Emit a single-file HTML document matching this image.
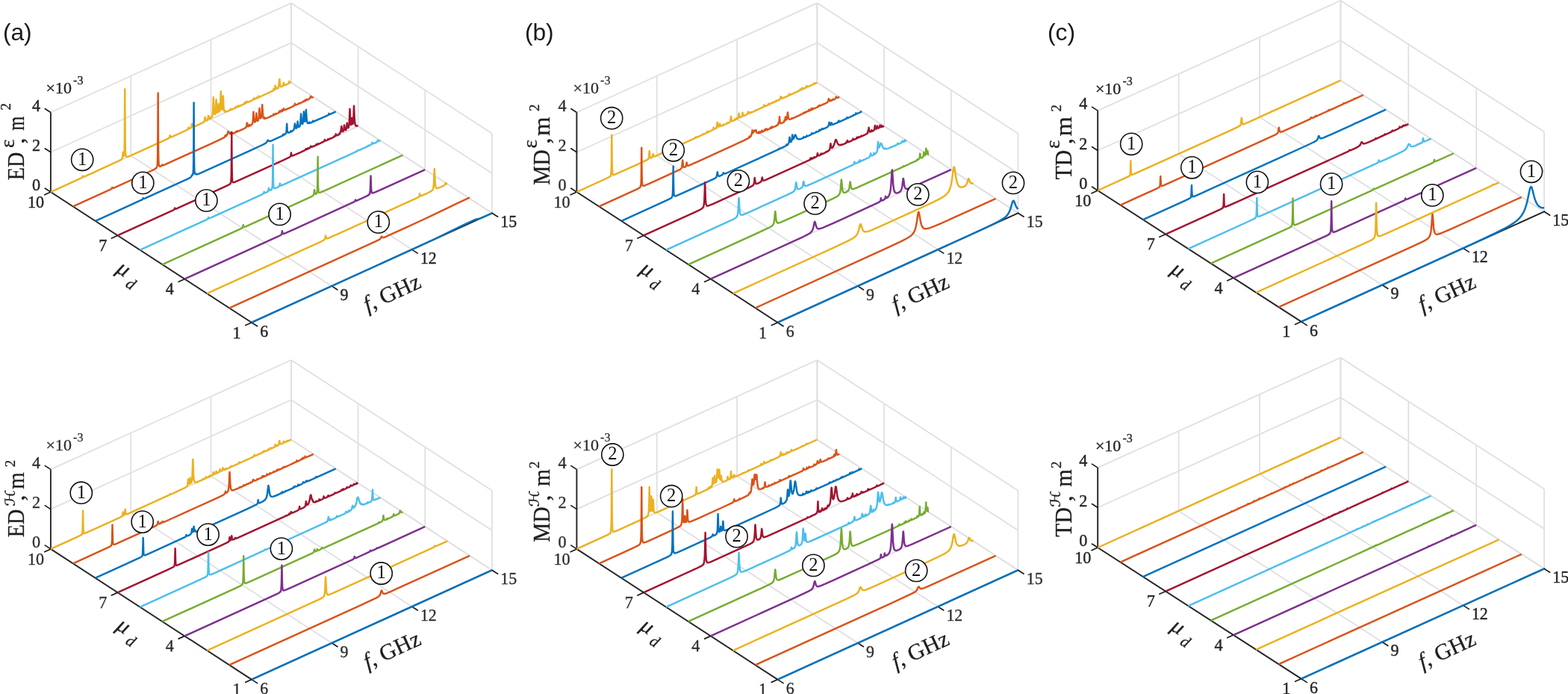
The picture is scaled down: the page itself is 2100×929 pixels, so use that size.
<!DOCTYPE html>
<html lang="en"><head><meta charset="utf-8"><title>Multipole decomposition spectra</title>
<style>
html,body{margin:0;padding:0;background:#fff;width:2100px;height:929px;overflow:hidden}
svg{display:block}
text{font-family:"Liberation Serif","DejaVu Serif",serif;fill:#262626}
.sans{font-family:"Liberation Sans","DejaVu Sans",sans-serif;fill:#1a1a1a}
.tk{font-size:23.6px;stroke-width:0.45px}
.lab{fill:#1f1f1f;stroke:#1f1f1f;stroke-width:0.3px}
.scr{font-family:"DejaVu Sans","DejaVu Math TeX Gyre","Liberation Serif",sans-serif}
.circ{font-size:24.6px;fill:#111;text-anchor:middle}
</style></head>
<body>
<svg width="2100" height="929" viewBox="0 0 2100 929">
<rect width="2100" height="929" fill="#ffffff"/>
<g id="panel-a1">
<g class="grid"><line x1="337.00" y1="431.70" x2="67.90" y2="257.00" stroke="#e0e0e2" stroke-width="1.8" /><line x1="444.33" y1="382.90" x2="175.23" y2="208.20" stroke="#e0e0e2" stroke-width="1.8" /><line x1="551.67" y1="334.10" x2="282.57" y2="159.40" stroke="#e0e0e2" stroke-width="1.8" /><line x1="659.00" y1="285.30" x2="389.90" y2="110.60" stroke="#e0e0e2" stroke-width="1.8" /><line x1="337.00" y1="431.70" x2="659.00" y2="285.30" stroke="#e0e0e2" stroke-width="1.8" /><line x1="247.30" y1="373.47" x2="569.30" y2="227.07" stroke="#e0e0e2" stroke-width="1.8" /><line x1="157.60" y1="315.23" x2="479.60" y2="168.83" stroke="#e0e0e2" stroke-width="1.8" /><line x1="67.90" y1="257.00" x2="389.90" y2="110.60" stroke="#e0e0e2" stroke-width="1.8" /><line x1="67.90" y1="257.00" x2="67.90" y2="150.50" stroke="#e0e0e2" stroke-width="1.8" /><line x1="175.23" y1="208.20" x2="175.23" y2="101.70" stroke="#e0e0e2" stroke-width="1.8" /><line x1="282.57" y1="159.40" x2="282.57" y2="52.90" stroke="#e0e0e2" stroke-width="1.8" /><line x1="389.90" y1="110.60" x2="389.90" y2="4.10" stroke="#e0e0e2" stroke-width="1.8" /><line x1="67.90" y1="257.00" x2="389.90" y2="110.60" stroke="#e0e0e2" stroke-width="1.8" /><line x1="67.90" y1="203.75" x2="389.90" y2="57.35" stroke="#e0e0e2" stroke-width="1.8" /><line x1="67.90" y1="150.50" x2="389.90" y2="4.10" stroke="#e0e0e2" stroke-width="1.8" /><line x1="659.00" y1="285.30" x2="659.00" y2="178.80" stroke="#e0e0e2" stroke-width="1.8" /><line x1="569.30" y1="227.07" x2="569.30" y2="120.57" stroke="#e0e0e2" stroke-width="1.8" /><line x1="479.60" y1="168.83" x2="479.60" y2="62.33" stroke="#e0e0e2" stroke-width="1.8" /><line x1="389.90" y1="110.60" x2="389.90" y2="4.10" stroke="#e0e0e2" stroke-width="1.8" /><line x1="389.90" y1="110.60" x2="659.00" y2="285.30" stroke="#e0e0e2" stroke-width="1.8" /><line x1="389.90" y1="57.35" x2="659.00" y2="232.05" stroke="#e0e0e2" stroke-width="1.8" /><line x1="389.90" y1="4.10" x2="659.00" y2="178.80" stroke="#e0e0e2" stroke-width="1.8" /></g>
<g class="axes"><line x1="67.90" y1="257.00" x2="67.90" y2="150.50" stroke="#262626" stroke-width="1.9" /><line x1="67.90" y1="257.00" x2="337.00" y2="431.70" stroke="#262626" stroke-width="1.9" stroke-linecap="square"/><line x1="337.00" y1="431.70" x2="659.00" y2="285.30" stroke="#262626" stroke-width="1.9" stroke-linecap="square"/><line x1="337.00" y1="431.70" x2="328.17" y2="435.71" stroke="#1c1c1c" stroke-width="1.7" /><line x1="247.30" y1="373.47" x2="238.47" y2="377.48" stroke="#1c1c1c" stroke-width="1.7" /><line x1="157.60" y1="315.23" x2="148.77" y2="319.25" stroke="#1c1c1c" stroke-width="1.7" /><line x1="67.90" y1="257.00" x2="59.07" y2="261.01" stroke="#1c1c1c" stroke-width="1.7" /><line x1="337.00" y1="431.70" x2="345.14" y2="436.98" stroke="#1c1c1c" stroke-width="1.7" /><line x1="444.33" y1="382.90" x2="452.47" y2="388.18" stroke="#1c1c1c" stroke-width="1.7" /><line x1="551.67" y1="334.10" x2="559.80" y2="339.38" stroke="#1c1c1c" stroke-width="1.7" /><line x1="659.00" y1="285.30" x2="667.14" y2="290.58" stroke="#1c1c1c" stroke-width="1.7" /><line x1="67.90" y1="257.00" x2="59.76" y2="251.72" stroke="#1c1c1c" stroke-width="1.7" /><line x1="67.90" y1="203.75" x2="59.76" y2="198.47" stroke="#1c1c1c" stroke-width="1.7" /><line x1="67.90" y1="150.50" x2="59.76" y2="145.22" stroke="#1c1c1c" stroke-width="1.7" /></g>
<g class="curves"><path d="M67.90,257.00 L108.65,238.42 L109.90,237.71 L110.40,237.20 L111.08,235.49 L111.65,236.48 L111.90,236.63 L112.65,236.54 L114.40,235.83 L157.40,216.22 L161.40,214.17 L162.40,213.47 L163.15,212.67 L163.65,211.67 L163.90,210.77 L164.15,209.30 L164.75,203.73 L164.90,204.25 L165.40,208.20 L165.65,208.82 L165.90,208.69 L166.15,207.81 L166.40,205.69 L166.65,200.58 L166.90,185.33 L167.25,119.24 L167.65,190.04 L167.90,201.86 L168.15,206.04 L168.40,207.89 L168.65,208.83 L169.15,209.63 L169.65,209.88 L170.15,209.91 L171.15,209.71 L172.40,209.28 L177.65,207.04 L224.90,185.54 L226.15,184.83 L226.65,184.38 L226.90,184.01 L227.15,183.38 L227.66,181.22 L228.15,182.88 L228.40,183.31 L228.90,183.49 L229.65,183.32 L235.90,180.59 L249.65,174.24 L250.90,173.55 L251.65,172.89 L251.90,172.51 L252.62,170.62 L253.15,171.56 L253.40,171.83 L253.65,171.93 L254.15,171.86 L254.65,171.64 L255.15,171.30 L255.65,170.79 L256.15,169.87 L256.40,169.06 L256.90,166.37 L257.11,165.69 L257.40,166.52 L257.90,168.63 L258.15,168.42 L258.40,167.50 L258.65,167.86 L258.90,169.10 L259.15,169.57 L260.15,169.34 L262.15,168.54 L270.15,164.83 L271.40,164.15 L272.40,163.46 L272.90,162.97 L273.40,162.18 L273.90,160.56 L274.40,157.44 L274.59,156.81 L275.40,160.28 L275.65,160.81 L276.15,161.21 L276.65,161.20 L277.40,160.81 L277.90,160.23 L278.15,159.72 L278.40,158.89 L279.08,154.86 L279.65,157.80 L279.90,158.61 L280.15,159.01 L280.40,159.18 L280.90,159.21 L281.15,158.34 L281.40,156.91 L281.65,157.05 L281.90,158.24 L282.15,158.60 L283.15,157.66 L283.90,156.35 L284.40,154.61 L284.65,153.10 L284.90,150.74 L285.15,146.80 L285.65,132.63 L285.82,130.14 L286.65,147.51 L286.90,150.56 L287.15,152.14 L287.40,152.83 L287.65,153.10 L287.90,153.02 L288.15,152.61 L288.40,151.75 L288.65,150.18 L288.90,147.33 L289.40,135.49 L289.57,133.27 L290.15,145.40 L290.40,148.60 L290.65,150.23 L290.90,150.98 L291.15,150.91 L291.65,149.39 L291.90,147.99 L292.56,139.02 L293.15,146.70 L293.40,148.58 L293.65,149.40 L293.90,149.56 L294.15,149.24 L294.40,148.42 L294.65,146.95 L294.90,144.42 L295.15,140.08 L295.65,124.48 L295.81,122.15 L295.90,122.94 L296.40,137.86 L296.65,142.48 L296.90,145.00 L297.15,146.24 L297.40,146.61 L297.65,146.24 L297.90,144.94 L298.15,142.17 L298.65,130.22 L298.80,128.36 L299.40,141.63 L299.65,145.06 L299.90,146.96 L300.15,148.06 L300.65,149.12 L300.90,149.37 L301.15,149.04 L301.40,148.33 L301.65,148.53 L301.90,149.36 L302.15,149.67 L302.40,149.64 L304.40,149.09 L304.90,148.91 L305.40,148.50 L306.15,148.42 L307.90,147.70 L308.40,145.93 L308.65,146.02 L308.90,146.88 L309.15,146.68 L309.40,145.78 L309.65,145.83 L309.90,146.52 L310.15,146.73 L314.90,144.62 L315.40,143.39 L315.65,143.40 L315.90,143.92 L316.15,143.56 L316.40,142.60 L316.65,142.66 L316.90,143.39 L317.15,143.61 L318.90,142.82 L319.40,141.20 L319.65,141.26 L319.90,142.02 L320.15,142.26 L326.90,139.19 L327.40,137.65 L327.65,137.70 L327.90,138.40 L328.15,138.60 L328.65,138.36 L328.90,138.23 L329.40,136.09 L329.65,136.14 L329.90,137.08 L330.15,137.22 L330.75,135.77 L331.40,136.70 L331.90,136.75 L333.40,136.22 L337.40,134.39 L338.65,133.71 L339.15,133.28 L339.40,132.91 L339.99,131.28 L340.65,132.43 L340.90,132.53 L341.40,132.34 L342.15,132.22 L342.90,131.91 L343.40,130.56 L343.65,130.59 L343.90,131.19 L344.15,131.36 L345.90,130.57 L346.40,128.46 L346.65,128.58 L346.90,129.65 L347.15,130.01 L360.40,123.96 L365.15,121.68 L365.90,121.27 L366.40,118.95 L366.65,119.02 L366.90,120.07 L367.15,120.33 L367.65,119.60 L368.15,117.92 L368.72,114.44 L369.40,117.50 L369.90,118.55 L370.15,118.40 L370.40,117.88 L370.65,117.94 L370.90,118.38 L371.15,118.48 L371.40,118.33 L371.90,117.95 L372.40,117.37 L372.90,116.38 L373.15,115.27 L373.65,111.60 L374.21,106.05 L374.40,106.08 L374.90,112.28 L375.15,114.12 L375.40,114.93 L375.65,115.40 L376.15,115.81 L376.90,115.86 L377.65,115.63 L378.40,115.18 L378.90,114.61 L379.40,113.28 L379.96,110.69 L380.65,113.21 L380.90,113.63 L381.15,113.82 L381.65,113.90 L382.65,113.64 L383.90,113.13 L385.15,112.49 L385.90,111.97 L386.65,110.80 L387.44,108.79 L387.65,109.00 L388.15,110.15 L388.40,110.43 L388.90,110.60 L389.90,110.40" fill="none" stroke="#EDB120" stroke-width="2.45" stroke-linejoin="round" stroke-linecap="butt"/><path d="M97.80,276.41 L147.80,253.64 L149.05,252.96 L149.55,252.51 L150.27,250.97 L150.80,251.73 L151.30,251.88 L152.05,251.67 L154.05,250.82 L203.55,228.25 L207.80,226.07 L208.80,225.36 L209.55,224.54 L210.05,223.58 L210.55,221.50 L210.80,219.17 L211.05,214.11 L211.30,199.92 L211.68,124.55 L212.05,198.05 L212.30,213.06 L212.55,218.17 L212.80,220.37 L213.05,221.46 L213.30,222.05 L213.80,222.57 L214.30,222.70 L215.30,222.52 L216.05,222.15 L216.55,221.64 L217.17,220.51 L217.30,220.54 L217.80,221.15 L218.30,221.27 L219.30,221.01 L221.80,219.97 L282.80,192.27 L293.55,187.32 L298.55,184.90 L300.80,183.65 L301.05,183.38 L301.55,181.60 L302.05,182.61 L302.55,180.77 L303.05,181.84 L303.30,181.55 L304.05,180.40 L304.80,178.77 L305.55,175.85 L306.05,176.90 L306.30,176.73 L306.55,176.84 L307.05,178.26 L307.55,178.83 L307.80,179.03 L308.05,178.98 L308.55,177.59 L309.05,179.40 L309.80,179.34 L310.80,179.10 L311.05,178.93 L311.55,178.01 L312.05,178.68 L314.80,177.58 L315.05,177.38 L315.55,176.50 L316.05,176.98 L316.55,176.33 L316.80,176.49 L317.05,176.47 L317.55,175.21 L318.05,176.16 L327.05,172.02 L329.05,170.85 L329.55,170.33 L329.80,169.92 L330.05,169.23 L330.30,167.96 L330.75,164.37 L331.30,168.01 L331.55,168.78 L331.80,169.10 L332.05,169.22 L332.55,169.22 L332.80,169.16 L333.05,168.83 L333.55,166.65 L334.05,168.66 L335.55,167.88 L336.55,167.21 L337.30,166.49 L337.80,165.73 L338.30,164.33 L338.55,163.04 L338.80,160.87 L339.49,149.65 L340.05,158.47 L340.30,161.07 L340.55,162.44 L340.80,163.14 L341.05,163.42 L341.55,163.05 L341.80,163.01 L342.05,162.70 L342.30,161.84 L342.55,160.33 L343.30,151.48 L344.05,160.43 L344.30,161.32 L344.55,161.74 L344.80,161.89 L345.05,161.86 L345.55,161.40 L346.05,160.25 L346.55,157.60 L346.80,155.02 L347.30,146.55 L347.48,145.04 L348.05,152.77 L348.30,155.58 L348.55,157.20 L348.80,158.06 L349.05,158.37 L349.55,157.55 L349.80,157.36 L350.05,156.64 L350.30,154.94 L350.55,152.11 L351.05,142.33 L351.25,140.28 L352.05,153.13 L352.30,155.36 L352.55,156.71 L353.05,158.07 L353.55,158.61 L353.80,158.74 L354.05,158.65 L354.55,157.33 L355.05,158.80 L357.30,158.13 L361.80,156.26 L362.05,156.09 L362.55,155.35 L363.05,155.71 L365.80,154.49 L366.05,154.18 L366.55,152.44 L367.05,153.93 L368.80,153.13 L369.05,152.90 L369.55,151.75 L370.05,152.57 L372.80,151.26 L373.05,151.00 L373.55,149.64 L374.05,150.42 L374.30,150.08 L374.96,148.23 L375.55,149.40 L375.80,149.57 L376.30,149.55 L376.80,149.39 L377.05,149.07 L377.55,147.05 L378.05,148.81 L378.80,148.30 L379.30,147.61 L379.96,145.25 L380.55,146.94 L380.80,147.19 L381.30,147.25 L382.05,147.04 L383.05,146.63 L383.55,146.31 L384.05,146.21 L389.30,143.84 L393.30,141.90 L393.80,141.54 L394.30,140.87 L394.93,138.78 L395.55,140.27 L395.80,140.46 L396.05,140.51 L396.55,140.42 L399.80,139.07 L400.05,138.87 L400.55,137.95 L401.05,138.51 L403.80,137.26 L404.55,136.65 L405.05,136.70 L405.80,136.35 L406.05,136.17 L406.55,135.37 L407.05,135.78 L407.80,135.44 L408.05,135.19 L408.55,133.87 L409.05,134.87 L409.80,134.52 L410.05,134.26 L410.55,132.88 L411.05,133.91 L411.55,133.44 L412.05,133.47 L412.30,133.35 L413.80,132.56 L414.80,131.81 L415.30,131.10 L416.15,128.80 L416.30,128.90 L416.80,130.05 L417.05,130.37 L417.30,130.53 L418.05,130.54 L419.80,129.93" fill="none" stroke="#D95319" stroke-width="2.45" stroke-linejoin="round" stroke-linecap="butt"/><path d="M127.70,295.82 L188.95,267.94 L190.20,267.29 L190.95,266.68 L191.20,266.28 L191.71,264.95 L192.20,265.78 L192.45,265.98 L192.70,266.02 L193.45,265.84 L194.95,265.22 L249.45,240.40 L254.20,238.05 L255.20,237.42 L255.95,236.72 L256.45,235.90 L257.11,234.22 L257.20,234.16 L257.70,234.38 L257.95,234.20 L258.20,233.65 L258.45,232.59 L258.70,230.55 L258.95,226.11 L259.20,213.94 L259.61,137.59 L259.95,206.48 L260.20,223.36 L260.45,228.90 L260.70,231.19 L260.95,232.25 L261.20,232.72 L261.45,232.81 L262.11,232.21 L262.95,233.31 L263.45,233.48 L264.20,233.39 L265.70,232.89 L272.45,229.97 L334.95,201.58 L351.95,193.76 L354.95,192.21 L356.45,191.14 L357.20,190.30 L358.45,188.00 L358.74,187.70 L358.95,187.70 L359.95,188.70 L360.45,188.98 L361.20,189.05 L362.45,188.78 L364.20,188.13 L367.45,186.73 L378.95,181.46 L379.45,179.62 L379.70,180.02 L379.95,180.78 L380.20,180.44 L380.45,179.82 L380.70,179.97 L380.95,180.32 L381.45,179.74 L381.95,179.70 L382.45,179.26 L382.95,178.44 L383.20,177.72 L383.45,176.48 L383.70,174.08 L384.20,165.67 L384.70,173.65 L384.95,175.80 L385.20,176.80 L385.45,177.29 L385.95,177.63 L386.45,177.65 L386.95,177.55 L387.45,177.21 L387.95,177.18 L388.95,176.77 L389.45,175.22 L389.70,175.54 L389.95,176.14 L390.20,176.16 L391.20,175.62 L392.70,174.55 L393.20,173.96 L393.70,172.99 L394.20,170.93 L394.70,166.65 L394.93,165.40 L395.20,166.14 L395.95,170.99 L396.20,171.57 L396.45,171.77 L396.70,171.80 L397.20,171.47 L397.45,171.06 L397.70,170.39 L397.95,169.25 L398.68,162.57 L399.20,167.18 L399.45,168.73 L399.70,169.51 L399.95,169.87 L400.20,170.00 L400.45,169.98 L400.95,169.61 L401.45,168.79 L401.95,167.11 L402.20,165.42 L403.17,152.50 L403.95,162.75 L404.20,164.54 L404.45,165.52 L404.70,165.97 L404.95,166.08 L405.20,165.85 L405.70,164.44 L405.95,162.97 L406.20,160.49 L406.70,151.71 L406.91,149.52 L407.70,160.09 L407.95,161.84 L408.20,162.60 L408.45,162.66 L408.70,162.09 L408.95,160.73 L409.20,158.24 L409.70,149.05 L409.91,146.91 L410.70,159.35 L410.95,161.59 L411.20,162.94 L411.70,164.31 L412.20,164.87 L412.95,165.12 L413.95,165.04 L414.45,163.51 L414.70,163.91 L414.95,164.62 L415.20,164.70 L416.45,164.25 L418.95,163.23 L419.45,161.61 L419.70,161.97 L419.95,162.65 L420.20,162.66 L422.95,161.49 L423.45,160.88 L423.95,161.00 L424.20,160.94 L425.95,160.15 L426.45,159.52 L426.95,159.66 L427.20,159.59 L439.95,153.83 L440.45,151.96 L440.70,152.39 L440.95,153.20 L441.20,153.15 L441.45,152.88 L442.20,152.81 L449.70,149.41" fill="none" stroke="#0072BD" stroke-width="2.45" stroke-linejoin="round" stroke-linecap="butt"/><path d="M157.60,315.23 L231.35,281.66 L232.60,281.01 L233.35,280.39 L233.60,279.98 L234.15,278.43 L234.60,279.34 L234.85,279.62 L235.10,279.70 L235.85,279.55 L237.35,278.94 L300.60,250.18 L305.85,247.66 L307.10,246.93 L307.85,246.36 L308.60,245.42 L309.10,244.06 L309.35,242.62 L309.60,239.68 L309.85,231.97 L310.28,176.98 L310.60,223.14 L310.85,236.51 L311.10,240.77 L311.35,242.51 L311.60,243.34 L311.85,243.77 L312.35,244.10 L312.85,244.14 L313.85,243.93 L315.10,243.48 L320.85,240.98 L377.35,215.31 L386.85,210.91 L388.35,210.01 L388.85,209.47 L389.10,209.02 L389.35,208.24 L389.94,204.44 L390.35,206.89 L390.60,207.91 L390.85,208.34 L391.10,208.52 L391.60,208.55 L392.85,208.17 L403.85,203.26 L404.60,202.65 L405.10,202.69 L408.85,200.97 L409.10,200.52 L409.35,199.55 L409.60,199.27 L409.85,200.00 L410.10,200.13 L410.35,199.35 L410.60,199.10 L410.85,199.65 L411.10,199.94 L411.85,199.58 L412.10,199.21 L412.35,198.44 L412.60,198.19 L412.85,198.71 L413.10,198.92 L413.60,198.49 L414.10,198.44 L414.85,197.91 L415.35,197.32 L416.15,195.60 L416.35,195.59 L416.85,196.42 L417.10,196.67 L417.60,196.72 L418.35,196.53 L418.85,196.34 L419.35,195.74 L419.60,195.58 L420.10,195.82 L422.85,194.60 L423.10,194.22 L423.35,193.44 L423.60,193.19 L423.85,193.75 L424.10,194.03 L424.85,193.69 L425.10,193.33 L425.35,192.61 L425.60,192.37 L425.85,192.87 L426.10,193.12 L430.85,190.95 L431.60,190.24 L432.10,190.35 L432.60,190.10 L433.60,189.52 L434.10,189.02 L434.35,188.56 L434.87,186.93 L435.35,188.01 L435.60,188.29 L435.85,188.37 L436.35,188.31 L438.85,187.29 L439.10,186.93 L439.35,186.19 L439.60,185.96 L439.85,186.47 L440.10,186.66 L440.60,186.24 L441.10,186.27 L441.85,185.92 L442.35,185.26 L442.60,185.09 L443.10,185.35 L446.85,183.57 L447.10,183.22 L447.35,182.54 L447.60,182.30 L447.85,182.71 L448.10,182.89 L448.85,182.29 L449.35,181.32 L449.85,179.33 L450.35,180.84 L450.60,181.20 L450.85,181.32 L451.60,181.20 L452.85,180.63 L453.10,180.35 L453.35,179.84 L453.60,179.62 L453.85,179.84 L454.10,179.91 L454.85,179.34 L455.10,178.73 L455.35,177.51 L455.60,176.98 L455.85,177.47 L456.10,177.07 L457.34,169.07 L457.60,170.41 L458.10,174.40 L458.35,175.38 L458.60,175.88 L458.85,176.10 L459.10,176.13 L459.35,176.00 L459.60,175.71 L460.10,174.46 L460.35,173.21 L460.85,168.80 L461.08,167.50 L461.35,168.84 L461.85,172.62 L462.10,173.52 L462.35,173.99 L462.60,174.17 L462.85,174.16 L463.10,174.00 L463.35,173.66 L463.85,172.25 L464.10,170.86 L464.60,165.99 L464.83,164.60 L465.10,166.06 L465.60,170.02 L465.85,170.89 L466.10,171.25 L466.35,171.27 L466.60,171.00 L466.85,170.45 L467.35,168.14 L467.60,165.89 L467.85,162.24 L468.35,149.25 L468.57,145.85 L469.35,162.07 L469.60,164.91 L469.85,166.42 L470.10,167.03 L470.35,166.90 L470.60,165.90 L471.32,158.09 L471.85,163.85 L472.10,165.48 L472.35,165.97 L472.60,165.63 L472.85,164.49 L473.10,162.33 L473.35,158.57 L473.85,145.02 L474.06,141.77 L474.85,159.85 L475.10,162.98 L475.85,166.98 L476.10,167.77 L476.35,168.13 L476.60,168.37 L477.10,168.62 L477.85,168.70 L478.35,168.21 L478.85,168.51 L479.60,168.34" fill="none" stroke="#A2142F" stroke-width="2.45" stroke-linejoin="round" stroke-linecap="butt"/><path d="M187.50,334.64 L276.00,294.37 L277.50,293.60 L278.25,292.99 L278.50,292.60 L279.08,290.91 L279.50,291.82 L279.75,292.15 L280.00,292.25 L280.75,292.13 L282.00,291.64 L349.75,260.83 L351.75,259.84 L352.75,259.14 L353.25,258.31 L353.74,256.66 L354.25,257.87 L354.50,258.14 L354.75,258.22 L355.25,258.14 L356.50,257.63 L358.25,256.59 L358.75,256.07 L359.00,255.66 L359.50,254.03 L359.99,251.62 L360.50,253.68 L360.75,254.39 L361.00,254.73 L361.50,254.91 L362.00,254.81 L362.75,254.45 L363.25,254.08 L364.00,253.13 L364.50,251.58 L364.75,249.77 L365.00,245.58 L365.25,232.68 L365.55,193.74 L366.00,241.96 L366.25,247.97 L366.50,250.18 L366.75,251.17 L367.00,251.65 L367.25,251.90 L367.50,252.02 L368.00,252.07 L369.25,251.77 L371.25,250.96 L373.00,250.09 L373.75,249.53 L374.25,248.75 L374.50,247.90 L374.96,245.44 L375.50,247.73 L375.75,248.22 L376.00,248.40 L376.75,248.38 L378.50,247.73 L469.75,206.31 L471.00,205.74 L471.50,205.38 L472.00,205.29 L475.50,203.68 L478.50,202.15 L479.00,201.74 L479.81,200.70 L480.75,201.01 L482.00,200.67 L485.00,199.36 L485.50,199.02 L486.00,198.91 L490.00,197.10 L490.50,196.45 L491.00,196.64 L493.00,195.72 L493.50,194.61 L494.00,195.26 L494.50,195.02 L496.50,194.00 L497.50,193.21 L498.00,192.27 L498.53,190.70 L499.25,192.08 L499.50,192.25 L500.00,192.29 L500.50,191.97 L501.00,191.99 L502.50,191.34 L504.00,190.60 L504.75,190.10 L505.25,189.53 L506.02,187.70 L506.25,187.84 L507.00,188.94 L507.75,188.87 L509.50,188.20" fill="none" stroke="#4DBEEE" stroke-width="2.45" stroke-linejoin="round" stroke-linecap="butt"/><path d="M217.40,354.06 L322.65,306.14 L324.15,305.29 L324.65,304.85 L324.90,304.49 L325.15,303.90 L325.76,300.90 L326.15,302.61 L326.40,303.40 L326.65,303.73 L326.90,303.84 L327.40,303.82 L328.90,303.30 L395.90,272.89 L416.15,263.59 L418.65,262.23 L419.40,261.61 L419.90,260.91 L420.40,259.43 L421.14,254.10 L421.65,257.49 L421.90,258.72 L422.15,259.34 L422.40,259.64 L422.65,259.76 L422.90,259.77 L423.40,259.58 L423.90,259.16 L424.15,258.80 L424.40,258.26 L424.65,257.34 L424.90,255.55 L425.15,251.13 L425.40,236.60 L425.64,209.73 L425.90,238.64 L426.15,251.34 L426.40,255.15 L426.65,256.62 L426.90,257.29 L427.15,257.61 L427.40,257.77 L427.90,257.85 L428.90,257.64 L430.15,257.19 L436.65,254.34 L539.40,207.66" fill="none" stroke="#77AC30" stroke-width="2.45" stroke-linejoin="round" stroke-linecap="butt"/><path d="M247.30,373.47 L374.30,315.65 L375.55,314.99 L376.30,314.48 L376.80,313.94 L377.05,313.50 L377.30,312.79 L377.96,309.14 L378.55,311.99 L378.80,312.58 L379.05,312.85 L379.30,312.95 L379.80,312.95 L381.55,312.35 L394.55,306.51 L472.80,270.90 L474.30,270.15 L475.05,269.64 L475.55,268.92 L476.06,267.44 L476.55,268.42 L476.80,268.66 L477.30,268.69 L477.80,268.56 L486.55,264.65 L492.30,261.86 L493.80,260.87 L494.55,260.08 L495.05,259.15 L495.55,257.08 L495.80,254.79 L496.05,250.27 L496.53,235.50 L497.05,250.74 L497.30,254.56 L497.55,256.40 L497.80,257.35 L498.05,257.86 L498.55,258.30 L499.30,258.39 L500.30,258.16 L501.55,257.71 L506.80,255.45 L569.30,227.07" fill="none" stroke="#7E2F8E" stroke-width="2.45" stroke-linejoin="round" stroke-linecap="butt"/><path d="M277.20,392.88 L431.20,322.78 L433.45,321.58 L434.20,321.03 L434.70,320.47 L435.20,319.48 L435.45,318.60 L435.95,315.85 L436.12,315.38 L436.20,315.43 L436.95,318.44 L437.20,318.89 L437.45,319.13 L437.95,319.28 L438.45,319.24 L440.70,318.45 L465.45,307.29 L558.70,264.82 L560.45,263.86 L561.20,263.15 L561.45,262.67 L561.70,261.83 L562.18,259.18 L562.70,261.51 L562.95,262.06 L563.20,262.27 L563.70,262.32 L564.95,261.93 L567.70,260.73 L572.95,258.28 L575.95,256.76 L577.95,255.49 L578.70,254.82 L579.20,254.22 L579.95,252.74 L580.45,250.76 L580.95,246.44 L581.20,242.24 L581.70,228.55 L581.87,226.33 L582.45,239.53 L582.70,244.31 L582.95,247.22 L583.45,250.09 L583.70,250.79 L584.20,251.54 L584.70,251.85 L585.20,251.95 L586.70,251.72 L589.70,250.60 L593.70,248.78 L594.95,248.06 L595.70,247.43 L596.20,246.75 L596.95,245.14 L597.13,244.94 L597.45,245.13 L597.95,245.82 L598.20,246.02 L598.70,246.17 L599.20,246.13" fill="none" stroke="#EDB120" stroke-width="2.45" stroke-linejoin="round" stroke-linecap="butt"/><path d="M307.10,412.29 L503.60,322.89 L507.10,321.17 L508.85,320.04 L509.35,319.54 L509.85,318.84 L510.60,317.23 L511.01,316.62 L511.35,316.77 L511.85,317.46 L512.35,317.91 L512.85,318.06 L513.35,318.05 L515.10,317.55 L518.85,315.96 L543.10,304.92 L565.60,294.50 L582.35,286.57 L614.10,271.32 L629.10,264.30" fill="none" stroke="#D95319" stroke-width="2.45" stroke-linejoin="round" stroke-linecap="butt"/><path d="M337.00,431.70 L559.50,330.47 L583.00,319.49 L619.75,301.66 L635.00,294.51 L637.00,293.78 L641.75,292.66 L644.50,291.75 L648.25,290.17 L659.00,285.30" fill="none" stroke="#0072BD" stroke-width="2.45" stroke-linejoin="round" stroke-linecap="butt"/></g>
<text class="tk" transform="translate(54.1,255.1) scale(0.94,1)" text-anchor="end" fill="#262626" stroke="#262626">0</text>
<text class="tk" transform="translate(54.1,201.8) scale(0.94,1)" text-anchor="end" fill="#262626" stroke="#262626">2</text>
<text class="tk" transform="translate(54.1,148.6) scale(0.94,1)" text-anchor="end" fill="#262626" stroke="#262626">4</text>
<text class="tk" transform="translate(48.0,277.8) scale(0.94,1)" text-anchor="middle" fill="#262626" stroke="#262626">10</text>
<text class="tk" transform="translate(137.7,336.0) scale(0.94,1)" text-anchor="middle" fill="#262626" stroke="#262626">7</text>
<text class="tk" transform="translate(227.4,394.3) scale(0.94,1)" text-anchor="middle" fill="#262626" stroke="#262626">4</text>
<text class="tk" transform="translate(317.1,452.5) scale(0.94,1)" text-anchor="middle" fill="#262626" stroke="#262626">1</text>
<text class="tk" transform="translate(348.2,450.6) scale(0.93,1)" text-anchor="start" fill="#262626" stroke="#262626">6</text>
<text class="tk" transform="translate(455.5,401.8) scale(0.93,1)" text-anchor="start" fill="#262626" stroke="#262626">9</text>
<text class="tk" transform="translate(562.9,353.0) scale(0.93,1)" text-anchor="start" fill="#262626" stroke="#262626">12</text>
<text class="tk" transform="translate(670.2,304.2) scale(0.93,1)" text-anchor="start" fill="#262626" stroke="#262626">15</text>
<text class="tk" x="61.6" y="125.1" fill="#262626" stroke="#262626" style="font-size:22px;stroke-width:0.4px">×10</text>
<text class="tk" x="98.1" y="113.1" style="font-size:16px;stroke-width:0.3px" fill="#262626" stroke="#262626">-3</text>
<text class="lab" transform="translate(528.9,401.0) rotate(-24.5)" text-anchor="middle" style="font-size:30.3px"><tspan font-style="italic">f</tspan>, GHz</text>
<text class="lab" transform="translate(154.4,363.5) rotate(33)" style="font-size:29.5px" font-style="italic">μ</text>
<text class="lab" transform="translate(166.9,383.0) rotate(33)" style="font-size:21.5px" font-style="italic">d</text>
<text class="lab" transform="translate(32.4,241.2) rotate(-90)" style="font-size:31.5px"  stroke="#1f1f1f" stroke-width="0.2" textLength="37.5" lengthAdjust="spacingAndGlyphs">ED</text>
<text class="lab" transform="translate(18.8,198.0) rotate(-90)" style="font-size:27.5px"  stroke="#1f1f1f" stroke-width="0.2">ε</text>
<text class="lab" transform="translate(32.4,192.5) rotate(-90)" style="font-size:31.5px"  stroke="#1f1f1f" stroke-width="0.2">,</text>
<text class="lab" transform="translate(32.4,174.7) rotate(-90)" style="font-size:31.5px"  stroke="#1f1f1f" stroke-width="0.2" textLength="19" lengthAdjust="spacingAndGlyphs">m</text>
<text class="lab" transform="translate(14.3,147.4) rotate(-90)" style="font-size:19px"  stroke="#1f1f1f" stroke-width="0.2">2</text>
<circle cx="110.2" cy="213.8" r="14.6" fill="#fff" stroke="#111" stroke-width="1.6"/>
<text class="circ" x="110.2" y="220.7">1</text>
<circle cx="191.3" cy="244.9" r="14.6" fill="#fff" stroke="#111" stroke-width="1.6"/>
<text class="circ" x="191.3" y="251.8">1</text>
<circle cx="276.4" cy="268.4" r="14.6" fill="#fff" stroke="#111" stroke-width="1.6"/>
<text class="circ" x="276.4" y="275.3">1</text>
<circle cx="374.6" cy="286.9" r="14.6" fill="#fff" stroke="#111" stroke-width="1.6"/>
<text class="circ" x="374.6" y="293.8">1</text>
<circle cx="506.8" cy="297.4" r="14.6" fill="#fff" stroke="#111" stroke-width="1.6"/>
<text class="circ" x="506.8" y="304.3">1</text>
</g>
<g id="panel-b1">
<g class="grid"><line x1="1041.50" y1="431.70" x2="772.40" y2="257.00" stroke="#e0e0e2" stroke-width="1.8" /><line x1="1148.83" y1="382.90" x2="879.73" y2="208.20" stroke="#e0e0e2" stroke-width="1.8" /><line x1="1256.17" y1="334.10" x2="987.07" y2="159.40" stroke="#e0e0e2" stroke-width="1.8" /><line x1="1363.50" y1="285.30" x2="1094.40" y2="110.60" stroke="#e0e0e2" stroke-width="1.8" /><line x1="1041.50" y1="431.70" x2="1363.50" y2="285.30" stroke="#e0e0e2" stroke-width="1.8" /><line x1="951.80" y1="373.47" x2="1273.80" y2="227.07" stroke="#e0e0e2" stroke-width="1.8" /><line x1="862.10" y1="315.23" x2="1184.10" y2="168.83" stroke="#e0e0e2" stroke-width="1.8" /><line x1="772.40" y1="257.00" x2="1094.40" y2="110.60" stroke="#e0e0e2" stroke-width="1.8" /><line x1="772.40" y1="257.00" x2="772.40" y2="150.50" stroke="#e0e0e2" stroke-width="1.8" /><line x1="879.73" y1="208.20" x2="879.73" y2="101.70" stroke="#e0e0e2" stroke-width="1.8" /><line x1="987.07" y1="159.40" x2="987.07" y2="52.90" stroke="#e0e0e2" stroke-width="1.8" /><line x1="1094.40" y1="110.60" x2="1094.40" y2="4.10" stroke="#e0e0e2" stroke-width="1.8" /><line x1="772.40" y1="257.00" x2="1094.40" y2="110.60" stroke="#e0e0e2" stroke-width="1.8" /><line x1="772.40" y1="203.75" x2="1094.40" y2="57.35" stroke="#e0e0e2" stroke-width="1.8" /><line x1="772.40" y1="150.50" x2="1094.40" y2="4.10" stroke="#e0e0e2" stroke-width="1.8" /><line x1="1363.50" y1="285.30" x2="1363.50" y2="178.80" stroke="#e0e0e2" stroke-width="1.8" /><line x1="1273.80" y1="227.07" x2="1273.80" y2="120.57" stroke="#e0e0e2" stroke-width="1.8" /><line x1="1184.10" y1="168.83" x2="1184.10" y2="62.33" stroke="#e0e0e2" stroke-width="1.8" /><line x1="1094.40" y1="110.60" x2="1094.40" y2="4.10" stroke="#e0e0e2" stroke-width="1.8" /><line x1="1094.40" y1="110.60" x2="1363.50" y2="285.30" stroke="#e0e0e2" stroke-width="1.8" /><line x1="1094.40" y1="57.35" x2="1363.50" y2="232.05" stroke="#e0e0e2" stroke-width="1.8" /><line x1="1094.40" y1="4.10" x2="1363.50" y2="178.80" stroke="#e0e0e2" stroke-width="1.8" /></g>
<g class="axes"><line x1="772.40" y1="257.00" x2="772.40" y2="150.50" stroke="#262626" stroke-width="1.9" /><line x1="772.40" y1="257.00" x2="1041.50" y2="431.70" stroke="#262626" stroke-width="1.9" stroke-linecap="square"/><line x1="1041.50" y1="431.70" x2="1363.50" y2="285.30" stroke="#262626" stroke-width="1.9" stroke-linecap="square"/><line x1="1041.50" y1="431.70" x2="1032.67" y2="435.71" stroke="#1c1c1c" stroke-width="1.7" /><line x1="951.80" y1="373.47" x2="942.97" y2="377.48" stroke="#1c1c1c" stroke-width="1.7" /><line x1="862.10" y1="315.23" x2="853.27" y2="319.25" stroke="#1c1c1c" stroke-width="1.7" /><line x1="772.40" y1="257.00" x2="763.57" y2="261.01" stroke="#1c1c1c" stroke-width="1.7" /><line x1="1041.50" y1="431.70" x2="1049.64" y2="436.98" stroke="#1c1c1c" stroke-width="1.7" /><line x1="1148.83" y1="382.90" x2="1156.97" y2="388.18" stroke="#1c1c1c" stroke-width="1.7" /><line x1="1256.17" y1="334.10" x2="1264.30" y2="339.38" stroke="#1c1c1c" stroke-width="1.7" /><line x1="1363.50" y1="285.30" x2="1371.64" y2="290.58" stroke="#1c1c1c" stroke-width="1.7" /><line x1="772.40" y1="257.00" x2="764.26" y2="251.72" stroke="#1c1c1c" stroke-width="1.7" /><line x1="772.40" y1="203.75" x2="764.26" y2="198.47" stroke="#1c1c1c" stroke-width="1.7" /><line x1="772.40" y1="150.50" x2="764.26" y2="145.22" stroke="#1c1c1c" stroke-width="1.7" /></g>
<g class="curves"><path d="M772.40,257.00 L812.90,238.50 L816.15,236.77 L817.15,235.93 L817.65,235.22 L818.15,233.80 L818.40,232.31 L818.65,229.27 L818.90,221.54 L819.32,180.73 L819.65,215.40 L819.90,226.77 L820.15,230.71 L820.40,232.38 L820.65,233.18 L820.90,233.60 L821.40,233.94 L821.90,233.98 L822.65,233.84 L824.40,233.22 L827.90,231.72 L850.40,221.53 L863.65,215.44 L865.90,214.33 L867.15,213.59 L867.90,212.95 L868.40,212.24 L868.90,210.72 L869.15,209.06 L869.75,201.91 L870.40,208.93 L870.65,210.14 L870.90,210.73 L871.15,211.03 L871.65,211.21 L872.40,211.08 L873.15,210.69 L873.65,210.20 L874.15,209.04 L874.74,206.10 L875.40,208.75 L875.65,209.15 L875.90,209.33 L876.40,209.37 L878.15,208.81 L887.90,204.47 L929.40,185.59 L930.65,184.97 L931.40,184.45 L932.15,183.22 L932.65,183.69 L932.90,183.77 L933.90,183.51 L940.90,180.37 L941.15,180.05 L941.40,179.47 L941.65,179.33 L941.90,179.69 L942.15,179.80 L946.90,177.63 L947.40,175.82 L947.65,175.90 L947.90,176.78 L948.15,177.06 L952.15,175.18 L953.90,174.24 L954.65,173.65 L955.15,172.89 L955.87,170.63 L956.40,171.87 L956.65,172.25 L957.15,172.43 L958.15,172.06 L959.15,171.23 L959.65,170.41 L959.90,169.73 L960.65,163.70 L960.86,163.76 L961.65,168.28 L961.90,168.92 L962.15,169.24 L962.40,169.37 L962.65,169.36 L963.15,168.93 L963.40,168.41 L964.10,165.51 L964.65,167.54 L964.90,168.16 L965.15,168.46 L965.40,168.59 L965.90,168.62 L967.65,168.08 L967.90,167.98 L968.40,166.66 L968.65,166.70 L968.90,167.28 L969.15,167.45 L973.90,165.31 L974.40,164.10 L974.65,164.10 L974.90,164.59 L975.15,164.71 L976.90,163.76 L977.65,163.10 L977.90,162.78 L978.15,161.80 L979.08,155.74 L979.65,160.34 L979.90,161.23 L980.15,161.62 L980.65,161.84 L981.40,161.73 L982.40,161.38 L983.90,160.74 L984.40,159.59 L984.65,159.59 L984.90,160.05 L985.15,160.17 L985.90,159.81 L986.40,158.06 L986.65,158.12 L986.90,158.92 L987.15,159.13 L987.90,158.63 L988.40,158.09 L988.90,156.86 L989.57,151.97 L990.15,155.94 L990.40,156.65 L990.65,156.95 L990.90,157.06 L991.40,157.04 L991.90,156.89 L992.90,156.35 L993.40,155.88 L993.65,155.48 L993.90,154.81 L994.15,153.55 L994.56,150.71 L995.15,154.03 L995.40,154.59 L995.65,154.83 L996.15,154.91 L997.40,154.54 L999.65,153.50 L1000.40,153.04 L1000.90,152.59 L1001.40,151.71 L1002.05,149.50 L1002.15,149.58 L1002.65,151.04 L1002.90,151.40 L1003.15,151.54 L1003.65,151.57 L1004.65,151.28 L1004.90,151.18 L1005.40,149.93 L1005.65,149.96 L1005.90,150.51 L1006.15,150.58 L1006.40,150.34 L1006.90,150.28 L1007.40,149.89 L1008.15,149.78 L1010.90,148.54 L1011.40,148.01 L1011.65,147.94 L1012.15,147.98 L1021.90,143.48 L1022.40,143.17 L1022.90,142.61 L1023.40,140.55 L1023.65,140.97 L1023.90,142.01 L1024.15,142.38 L1024.65,142.24 L1028.90,140.37 L1029.40,138.85 L1029.65,138.90 L1029.90,139.59 L1030.15,139.80 L1030.90,139.46 L1031.40,138.62 L1031.65,138.58 L1031.90,138.85 L1032.15,138.89 L1034.90,137.64 L1035.40,136.55 L1035.65,136.55 L1035.90,136.97 L1036.15,137.07 L1038.90,135.81 L1039.40,134.50 L1039.65,134.52 L1039.90,135.08 L1040.15,135.24 L1042.90,133.92 L1043.90,133.34 L1044.90,132.20 L1045.15,131.52 L1045.65,129.40 L1045.73,129.35 L1046.15,130.10 L1046.40,129.77 L1046.65,130.25 L1046.90,131.32 L1047.15,131.34 L1047.40,130.65 L1047.65,130.73 L1047.90,131.32 L1048.15,131.29 L1048.40,130.86 L1048.65,130.83 L1048.90,131.07 L1049.15,131.10 L1055.90,128.09 L1056.40,126.71 L1056.65,126.74 L1056.90,127.35 L1057.15,126.89 L1057.40,125.72 L1057.65,125.82 L1057.90,126.76 L1058.15,127.07 L1062.90,124.91 L1063.40,124.55 L1064.15,124.35 L1069.90,121.72 L1070.40,121.12 L1070.65,121.05 L1070.90,121.16 L1071.15,120.65 L1071.40,119.74 L1071.65,119.78 L1071.90,120.43 L1072.15,120.61 L1072.65,120.28 L1073.15,119.69 L1073.71,118.32 L1073.90,118.53 L1074.15,118.41 L1074.40,117.61 L1074.65,117.87 L1074.90,118.88 L1075.15,119.22 L1075.40,119.14 L1077.90,118.07 L1078.40,117.17 L1078.65,117.14 L1078.90,117.43 L1079.15,117.48 L1079.90,117.07 L1080.40,114.91 L1080.65,114.83 L1080.90,115.47 L1081.20,115.32 L1081.65,115.83 L1081.90,115.96 L1082.65,115.85 L1089.90,112.64 L1090.40,111.25 L1090.65,111.28 L1090.90,111.90 L1091.15,112.07 L1094.40,110.60" fill="none" stroke="#EDB120" stroke-width="2.45" stroke-linejoin="round" stroke-linecap="butt"/><path d="M802.30,276.41 L851.80,253.84 L855.80,251.81 L856.80,251.09 L857.30,250.56 L857.80,249.67 L858.05,248.90 L858.30,247.60 L858.55,245.02 L858.80,238.72 L859.26,197.70 L859.55,227.77 L859.80,240.91 L860.05,245.33 L860.30,247.15 L860.55,248.01 L860.80,248.45 L861.05,248.69 L861.55,248.85 L862.55,248.71 L864.55,247.99 L868.30,246.36 L895.05,234.23 L907.55,228.48 L909.80,227.37 L911.30,226.50 L912.05,225.90 L912.55,225.30 L913.05,224.20 L913.30,223.19 L913.55,221.48 L914.05,215.13 L914.18,214.38 L914.30,214.94 L914.80,220.83 L915.05,222.33 L915.30,223.12 L915.55,223.53 L915.80,223.75 L916.05,223.85 L916.55,223.85 L917.30,223.61 L918.05,223.13 L918.55,222.52 L919.05,221.09 L919.67,217.58 L919.80,217.86 L920.30,220.60 L920.55,221.26 L920.80,221.58 L921.30,221.78 L921.80,221.75 L923.55,221.16 L935.55,215.81 L985.30,193.15 L996.55,187.91 L1002.05,185.13 L1002.80,184.70 L1003.05,184.36 L1003.55,182.58 L1004.05,183.90 L1005.05,183.06 L1005.55,181.98 L1005.80,182.08 L1006.05,181.86 L1006.55,179.33 L1006.80,179.59 L1007.05,179.03 L1007.54,174.48 L1008.05,177.74 L1008.55,176.62 L1008.80,177.26 L1009.05,177.57 L1010.05,175.36 L1010.55,174.55 L1010.80,174.38 L1011.05,174.38 L1011.30,174.54 L1011.80,175.21 L1012.05,175.39 L1012.30,174.63 L1012.55,174.31 L1013.05,177.09 L1013.55,177.56 L1014.55,178.06 L1015.80,178.16 L1016.05,177.94 L1016.55,176.22 L1017.05,177.97 L1017.80,177.77 L1018.05,177.56 L1018.55,176.36 L1019.05,177.36 L1019.80,177.09 L1020.05,176.75 L1020.55,174.59 L1021.05,176.60 L1022.55,175.93 L1023.05,175.56 L1023.55,174.43 L1023.80,174.60 L1024.05,174.47 L1024.51,173.05 L1025.05,174.19 L1025.30,174.41 L1025.80,174.44 L1026.05,174.17 L1026.55,172.27 L1027.05,174.03 L1030.80,172.41 L1031.05,172.19 L1031.55,171.12 L1032.05,171.85 L1032.80,171.51 L1033.05,171.20 L1033.55,169.44 L1034.05,170.94 L1039.80,168.27 L1040.55,167.71 L1041.05,167.60 L1041.80,167.11 L1042.05,166.68 L1042.55,164.25 L1042.80,165.00 L1043.05,165.27 L1043.30,164.06 L1043.55,161.80 L1043.98,156.17 L1044.55,162.76 L1044.80,164.07 L1045.05,164.67 L1045.30,164.96 L1045.55,165.08 L1046.05,165.10 L1047.30,164.71 L1048.80,164.00 L1049.80,163.38 L1050.05,162.97 L1050.55,160.73 L1050.80,161.42 L1051.05,161.74 L1051.30,160.88 L1052.00,156.55 L1052.55,159.34 L1052.80,160.09 L1053.05,160.35 L1053.30,160.30 L1053.55,160.00 L1053.80,159.44 L1054.05,158.49 L1054.30,156.93 L1054.80,151.65 L1054.99,150.58 L1055.80,157.20 L1056.05,158.31 L1056.30,158.95 L1056.80,159.54 L1057.30,159.71 L1058.05,159.67 L1058.80,159.47 L1059.80,159.12 L1060.05,158.94 L1060.55,158.08 L1061.05,158.62 L1070.80,154.29 L1071.05,154.12 L1071.55,153.43 L1072.05,153.72 L1074.30,152.67 L1075.05,152.26 L1075.55,151.85 L1076.21,150.75 L1076.80,151.23 L1077.30,151.22 L1077.80,151.05 L1078.05,150.84 L1078.55,149.72 L1079.05,150.51 L1080.05,150.01 L1080.55,149.64 L1081.20,148.75 L1081.80,149.05 L1082.80,148.81 L1083.05,148.50 L1083.55,146.65 L1084.05,148.27 L1085.80,147.49 L1086.05,147.16 L1086.55,145.19 L1087.05,146.92 L1087.80,146.58 L1088.05,146.31 L1088.55,144.79 L1089.05,146.01 L1094.80,143.37 L1095.05,143.17 L1095.55,142.28 L1096.05,142.72 L1096.80,142.08 L1097.43,140.77 L1098.05,141.50 L1098.30,141.56 L1098.80,141.47 L1101.80,140.19 L1102.55,139.55 L1103.05,139.62 L1106.55,137.93 L1108.05,136.96 L1108.80,136.02 L1109.30,134.60 L1109.80,132.23 L1109.91,132.03 L1110.05,132.20 L1110.55,134.13 L1110.80,134.72 L1111.30,135.19 L1111.80,135.25 L1112.05,135.08 L1112.55,133.86 L1113.05,134.92 L1114.05,134.49 L1114.80,133.99 L1115.05,133.63 L1115.40,132.76 L1115.55,132.73 L1116.05,133.45 L1116.80,133.24 L1118.05,132.57 L1118.55,132.18 L1119.05,131.54 L1119.90,129.53 L1120.05,129.61 L1120.55,130.57 L1120.80,130.83 L1121.05,130.92 L1121.55,130.72 L1122.05,130.84 L1122.80,130.58 L1123.05,130.40 L1123.30,130.04 L1123.55,129.95 L1123.80,130.10 L1124.30,129.95" fill="none" stroke="#D95319" stroke-width="2.45" stroke-linejoin="round" stroke-linecap="butt"/><path d="M832.20,295.82 L892.95,268.15 L897.45,265.95 L898.70,265.17 L899.45,264.51 L899.95,263.82 L900.45,262.51 L900.70,261.22 L900.95,258.78 L901.20,253.32 L901.70,222.51 L902.20,253.04 L902.45,258.16 L902.70,260.34 L902.95,261.39 L903.20,261.94 L903.45,262.24 L903.95,262.47 L904.45,262.48 L905.20,262.33 L908.70,260.96 L918.20,256.70 L950.70,241.91 L955.20,239.81 L957.45,238.65 L958.45,238.00 L958.95,237.54 L959.45,236.87 L959.70,236.34 L960.20,234.40 L960.70,230.77 L960.86,230.24 L960.95,230.35 L961.45,233.45 L961.70,234.54 L961.95,235.17 L962.20,235.51 L962.70,235.78 L963.45,235.75 L964.45,235.45 L966.20,234.69 L967.45,233.89 L967.95,233.29 L968.85,231.21 L968.95,231.23 L969.70,232.46 L970.20,232.64 L971.20,232.45 L972.95,231.75 L1006.20,216.70 L1042.95,199.90 L1043.45,198.88 L1043.70,199.03 L1043.95,199.35 L1044.20,199.32 L1045.95,198.50 L1046.45,197.88 L1046.95,197.99 L1047.20,197.91 L1051.70,195.70 L1052.95,195.01 L1053.45,193.34 L1053.70,193.65 L1053.95,194.26 L1054.20,194.25 L1055.20,193.43 L1055.95,192.40 L1056.45,191.05 L1056.70,189.86 L1057.49,183.70 L1057.70,184.53 L1058.20,188.19 L1058.45,188.96 L1058.95,190.06 L1059.20,190.13 L1059.70,189.75 L1060.20,188.66 L1060.45,187.59 L1061.23,180.45 L1061.95,185.46 L1062.20,186.05 L1062.45,186.15 L1062.70,185.94 L1062.95,185.53 L1063.45,184.31 L1064.45,181.29 L1064.70,180.79 L1064.98,180.51 L1065.20,180.55 L1065.45,180.83 L1066.70,183.77 L1067.20,184.74 L1067.70,185.42 L1068.45,186.03 L1069.20,186.31 L1070.20,186.38 L1070.95,186.29 L1071.45,186.07 L1071.95,186.06 L1073.20,185.70 L1075.95,184.68 L1076.45,183.11 L1076.70,183.46 L1076.95,184.12 L1077.20,184.17 L1079.95,183.00 L1080.45,181.57 L1080.70,181.86 L1080.95,182.43 L1081.20,182.45 L1082.45,181.80 L1083.20,181.57 L1085.70,180.39 L1086.70,179.68 L1087.44,178.15 L1087.95,178.87 L1088.20,179.01 L1088.95,178.91 L1092.95,177.20 L1093.45,176.13 L1093.70,176.30 L1093.95,176.65 L1094.20,176.63 L1095.95,175.84 L1096.45,175.45 L1096.95,175.36 L1097.45,173.71 L1097.70,174.08 L1097.95,174.76 L1098.45,173.75 L1098.70,173.94 L1098.95,174.33 L1099.20,174.31 L1099.95,173.88 L1100.45,173.44 L1101.17,171.93 L1101.70,172.67 L1101.95,172.79 L1102.45,172.75 L1104.95,171.70 L1107.70,170.30 L1108.70,169.58 L1109.45,168.62 L1109.95,167.18 L1110.45,164.34 L1110.66,163.64 L1111.45,166.68 L1111.70,167.16 L1111.95,167.37 L1112.20,167.42 L1112.45,167.34 L1112.70,167.11 L1112.95,166.68 L1113.65,164.27 L1114.20,165.91 L1114.45,166.39 L1114.70,166.62 L1115.20,166.72 L1116.20,166.49 L1121.95,164.04 L1122.45,162.69 L1122.70,162.96 L1122.95,163.47 L1123.45,161.39 L1123.70,161.93 L1123.95,162.92 L1124.20,163.03 L1133.95,158.61 L1134.45,157.08 L1134.70,157.40 L1134.95,158.02 L1135.20,158.05 L1142.95,154.53 L1143.45,153.76 L1143.95,154.01 L1144.20,153.96 L1145.95,153.16 L1146.45,151.32 L1146.70,151.74 L1146.95,152.53 L1147.20,152.45 L1147.45,152.15 L1147.95,152.22 L1148.45,151.90 L1149.20,151.69 L1152.95,149.98 L1153.45,149.26 L1153.70,149.46 L1153.95,149.52 L1154.20,149.42" fill="none" stroke="#0072BD" stroke-width="2.45" stroke-linejoin="round" stroke-linecap="butt"/><path d="M862.10,315.23 L931.60,283.57 L937.85,280.53 L939.60,279.51 L940.60,278.74 L941.60,277.57 L942.10,276.56 L942.35,275.82 L942.85,273.29 L943.10,270.97 L943.35,267.17 L943.60,260.82 L944.13,244.23 L944.35,248.64 L944.85,265.10 L945.10,269.25 L945.35,271.66 L945.85,274.01 L946.10,274.59 L946.60,275.21 L947.10,275.46 L947.60,275.53 L948.35,275.45 L949.35,275.19 L951.35,274.46 L954.60,273.08 L968.85,266.68 L1000.85,252.10 L1005.10,250.10 L1007.35,248.89 L1008.35,248.17 L1008.85,247.64 L1009.35,246.83 L1009.60,246.18 L1010.10,243.73 L1010.60,238.88 L1010.78,237.96 L1011.60,243.85 L1011.85,244.80 L1012.10,245.34 L1012.60,245.82 L1013.10,245.93 L1013.85,245.83 L1014.60,245.61 L1016.35,244.88 L1017.85,244.12 L1018.85,243.41 L1019.35,242.83 L1019.85,241.79 L1020.10,240.85 L1020.60,237.94 L1020.77,237.45 L1020.85,237.51 L1021.60,240.76 L1021.85,241.25 L1022.10,241.51 L1022.60,241.68 L1023.10,241.65 L1024.85,241.09 L1035.85,236.21 L1084.85,213.90 L1085.10,213.25 L1085.35,211.81 L1085.60,211.43 L1085.85,212.64 L1086.10,213.32 L1086.85,212.98 L1087.10,212.50 L1087.35,211.49 L1087.60,211.20 L1087.85,211.98 L1088.10,212.40 L1089.85,211.59 L1090.10,211.19 L1090.35,210.36 L1090.60,210.10 L1090.85,210.69 L1091.10,210.99 L1092.10,210.50 L1093.35,209.75 L1093.85,209.27 L1094.10,208.87 L1094.35,208.20 L1094.93,205.09 L1095.60,207.85 L1095.85,208.17 L1096.35,208.30 L1097.35,208.03 L1098.85,207.38 L1099.10,206.92 L1099.35,205.95 L1099.60,205.66 L1099.85,206.37 L1100.10,206.73 L1100.60,206.32 L1101.17,205.49 L1101.60,205.73 L1102.10,205.76 L1103.60,205.15 L1104.85,204.54 L1105.60,203.95 L1105.85,203.96 L1106.10,203.73 L1106.35,203.15 L1106.60,202.93 L1106.85,203.24 L1107.10,203.38 L1109.10,202.17 L1109.85,201.59 L1110.60,200.76 L1111.10,199.84 L1111.60,198.03 L1112.41,192.19 L1112.60,192.82 L1113.10,196.36 L1113.35,197.31 L1113.60,197.80 L1113.85,198.02 L1114.10,198.07 L1114.35,197.99 L1115.10,197.47 L1115.60,196.85 L1116.10,195.86 L1116.60,194.27 L1116.85,194.15 L1117.10,193.76 L1118.85,187.80 L1119.10,187.23 L1119.40,186.90 L1119.60,186.91 L1119.85,187.16 L1120.10,187.64 L1121.35,191.01 L1121.85,192.07 L1122.35,192.85 L1123.10,193.59 L1124.10,194.06 L1125.10,194.17 L1125.85,194.11 L1126.35,193.70 L1126.60,193.60 L1126.85,193.79 L1127.10,193.82 L1127.60,193.54 L1128.10,193.59 L1130.60,192.70 L1132.85,191.71 L1133.10,191.28 L1133.35,190.37 L1133.60,190.04 L1133.85,190.56 L1134.10,190.67 L1134.35,190.09 L1134.87,187.98 L1135.35,189.53 L1135.60,189.96 L1135.85,190.12 L1136.10,190.08 L1136.60,189.75 L1137.10,189.91 L1140.10,188.62 L1141.35,187.85 L1141.85,187.12 L1142.36,185.60 L1142.85,186.63 L1143.10,186.88 L1143.60,186.93 L1144.10,186.80 L1146.85,185.64 L1147.10,185.16 L1147.35,184.12 L1147.60,183.82 L1147.85,184.62 L1148.10,185.05 L1149.10,184.40 L1149.85,183.14 L1150.35,183.63 L1150.60,183.72 L1151.35,183.56 L1152.85,182.94 L1153.10,182.59 L1153.35,181.88 L1153.60,181.65 L1153.85,182.13 L1154.10,182.38 L1158.60,180.29 L1160.85,179.10 L1161.85,178.31 L1162.10,177.46 L1162.35,175.69 L1162.60,174.82 L1162.85,175.23 L1163.10,174.43 L1163.58,170.65 L1164.10,174.12 L1164.35,175.02 L1164.85,176.25 L1165.10,176.43 L1165.35,176.03 L1165.60,175.92 L1165.85,176.29 L1166.10,176.36 L1166.85,175.44 L1167.32,174.23 L1167.85,175.24 L1168.10,175.43 L1168.35,175.46 L1168.85,175.33 L1169.60,174.94 L1170.10,174.54 L1170.60,173.91 L1171.10,172.55 L1171.82,168.04 L1172.35,171.02 L1172.60,171.97 L1172.85,172.42 L1173.10,172.59 L1173.35,172.58 L1173.60,172.43 L1173.85,172.12 L1174.10,171.57 L1174.81,168.45 L1175.35,170.53 L1175.60,171.17 L1175.85,171.47 L1176.10,171.59 L1176.35,171.59 L1176.85,171.40 L1177.35,170.95 L1177.60,170.56 L1178.56,167.61 L1179.35,169.58 L1179.85,170.04 L1180.10,169.56 L1180.35,168.22 L1180.60,167.92 L1180.85,169.21 L1181.10,169.87 L1181.60,169.48 L1182.10,169.59 L1184.10,168.75" fill="none" stroke="#A2142F" stroke-width="2.45" stroke-linejoin="round" stroke-linecap="butt"/><path d="M892.00,334.64 L973.75,297.42 L981.50,293.76 L983.50,292.71 L985.00,291.78 L986.25,290.71 L987.00,289.69 L987.50,288.61 L988.00,286.77 L988.50,283.13 L988.75,279.91 L989.25,269.37 L989.57,264.95 L989.75,266.51 L990.50,280.75 L990.75,283.18 L991.25,285.78 L991.75,286.93 L992.00,287.24 L992.50,287.58 L993.00,287.71 L993.75,287.69 L995.50,287.24 L998.50,286.06 L1003.75,283.77 L1035.00,269.61 L1055.75,260.11 L1059.50,258.31 L1061.75,257.09 L1063.00,256.21 L1063.75,255.46 L1064.25,254.71 L1064.75,253.51 L1065.25,251.32 L1066.00,245.10 L1066.23,244.17 L1066.50,245.23 L1067.25,250.65 L1067.75,252.24 L1068.25,252.91 L1068.75,253.16 L1069.50,253.19 L1070.75,252.86 L1072.00,252.31 L1073.25,251.55 L1074.00,250.86 L1074.50,250.14 L1075.00,248.94 L1075.25,247.99 L1076.00,243.51 L1076.21,242.91 L1076.50,243.69 L1077.25,247.41 L1077.75,248.45 L1078.25,248.85 L1079.00,248.97 L1080.00,248.78 L1081.25,248.37 L1085.50,246.58 L1095.00,242.31 L1141.75,220.97 L1143.00,220.23 L1143.50,219.71 L1143.75,219.22 L1144.00,218.36 L1144.36,216.66 L1144.50,216.85 L1145.00,218.72 L1145.25,218.94 L1145.50,219.00 L1146.00,218.93 L1150.00,217.24 L1150.50,215.54 L1151.00,216.78 L1151.50,214.12 L1152.00,216.32 L1156.00,214.47 L1156.50,213.90 L1157.00,214.00 L1161.75,211.72 L1164.00,210.45 L1164.50,210.04 L1165.00,209.42 L1165.50,208.08 L1166.08,205.31 L1166.25,205.69 L1166.75,207.76 L1167.00,208.19 L1167.25,208.37 L1167.50,208.43 L1168.00,208.36 L1169.50,207.70 L1170.00,207.43 L1170.50,204.82 L1171.00,206.81 L1172.25,205.90 L1173.25,204.97 L1174.00,204.00 L1174.50,203.03 L1175.00,201.37 L1175.50,195.22 L1176.06,189.75 L1176.25,190.95 L1176.75,196.42 L1177.00,197.34 L1177.25,197.55 L1177.50,197.35 L1177.75,196.90 L1179.25,192.51 L1179.50,192.02 L1179.75,191.76 L1180.00,191.75 L1180.25,191.97 L1180.50,192.40 L1182.00,196.26 L1182.50,197.25 L1183.00,198.00 L1183.50,198.54 L1184.00,198.91 L1185.00,199.30 L1185.50,198.42 L1186.00,199.39 L1186.25,199.38 L1188.00,199.10 L1190.50,198.33 L1191.00,198.15 L1191.50,197.72 L1192.00,197.75 L1192.75,197.37 L1193.53,196.59 L1194.25,196.75 L1194.75,196.62 L1199.75,194.50 L1201.00,193.85 L1201.50,193.43 L1201.75,193.06 L1202.27,191.81 L1202.75,192.55 L1203.00,192.73 L1203.25,192.76 L1204.25,192.48 L1206.00,191.71 L1207.25,191.02 L1207.75,190.55 L1208.00,190.11 L1208.51,188.62 L1209.00,189.62 L1209.25,189.86 L1209.75,189.90 L1211.00,189.48 L1211.50,187.44 L1212.00,189.06 L1213.00,188.62 L1213.25,188.21 L1213.50,187.99 L1213.75,188.18 L1214.00,188.17" fill="none" stroke="#4DBEEE" stroke-width="2.45" stroke-linejoin="round" stroke-linecap="butt"/><path d="M921.90,354.05 L1018.90,309.91 L1028.40,305.48 L1032.65,303.24 L1034.15,302.18 L1035.15,301.14 L1035.90,299.88 L1036.40,298.48 L1036.90,296.11 L1037.15,294.28 L1037.90,285.39 L1038.24,282.92 L1038.40,283.39 L1039.40,293.76 L1039.90,296.25 L1040.40,297.47 L1040.65,297.83 L1041.15,298.24 L1041.90,298.45 L1043.15,298.33 L1044.90,297.80 L1047.65,296.71 L1059.15,291.61 L1107.90,269.43 L1115.65,265.81 L1119.90,263.67 L1121.90,262.44 L1123.40,261.12 L1124.15,260.06 L1124.90,258.23 L1125.40,256.00 L1125.65,254.29 L1126.15,248.90 L1126.65,241.82 L1126.88,240.42 L1127.15,241.92 L1127.90,251.35 L1128.15,253.35 L1128.65,255.75 L1129.15,256.94 L1129.40,257.29 L1129.90,257.69 L1130.65,257.89 L1131.90,257.73 L1133.40,257.16 L1134.90,256.29 L1135.90,255.37 L1136.65,254.16 L1137.15,252.74 L1137.40,251.67 L1138.40,244.12 L1138.62,243.36 L1138.90,244.32 L1139.65,249.76 L1139.90,250.87 L1140.40,252.18 L1140.90,252.78 L1141.65,253.09 L1142.65,253.05 L1144.15,252.64 L1147.90,251.15 L1155.65,247.72 L1209.90,223.10 L1210.40,222.08 L1210.65,222.07 L1210.90,222.45 L1211.15,222.53 L1218.90,219.00 L1219.40,218.33 L1219.65,218.27 L1219.90,218.43 L1220.15,218.43 L1227.90,214.80 L1228.40,213.51 L1228.65,213.50 L1228.90,214.01 L1229.15,213.86 L1229.40,213.26 L1229.65,213.19 L1229.90,213.47 L1230.15,213.46 L1230.65,212.96 L1231.15,212.10 L1231.40,211.32 L1231.65,210.03 L1232.23,205.60 L1232.40,206.30 L1232.90,209.96 L1233.15,210.77 L1233.40,211.18 L1233.90,211.44 L1234.40,211.40 L1234.90,211.22 L1235.90,210.44 L1236.15,210.12 L1236.40,209.57 L1236.65,208.57 L1237.22,204.07 L1237.65,207.14 L1237.90,208.24 L1238.15,208.17 L1238.40,207.45 L1238.65,207.46 L1238.90,207.91 L1239.15,207.64 L1239.40,206.65 L1239.65,204.92 L1240.21,198.68 L1240.40,199.39 L1240.90,204.84 L1241.15,205.97 L1241.40,206.20 L1241.65,205.78 L1242.21,201.84 L1242.40,202.30 L1242.90,206.20 L1243.15,206.80 L1243.90,207.16" fill="none" stroke="#77AC30" stroke-width="2.45" stroke-linejoin="round" stroke-linecap="butt"/><path d="M951.80,373.46 L1062.30,323.17 L1075.55,317.02 L1081.80,313.88 L1084.05,312.53 L1085.55,311.41 L1086.80,310.15 L1087.80,308.67 L1088.55,307.02 L1089.05,305.48 L1089.55,303.48 L1090.55,298.44 L1090.80,297.42 L1091.05,296.79 L1091.19,296.65 L1091.30,296.65 L1091.55,297.00 L1091.80,297.76 L1092.80,301.89 L1093.30,303.47 L1093.80,304.57 L1094.30,305.30 L1094.80,305.77 L1095.30,306.05 L1096.30,306.28 L1097.80,306.15 L1099.55,305.69 L1102.05,304.79 L1105.30,303.45 L1117.55,298.03 L1160.05,278.71 L1176.30,271.13 L1178.05,270.13 L1178.80,269.39 L1179.05,268.91 L1179.30,268.06 L1179.81,265.14 L1180.30,267.52 L1180.55,268.14 L1180.80,268.39 L1181.30,268.44 L1181.80,268.31 L1183.80,267.30 L1184.80,266.54 L1185.30,265.80 L1185.55,265.05 L1186.05,262.62 L1186.55,264.45 L1186.80,264.87 L1187.05,264.99 L1187.30,264.97 L1188.05,264.58 L1189.30,263.47 L1190.30,262.17 L1191.05,260.75 L1191.80,258.58 L1192.55,254.92 L1193.05,250.89 L1193.55,244.76 L1194.30,231.91 L1194.55,228.60 L1194.78,227.39 L1195.05,228.70 L1196.30,247.13 L1196.55,249.58 L1197.05,253.02 L1197.80,255.89 L1198.55,257.30 L1199.05,257.82 L1199.55,258.13 L1200.05,258.30 L1200.80,258.37 L1201.55,258.29 L1202.55,258.03 L1203.55,257.63 L1204.55,257.07 L1205.30,256.53 L1206.05,255.79 L1206.55,255.13 L1207.05,254.24 L1207.80,252.10 L1208.30,249.69 L1209.30,241.34 L1209.55,239.56 L1209.76,238.97 L1210.05,239.78 L1211.05,247.50 L1211.30,248.86 L1211.80,250.69 L1212.30,251.74 L1213.05,252.51 L1213.55,252.74 L1214.05,252.84 L1215.30,252.76 L1216.80,252.38 L1219.05,251.58 L1226.05,248.62 L1273.80,227.05" fill="none" stroke="#7E2F8E" stroke-width="2.45" stroke-linejoin="round" stroke-linecap="butt"/><path d="M981.70,392.87 L1114.70,332.33 L1131.45,324.56 L1139.70,320.45 L1142.45,318.85 L1144.70,317.26 L1146.45,315.61 L1147.70,313.93 L1148.70,312.01 L1149.45,310.02 L1150.20,307.39 L1151.70,301.14 L1151.95,300.44 L1152.35,299.88 L1152.70,300.02 L1153.20,301.10 L1154.45,305.30 L1155.20,307.29 L1155.95,308.63 L1156.70,309.47 L1157.70,310.08 L1158.45,310.28 L1159.20,310.34 L1160.95,310.16 L1163.20,309.56 L1168.45,307.58 L1176.95,303.92 L1219.45,284.66 L1247.70,271.57 L1255.20,267.89 L1260.45,265.08 L1262.70,263.74 L1264.70,262.40 L1266.20,261.26 L1267.70,259.91 L1268.95,258.54 L1269.95,257.20 L1270.95,255.52 L1271.70,253.93 L1272.95,250.35 L1273.95,246.17 L1274.95,240.31 L1276.70,227.09 L1277.20,224.43 L1277.45,223.69 L1277.66,223.43 L1277.95,223.62 L1278.45,225.33 L1280.45,238.28 L1281.45,243.06 L1282.20,245.54 L1282.95,247.29 L1283.70,248.51 L1284.70,249.57 L1285.45,250.06 L1286.45,250.42 L1287.45,250.56 L1288.45,250.52 L1289.70,250.28 L1290.70,249.95 L1291.70,249.47 L1292.70,248.80 L1293.70,247.80 L1294.70,246.16 L1295.45,244.20 L1296.70,239.85 L1296.95,239.34 L1297.13,239.18 L1297.45,239.35 L1297.70,239.83 L1298.95,243.27 L1299.45,244.20 L1299.95,244.82 L1300.70,245.34 L1301.45,245.55 L1302.45,245.57 L1303.70,245.36" fill="none" stroke="#EDB120" stroke-width="2.45" stroke-linejoin="round" stroke-linecap="butt"/><path d="M1011.60,412.28 L1185.35,333.18 L1205.85,323.59 L1211.60,320.71 L1215.60,318.51 L1219.10,316.21 L1220.35,315.21 L1221.60,314.03 L1222.60,312.89 L1223.60,311.48 L1224.35,310.16 L1225.10,308.51 L1226.10,305.56 L1226.85,302.53 L1227.85,297.01 L1229.35,286.70 L1229.85,284.37 L1230.23,283.67 L1230.35,283.67 L1230.60,284.01 L1231.10,285.85 L1232.60,294.79 L1233.35,298.44 L1234.10,301.09 L1234.85,302.94 L1235.35,303.83 L1236.10,304.80 L1236.60,305.26 L1237.35,305.74 L1238.10,306.03 L1239.10,306.21 L1240.35,306.21 L1241.60,306.05 L1244.35,305.36 L1247.85,304.16 L1252.85,302.16 L1259.60,299.27 L1282.10,289.22 L1333.60,265.87" fill="none" stroke="#D95319" stroke-width="2.45" stroke-linejoin="round" stroke-linecap="butt"/><path d="M1041.50,431.70 L1292.50,317.51 L1321.75,304.03 L1330.00,300.11 L1336.00,297.12 L1341.00,294.39 L1344.50,292.13 L1346.00,290.99 L1347.25,289.89 L1348.50,288.60 L1349.50,287.37 L1351.00,285.03 L1352.25,282.39 L1353.50,278.89 L1356.00,270.41 L1356.50,269.29 L1357.04,268.70 L1357.25,268.65 L1357.50,268.74 L1357.75,268.97 L1358.25,269.79 L1360.50,275.49 L1361.50,277.50 L1362.50,278.93 L1363.50,279.89" fill="none" stroke="#0072BD" stroke-width="2.45" stroke-linejoin="round" stroke-linecap="butt"/></g>
<text class="tk" transform="translate(758.6,255.1) scale(0.94,1)" text-anchor="end" fill="#4a4a4a" stroke="#4a4a4a">0</text>
<text class="tk" transform="translate(758.6,201.8) scale(0.94,1)" text-anchor="end" fill="#4a4a4a" stroke="#4a4a4a">2</text>
<text class="tk" transform="translate(758.6,148.6) scale(0.94,1)" text-anchor="end" fill="#4a4a4a" stroke="#4a4a4a">4</text>
<text class="tk" transform="translate(752.5,277.8) scale(0.94,1)" text-anchor="middle" fill="#4a4a4a" stroke="#4a4a4a">10</text>
<text class="tk" transform="translate(842.2,336.0) scale(0.94,1)" text-anchor="middle" fill="#4a4a4a" stroke="#4a4a4a">7</text>
<text class="tk" transform="translate(931.9,394.3) scale(0.94,1)" text-anchor="middle" fill="#4a4a4a" stroke="#4a4a4a">4</text>
<text class="tk" transform="translate(1021.6,452.5) scale(0.94,1)" text-anchor="middle" fill="#4a4a4a" stroke="#4a4a4a">1</text>
<text class="tk" transform="translate(1052.7,450.6) scale(0.93,1)" text-anchor="start" fill="#4a4a4a" stroke="#4a4a4a">6</text>
<text class="tk" transform="translate(1160.0,401.8) scale(0.93,1)" text-anchor="start" fill="#4a4a4a" stroke="#4a4a4a">9</text>
<text class="tk" transform="translate(1267.4,353.0) scale(0.93,1)" text-anchor="start" fill="#4a4a4a" stroke="#4a4a4a">12</text>
<text class="tk" transform="translate(1374.7,304.2) scale(0.93,1)" text-anchor="start" fill="#4a4a4a" stroke="#4a4a4a">15</text>
<text class="tk" x="767.6" y="125.1" fill="#4a4a4a" stroke="#4a4a4a" style="font-size:22px;stroke-width:0.4px">×10</text>
<text class="tk" x="804.1" y="113.1" style="font-size:16px;stroke-width:0.3px" fill="#4a4a4a" stroke="#4a4a4a">-3</text>
<text class="lab" transform="translate(1236.4,401.0) rotate(-24.5)" text-anchor="middle" style="font-size:30.3px"><tspan font-style="italic">f</tspan>, GHz</text>
<text class="lab" transform="translate(855.9,364.0) rotate(33)" style="font-size:29.5px" font-style="italic">μ</text>
<text class="lab" transform="translate(868.4,383.5) rotate(33)" style="font-size:21.5px" font-style="italic">d</text>
<text class="lab" transform="translate(735.9,247.8) rotate(-90)" style="font-size:31.5px"  stroke="#1f1f1f" stroke-width="0.85" textLength="47.5" lengthAdjust="spacingAndGlyphs">MD</text>
<text class="lab" transform="translate(719.4,198.6) rotate(-90)" style="font-size:27.5px"  stroke="#1f1f1f" stroke-width="0.85">ε</text>
<text class="lab" transform="translate(735.9,192.6) rotate(-90)" style="font-size:31.5px"  stroke="#1f1f1f" stroke-width="0.85">,</text>
<text class="lab" transform="translate(735.9,181.9) rotate(-90)" style="font-size:31.5px"  stroke="#1f1f1f" stroke-width="0.85" textLength="25.5" lengthAdjust="spacingAndGlyphs">m</text>
<text class="lab" transform="translate(722.3,149.1) rotate(-90)" style="font-size:19px"  stroke="#1f1f1f" stroke-width="0.85">2</text>
<circle cx="819.2" cy="158.2" r="14.6" fill="#fff" stroke="#111" stroke-width="1.6"/>
<text class="circ" x="819.2" y="165.1">2</text>
<circle cx="901.8" cy="201.3" r="14.6" fill="#fff" stroke="#111" stroke-width="1.6"/>
<text class="circ" x="901.8" y="208.2">2</text>
<circle cx="988.9" cy="242.4" r="14.6" fill="#fff" stroke="#111" stroke-width="1.6"/>
<text class="circ" x="988.9" y="249.3">2</text>
<circle cx="1091.6" cy="272.4" r="14.6" fill="#fff" stroke="#111" stroke-width="1.6"/>
<text class="circ" x="1091.6" y="279.3">2</text>
<circle cx="1229.3" cy="260.4" r="14.6" fill="#fff" stroke="#111" stroke-width="1.6"/>
<text class="circ" x="1229.3" y="267.3">2</text>
<circle cx="1357.0" cy="244.9" r="14.6" fill="#fff" stroke="#111" stroke-width="1.6"/>
<text class="circ" x="1357.0" y="251.8">2</text>
</g>
<g id="panel-c1">
<g class="grid"><line x1="1742.80" y1="430.60" x2="1470.20" y2="255.00" stroke="#e0e0e2" stroke-width="1.8" /><line x1="1851.23" y1="381.50" x2="1578.63" y2="205.90" stroke="#e0e0e2" stroke-width="1.8" /><line x1="1959.67" y1="332.40" x2="1687.07" y2="156.80" stroke="#e0e0e2" stroke-width="1.8" /><line x1="2068.10" y1="283.30" x2="1795.50" y2="107.70" stroke="#e0e0e2" stroke-width="1.8" /><line x1="1742.80" y1="430.60" x2="2068.10" y2="283.30" stroke="#e0e0e2" stroke-width="1.8" /><line x1="1651.93" y1="372.07" x2="1977.23" y2="224.77" stroke="#e0e0e2" stroke-width="1.8" /><line x1="1561.07" y1="313.53" x2="1886.37" y2="166.23" stroke="#e0e0e2" stroke-width="1.8" /><line x1="1470.20" y1="255.00" x2="1795.50" y2="107.70" stroke="#e0e0e2" stroke-width="1.8" /><line x1="1470.20" y1="255.00" x2="1470.20" y2="148.10" stroke="#e0e0e2" stroke-width="1.8" /><line x1="1578.63" y1="205.90" x2="1578.63" y2="99.00" stroke="#e0e0e2" stroke-width="1.8" /><line x1="1687.07" y1="156.80" x2="1687.07" y2="49.90" stroke="#e0e0e2" stroke-width="1.8" /><line x1="1795.50" y1="107.70" x2="1795.50" y2="0.80" stroke="#e0e0e2" stroke-width="1.8" /><line x1="1470.20" y1="255.00" x2="1795.50" y2="107.70" stroke="#e0e0e2" stroke-width="1.8" /><line x1="1470.20" y1="201.55" x2="1795.50" y2="54.25" stroke="#e0e0e2" stroke-width="1.8" /><line x1="1470.20" y1="148.10" x2="1795.50" y2="0.80" stroke="#e0e0e2" stroke-width="1.8" /><line x1="2068.10" y1="283.30" x2="2068.10" y2="176.40" stroke="#e0e0e2" stroke-width="1.8" /><line x1="1977.23" y1="224.77" x2="1977.23" y2="117.87" stroke="#e0e0e2" stroke-width="1.8" /><line x1="1886.37" y1="166.23" x2="1886.37" y2="59.33" stroke="#e0e0e2" stroke-width="1.8" /><line x1="1795.50" y1="107.70" x2="1795.50" y2="0.80" stroke="#e0e0e2" stroke-width="1.8" /><line x1="1795.50" y1="107.70" x2="2068.10" y2="283.30" stroke="#e0e0e2" stroke-width="1.8" /><line x1="1795.50" y1="54.25" x2="2068.10" y2="229.85" stroke="#e0e0e2" stroke-width="1.8" /><line x1="1795.50" y1="0.80" x2="2068.10" y2="176.40" stroke="#e0e0e2" stroke-width="1.8" /></g>
<g class="axes"><line x1="1470.20" y1="255.00" x2="1470.20" y2="148.10" stroke="#262626" stroke-width="1.9" /><line x1="1470.20" y1="255.00" x2="1742.80" y2="430.60" stroke="#262626" stroke-width="1.9" stroke-linecap="square"/><line x1="1742.80" y1="430.60" x2="2068.10" y2="283.30" stroke="#262626" stroke-width="1.9" stroke-linecap="square"/><line x1="1742.80" y1="430.60" x2="1733.96" y2="434.60" stroke="#1c1c1c" stroke-width="1.7" /><line x1="1651.93" y1="372.07" x2="1643.10" y2="376.07" stroke="#1c1c1c" stroke-width="1.7" /><line x1="1561.07" y1="313.53" x2="1552.23" y2="317.53" stroke="#1c1c1c" stroke-width="1.7" /><line x1="1470.20" y1="255.00" x2="1461.36" y2="259.00" stroke="#1c1c1c" stroke-width="1.7" /><line x1="1742.80" y1="430.60" x2="1750.95" y2="435.85" stroke="#1c1c1c" stroke-width="1.7" /><line x1="1851.23" y1="381.50" x2="1859.39" y2="386.75" stroke="#1c1c1c" stroke-width="1.7" /><line x1="1959.67" y1="332.40" x2="1967.82" y2="337.65" stroke="#1c1c1c" stroke-width="1.7" /><line x1="2068.10" y1="283.30" x2="2076.25" y2="288.55" stroke="#1c1c1c" stroke-width="1.7" /><line x1="1470.20" y1="255.00" x2="1462.05" y2="249.75" stroke="#1c1c1c" stroke-width="1.7" /><line x1="1470.20" y1="201.55" x2="1462.05" y2="196.30" stroke="#1c1c1c" stroke-width="1.7" /><line x1="1470.20" y1="148.10" x2="1462.05" y2="142.85" stroke="#1c1c1c" stroke-width="1.7" /></g>
<g class="curves"><path d="M1470.20,255.00 L1507.71,237.99 L1510.96,236.44 L1512.46,235.52 L1512.96,235.00 L1513.21,234.59 L1513.46,233.91 L1513.71,232.54 L1513.96,229.01 L1514.33,215.18 L1514.71,228.82 L1514.96,232.02 L1515.21,233.13 L1515.46,233.58 L1515.71,233.76 L1516.46,233.78 L1517.71,233.38 L1527.71,228.95 L1619.72,187.29 L1649.48,173.80 L1656.73,170.42 L1657.48,170.00 L1658.36,169.32 L1659.23,169.06 L1660.23,168.44 L1660.98,167.67 L1661.48,166.78 L1661.98,164.96 L1662.73,158.24 L1662.86,157.76 L1662.98,158.11 L1663.48,162.67 L1663.73,164.16 L1663.98,165.03 L1664.23,165.54 L1664.73,165.98 L1665.23,166.09 L1666.23,165.93 L1667.48,165.50 L1674.73,162.36 L1700.99,150.48 L1702.49,149.68 L1703.30,148.78 L1703.74,148.95 L1704.24,148.92 L1706.49,147.99 L1795.50,107.70" fill="none" stroke="#EDB120" stroke-width="2.45" stroke-linejoin="round" stroke-linecap="butt"/><path d="M1500.49,274.51 L1546.75,253.54 L1550.50,251.78 L1552.25,250.77 L1552.75,250.32 L1553.25,249.50 L1553.50,248.65 L1553.75,246.87 L1554.27,236.00 L1554.75,245.95 L1555.00,247.78 L1555.25,248.50 L1555.50,248.81 L1555.75,248.93 L1556.50,248.90 L1558.00,248.38 L1569.75,243.14 L1682.77,191.97 L1701.52,183.45 L1707.52,180.63 L1709.02,179.83 L1710.02,179.17 L1710.77,178.47 L1711.27,177.71 L1711.77,176.36 L1712.02,175.22 L1712.52,171.78 L1712.78,170.75 L1713.02,171.44 L1713.52,174.44 L1713.77,175.39 L1714.27,176.33 L1714.77,176.64 L1715.27,176.70 L1716.27,176.51 L1717.52,176.07 L1724.77,172.93 L1750.78,161.16 L1751.03,161.03 L1751.53,160.43 L1752.03,160.59 L1753.53,159.87 L1754.53,159.34 L1755.03,158.96 L1755.53,157.76 L1755.78,157.67 L1756.24,157.01 L1756.78,157.68 L1757.28,157.91 L1758.03,157.76 L1759.53,157.17 L1761.03,156.47 L1761.53,155.63 L1762.03,156.00 L1762.53,154.82 L1763.03,155.62 L1766.78,153.93 L1767.53,153.44 L1768.03,153.36 L1769.78,152.57 L1770.53,152.00 L1771.03,152.00 L1778.78,148.49 L1779.03,148.31 L1779.53,147.07 L1780.03,147.93 L1782.03,146.99 L1782.53,146.30 L1783.03,146.57 L1794.78,141.24 L1795.53,140.73 L1796.03,140.67 L1797.53,139.97 L1799.03,139.14 L1799.53,138.52 L1799.93,137.79 L1800.54,138.31 L1801.04,138.29 L1801.79,138.03 L1804.79,136.71 L1805.54,136.13 L1806.04,136.15 L1812.79,133.10 L1813.04,132.94 L1813.54,132.15 L1814.04,132.53 L1815.04,132.06 L1815.54,131.57 L1816.04,131.63 L1825.79,127.21" fill="none" stroke="#D95319" stroke-width="2.45" stroke-linejoin="round" stroke-linecap="butt"/><path d="M1530.78,294.02 L1587.54,268.30 L1592.04,266.19 L1593.79,265.18 L1594.29,264.75 L1594.79,264.02 L1595.04,263.33 L1595.29,262.04 L1595.54,259.08 L1595.96,247.98 L1596.29,256.92 L1596.54,260.77 L1596.79,262.23 L1597.04,262.84 L1597.29,263.11 L1597.54,263.22 L1598.29,263.18 L1599.54,262.77 L1610.29,258.01 L1711.31,212.27 L1748.31,195.50 L1758.56,190.75 L1762.06,188.88 L1763.06,188.16 L1763.81,187.42 L1764.31,186.74 L1764.81,185.77 L1765.81,182.74 L1766.06,182.15 L1766.23,181.98 L1766.31,181.97 L1766.56,182.23 L1767.56,184.38 L1768.06,184.95 L1768.56,185.22 L1769.31,185.30 L1770.06,185.19 L1772.56,184.35 L1781.32,180.54 L1812.32,166.53 L1815.07,165.23 L1816.15,164.50 L1817.07,164.31 L1818.82,163.58 L1856.08,146.72" fill="none" stroke="#0072BD" stroke-width="2.45" stroke-linejoin="round" stroke-linecap="butt"/><path d="M1561.07,313.53 L1629.83,282.38 L1634.83,280.05 L1636.83,278.93 L1637.58,278.24 L1638.08,277.32 L1638.33,276.36 L1638.58,274.40 L1638.83,269.59 L1639.14,259.96 L1639.58,272.15 L1639.83,274.95 L1640.08,276.06 L1640.33,276.55 L1640.58,276.77 L1640.83,276.86 L1641.33,276.85 L1642.58,276.49 L1646.08,275.00 L1656.58,270.28 L1803.10,203.90 L1805.35,202.84 L1806.35,202.27 L1806.85,201.76 L1807.41,200.66 L1807.85,201.16 L1808.10,201.30 L1808.60,201.26 L1810.10,200.68 L1814.11,198.83 L1818.11,196.80 L1819.36,196.03 L1820.36,195.27 L1821.11,194.52 L1821.61,193.86 L1822.11,193.02 L1823.11,190.90 L1823.36,190.48 L1823.64,190.21 L1823.86,190.20 L1824.11,190.35 L1825.36,191.80 L1825.86,192.12 L1826.36,192.27 L1827.11,192.29 L1827.86,192.17 L1830.36,191.36 L1835.11,189.36 L1841.86,186.31 L1842.11,185.97 L1842.36,185.25 L1842.61,185.07 L1842.86,185.56 L1843.11,185.79 L1849.86,182.74 L1850.36,182.10 L1850.61,181.96 L1851.11,182.18 L1853.86,180.94 L1854.11,180.49 L1854.36,179.64 L1854.61,179.45 L1854.86,180.08 L1855.11,180.37 L1862.61,176.93 L1863.61,176.38 L1864.11,175.94 L1864.83,174.48 L1865.36,175.19 L1865.61,175.31 L1866.11,175.26 L1867.86,174.57 L1868.61,174.12 L1869.11,174.01 L1872.11,172.61 L1872.86,172.21 L1874.11,171.10 L1874.81,169.48 L1875.36,170.30 L1875.62,170.52 L1875.87,170.60 L1876.37,170.54 L1877.87,169.94 L1878.12,169.47 L1878.37,168.61 L1878.62,168.38 L1878.87,168.89 L1879.12,168.98 L1879.81,167.73 L1880.37,168.29 L1880.87,168.44 L1881.62,168.14 L1881.87,168.13 L1882.12,167.81 L1882.37,167.13 L1882.62,166.98 L1882.87,167.46 L1883.12,167.66 L1886.37,166.22" fill="none" stroke="#A2142F" stroke-width="2.45" stroke-linejoin="round" stroke-linecap="butt"/><path d="M1591.36,333.04 L1673.12,296.00 L1678.62,293.42 L1680.87,292.12 L1681.62,291.38 L1682.12,290.40 L1682.37,289.46 L1682.62,287.67 L1682.87,283.60 L1683.33,264.95 L1683.87,285.00 L1684.12,287.74 L1684.37,288.91 L1684.62,289.47 L1684.87,289.74 L1685.12,289.87 L1685.62,289.92 L1686.87,289.61 L1690.37,288.16 L1700.62,283.56 L1843.14,218.98 L1845.14,217.96 L1845.89,217.34 L1846.14,216.95 L1846.39,216.29 L1846.85,214.41 L1847.39,216.05 L1847.64,216.38 L1848.15,216.49 L1848.90,216.30 L1859.65,211.52 L1870.40,206.59 L1872.32,205.57 L1873.15,205.28 L1874.90,204.47 L1875.40,204.08 L1875.90,203.95 L1876.65,203.46 L1877.15,203.36 L1880.15,201.73 L1880.90,201.26 L1881.40,200.43 L1881.65,200.31 L1881.90,200.42 L1882.15,200.34 L1882.90,199.66 L1883.40,198.55 L1883.65,198.31 L1883.90,198.32 L1884.40,197.65 L1885.15,196.10 L1886.15,193.62 L1886.40,193.13 L1886.79,192.71 L1887.15,192.75 L1887.90,193.74 L1888.15,193.84 L1888.40,193.71 L1889.15,195.45 L1889.65,195.81 L1890.15,196.03 L1890.90,196.15 L1891.65,196.11 L1892.65,195.92 L1894.90,195.21 L1897.90,194.02 L1898.40,193.33 L1898.65,193.29 L1898.90,193.48 L1899.15,193.48 L1900.90,192.72 L1901.40,191.74 L1901.65,191.73 L1901.90,192.08 L1902.15,192.15 L1903.65,191.39 L1904.40,190.90 L1904.90,190.38 L1905.15,189.93 L1905.40,189.17 L1906.02,185.15 L1906.65,188.70 L1906.90,189.20 L1907.40,189.46 L1908.15,189.36 L1909.15,189.00 L1913.91,186.94 L1914.41,186.18 L1914.66,186.22 L1914.91,186.41 L1915.16,186.38 L1916.66,185.71" fill="none" stroke="#4DBEEE" stroke-width="2.45" stroke-linejoin="round" stroke-linecap="butt"/><path d="M1621.64,352.56 L1720.16,307.92 L1726.41,304.99 L1727.91,304.18 L1728.91,303.49 L1729.41,303.00 L1729.91,302.25 L1730.41,300.68 L1730.66,298.98 L1730.91,295.43 L1731.16,286.69 L1731.50,265.45 L1731.91,289.54 L1732.16,296.09 L1732.41,298.73 L1732.66,299.94 L1732.91,300.55 L1733.16,300.88 L1733.41,301.05 L1733.91,301.15 L1734.91,300.98 L1737.91,299.83 L1745.16,296.61 L1836.43,255.28 L1838.18,254.44 L1838.93,253.97 L1839.43,253.36 L1839.87,252.47 L1840.43,253.06 L1840.68,253.13 L1841.43,252.96 L1842.68,252.44 L1916.94,218.81 L1918.94,217.81 L1919.94,217.06 L1920.44,216.11 L1920.99,213.68 L1921.44,215.33 L1921.69,215.87 L1921.94,216.07 L1922.19,216.13 L1922.94,215.99 L1926.69,214.41 L1946.94,205.25" fill="none" stroke="#77AC30" stroke-width="2.45" stroke-linejoin="round" stroke-linecap="butt"/><path d="M1651.93,372.07 L1769.20,318.94 L1776.95,315.32 L1778.70,314.40 L1779.95,313.60 L1780.95,312.62 L1781.45,311.74 L1781.70,311.05 L1781.95,310.02 L1782.20,308.31 L1782.45,305.14 L1782.70,298.44 L1783.20,269.20 L1783.70,298.25 L1783.95,304.58 L1784.20,307.46 L1784.45,308.92 L1784.70,309.71 L1784.95,310.17 L1785.45,310.58 L1785.95,310.69 L1786.70,310.61 L1787.95,310.24 L1789.70,309.56 L1796.71,306.48 L1878.97,269.23 L1880.72,268.33 L1881.47,267.70 L1881.72,267.28 L1882.30,265.45 L1882.72,266.46 L1882.97,266.84 L1883.22,266.97 L1883.97,266.87 L1885.47,266.28 L1977.23,224.77" fill="none" stroke="#7E2F8E" stroke-width="2.45" stroke-linejoin="round" stroke-linecap="butt"/><path d="M1682.22,391.58 L1824.99,326.89 L1834.75,322.35 L1837.25,321.04 L1838.75,320.09 L1839.50,319.48 L1840.25,318.63 L1841.00,317.19 L1841.50,315.34 L1842.00,311.34 L1842.25,307.31 L1842.50,300.23 L1843.00,274.04 L1843.11,271.69 L1843.25,274.90 L1843.75,300.50 L1844.00,306.98 L1844.25,310.59 L1844.75,313.97 L1845.25,315.32 L1845.75,315.90 L1846.25,316.14 L1846.75,316.21 L1847.50,316.14 L1849.00,315.72 L1851.25,314.86 L1861.00,310.59 L1995.02,249.93 L1998.52,248.22 L1999.02,247.78 L1999.63,246.73 L2000.27,247.25 L2001.02,247.14 L2007.52,244.27" fill="none" stroke="#EDB120" stroke-width="2.45" stroke-linejoin="round" stroke-linecap="butt"/><path d="M1712.51,411.09 L1887.29,331.89 L1903.04,324.60 L1907.04,322.61 L1909.79,321.08 L1911.29,320.10 L1912.29,319.32 L1913.79,317.74 L1914.54,316.57 L1915.04,315.52 L1915.79,313.20 L1916.29,310.78 L1916.79,307.14 L1917.29,301.60 L1918.04,290.27 L1918.29,287.51 L1918.50,286.67 L1918.79,288.07 L1920.04,304.21 L1920.54,307.93 L1921.04,310.22 L1921.79,312.13 L1922.29,312.83 L1922.79,313.26 L1923.29,313.51 L1924.04,313.68 L1924.79,313.69 L1925.79,313.55 L1927.79,313.01 L1930.79,311.90 L1941.55,307.28 L2037.81,263.79" fill="none" stroke="#D95319" stroke-width="2.45" stroke-linejoin="round" stroke-linecap="butt"/><path d="M1742.80,430.58 L1904.07,357.48 L1970.59,327.14 L1989.84,318.20 L2003.59,311.62 L2013.84,306.45 L2021.34,302.30 L2024.84,300.15 L2027.84,298.13 L2030.59,296.04 L2032.84,294.10 L2034.84,292.11 L2036.85,289.77 L2038.35,287.69 L2039.85,285.22 L2041.10,282.77 L2042.10,280.47 L2043.85,275.44 L2045.60,268.75 L2048.85,253.33 L2049.60,250.96 L2049.85,250.46 L2050.30,249.97 L2050.60,249.96 L2050.85,250.14 L2051.10,250.47 L2051.60,251.57 L2052.35,254.04 L2054.35,262.10 L2055.60,266.44 L2057.10,270.39 L2058.60,273.19 L2059.35,274.24 L2060.35,275.37 L2061.35,276.25 L2062.60,277.06 L2063.85,277.62 L2065.10,277.98 L2066.60,278.22 L2068.10,278.29" fill="none" stroke="#0072BD" stroke-width="2.45" stroke-linejoin="round" stroke-linecap="butt"/></g>
<text class="tk" transform="translate(1456.4,253.1) scale(0.94,1)" text-anchor="end" fill="#262626" stroke="#262626">0</text>
<text class="tk" transform="translate(1456.4,199.7) scale(0.94,1)" text-anchor="end" fill="#262626" stroke="#262626">2</text>
<text class="tk" transform="translate(1456.4,146.2) scale(0.94,1)" text-anchor="end" fill="#262626" stroke="#262626">4</text>
<text class="tk" transform="translate(1450.3,275.8) scale(0.94,1)" text-anchor="middle" fill="#262626" stroke="#262626">10</text>
<text class="tk" transform="translate(1541.2,334.3) scale(0.94,1)" text-anchor="middle" fill="#262626" stroke="#262626">7</text>
<text class="tk" transform="translate(1632.0,392.9) scale(0.94,1)" text-anchor="middle" fill="#262626" stroke="#262626">4</text>
<text class="tk" transform="translate(1722.9,451.4) scale(0.94,1)" text-anchor="middle" fill="#262626" stroke="#262626">1</text>
<text class="tk" transform="translate(1754.0,449.5) scale(0.93,1)" text-anchor="start" fill="#262626" stroke="#262626">6</text>
<text class="tk" transform="translate(1862.4,400.4) scale(0.93,1)" text-anchor="start" fill="#262626" stroke="#262626">9</text>
<text class="tk" transform="translate(1970.9,351.3) scale(0.93,1)" text-anchor="start" fill="#262626" stroke="#262626">12</text>
<text class="tk" transform="translate(2079.3,302.2) scale(0.93,1)" text-anchor="start" fill="#262626" stroke="#262626">15</text>
<text class="tk" x="1466.9" y="125.6" fill="#262626" stroke="#262626" style="font-size:22px;stroke-width:0.4px">×10</text>
<text class="tk" x="1503.4" y="113.6" style="font-size:16px;stroke-width:0.3px" fill="#262626" stroke="#262626">-3</text>
<text class="lab" transform="translate(1941.7,401.0) rotate(-24.5)" text-anchor="middle" style="font-size:30.3px"><tspan font-style="italic">f</tspan>, GHz</text>
<text class="lab" transform="translate(1566.7,364.5) rotate(33)" style="font-size:29.5px" font-style="italic">μ</text>
<text class="lab" transform="translate(1579.2,384.0) rotate(33)" style="font-size:21.5px" font-style="italic">d</text>
<text class="lab" transform="translate(1434.7,240.6) rotate(-90)" style="font-size:31.5px"  stroke="#1f1f1f" stroke-width="0.85" textLength="39.8" lengthAdjust="spacingAndGlyphs">TD</text>
<text class="lab" transform="translate(1419.2,199.1) rotate(-90)" style="font-size:27.5px"  stroke="#1f1f1f" stroke-width="0.85">ε</text>
<text class="lab" transform="translate(1434.7,193.1) rotate(-90)" style="font-size:31.5px"  stroke="#1f1f1f" stroke-width="0.85">,</text>
<text class="lab" transform="translate(1434.7,182.4) rotate(-90)" style="font-size:31.5px"  stroke="#1f1f1f" stroke-width="0.85" textLength="26.5" lengthAdjust="spacingAndGlyphs">m</text>
<text class="lab" transform="translate(1421.1,149.6) rotate(-90)" style="font-size:19px"  stroke="#1f1f1f" stroke-width="0.85">2</text>
<circle cx="1515.2" cy="192.8" r="14.6" fill="#fff" stroke="#111" stroke-width="1.6"/>
<text class="circ" x="1515.2" y="199.7">1</text>
<circle cx="1596.3" cy="224.3" r="14.6" fill="#fff" stroke="#111" stroke-width="1.6"/>
<text class="circ" x="1596.3" y="231.2">1</text>
<circle cx="1683.9" cy="243.9" r="14.6" fill="#fff" stroke="#111" stroke-width="1.6"/>
<text class="circ" x="1683.9" y="250.8">1</text>
<circle cx="1783.1" cy="246.4" r="14.6" fill="#fff" stroke="#111" stroke-width="1.6"/>
<text class="circ" x="1783.1" y="253.3">1</text>
<circle cx="1918.3" cy="261.4" r="14.6" fill="#fff" stroke="#111" stroke-width="1.6"/>
<text class="circ" x="1918.3" y="268.3">1</text>
<circle cx="2051.0" cy="229.8" r="14.6" fill="#fff" stroke="#111" stroke-width="1.6"/>
<text class="circ" x="2051.0" y="236.7">1</text>
</g>
<g id="panel-a2">
<g class="grid"><line x1="337.00" y1="909.60" x2="67.90" y2="734.90" stroke="#e0e0e2" stroke-width="1.8" /><line x1="444.33" y1="860.80" x2="175.23" y2="686.10" stroke="#e0e0e2" stroke-width="1.8" /><line x1="551.67" y1="812.00" x2="282.57" y2="637.30" stroke="#e0e0e2" stroke-width="1.8" /><line x1="659.00" y1="763.20" x2="389.90" y2="588.50" stroke="#e0e0e2" stroke-width="1.8" /><line x1="337.00" y1="909.60" x2="659.00" y2="763.20" stroke="#e0e0e2" stroke-width="1.8" /><line x1="247.30" y1="851.37" x2="569.30" y2="704.97" stroke="#e0e0e2" stroke-width="1.8" /><line x1="157.60" y1="793.13" x2="479.60" y2="646.73" stroke="#e0e0e2" stroke-width="1.8" /><line x1="67.90" y1="734.90" x2="389.90" y2="588.50" stroke="#e0e0e2" stroke-width="1.8" /><line x1="67.90" y1="734.90" x2="67.90" y2="628.40" stroke="#e0e0e2" stroke-width="1.8" /><line x1="175.23" y1="686.10" x2="175.23" y2="579.60" stroke="#e0e0e2" stroke-width="1.8" /><line x1="282.57" y1="637.30" x2="282.57" y2="530.80" stroke="#e0e0e2" stroke-width="1.8" /><line x1="389.90" y1="588.50" x2="389.90" y2="482.00" stroke="#e0e0e2" stroke-width="1.8" /><line x1="67.90" y1="734.90" x2="389.90" y2="588.50" stroke="#e0e0e2" stroke-width="1.8" /><line x1="67.90" y1="681.65" x2="389.90" y2="535.25" stroke="#e0e0e2" stroke-width="1.8" /><line x1="67.90" y1="628.40" x2="389.90" y2="482.00" stroke="#e0e0e2" stroke-width="1.8" /><line x1="659.00" y1="763.20" x2="659.00" y2="656.70" stroke="#e0e0e2" stroke-width="1.8" /><line x1="569.30" y1="704.97" x2="569.30" y2="598.47" stroke="#e0e0e2" stroke-width="1.8" /><line x1="479.60" y1="646.73" x2="479.60" y2="540.23" stroke="#e0e0e2" stroke-width="1.8" /><line x1="389.90" y1="588.50" x2="389.90" y2="482.00" stroke="#e0e0e2" stroke-width="1.8" /><line x1="389.90" y1="588.50" x2="659.00" y2="763.20" stroke="#e0e0e2" stroke-width="1.8" /><line x1="389.90" y1="535.25" x2="659.00" y2="709.95" stroke="#e0e0e2" stroke-width="1.8" /><line x1="389.90" y1="482.00" x2="659.00" y2="656.70" stroke="#e0e0e2" stroke-width="1.8" /></g>
<g class="axes"><line x1="67.90" y1="734.90" x2="67.90" y2="628.40" stroke="#262626" stroke-width="1.9" /><line x1="67.90" y1="734.90" x2="337.00" y2="909.60" stroke="#262626" stroke-width="1.9" stroke-linecap="square"/><line x1="337.00" y1="909.60" x2="659.00" y2="763.20" stroke="#262626" stroke-width="1.9" stroke-linecap="square"/><line x1="337.00" y1="909.60" x2="328.17" y2="913.61" stroke="#1c1c1c" stroke-width="1.7" /><line x1="247.30" y1="851.37" x2="238.47" y2="855.38" stroke="#1c1c1c" stroke-width="1.7" /><line x1="157.60" y1="793.13" x2="148.77" y2="797.15" stroke="#1c1c1c" stroke-width="1.7" /><line x1="67.90" y1="734.90" x2="59.07" y2="738.91" stroke="#1c1c1c" stroke-width="1.7" /><line x1="337.00" y1="909.60" x2="345.14" y2="914.88" stroke="#1c1c1c" stroke-width="1.7" /><line x1="444.33" y1="860.80" x2="452.47" y2="866.08" stroke="#1c1c1c" stroke-width="1.7" /><line x1="551.67" y1="812.00" x2="559.80" y2="817.28" stroke="#1c1c1c" stroke-width="1.7" /><line x1="659.00" y1="763.20" x2="667.14" y2="768.48" stroke="#1c1c1c" stroke-width="1.7" /><line x1="67.90" y1="734.90" x2="59.76" y2="729.62" stroke="#1c1c1c" stroke-width="1.7" /><line x1="67.90" y1="681.65" x2="59.76" y2="676.37" stroke="#1c1c1c" stroke-width="1.7" /><line x1="67.90" y1="628.40" x2="59.76" y2="623.12" stroke="#1c1c1c" stroke-width="1.7" /></g>
<g class="curves"><path d="M67.90,734.90 L104.90,718.02 L108.15,716.37 L108.90,715.85 L109.40,715.35 L109.90,714.45 L110.15,713.57 L110.40,711.85 L110.65,707.57 L111.08,683.67 L111.40,702.99 L111.65,709.86 L111.90,712.19 L112.15,713.13 L112.40,713.57 L112.65,713.77 L113.15,713.87 L113.65,713.80 L116.15,712.88 L123.40,709.65 L156.40,694.64 L160.40,692.77 L162.40,691.73 L163.40,690.98 L163.90,690.21 L164.15,689.43 L164.75,685.50 L165.40,688.86 L165.65,689.26 L165.90,689.35 L166.40,689.06 L166.65,688.69 L166.90,688.05 L167.15,686.89 L167.75,681.83 L168.40,686.70 L168.65,687.53 L168.90,687.93 L169.40,688.19 L170.15,688.12 L171.15,687.80 L179.90,683.96 L224.90,663.48 L226.15,662.86 L226.90,662.36 L227.66,661.19 L228.15,661.60 L228.40,661.67 L229.65,661.29 L243.65,654.89 L246.90,653.31 L248.90,652.21 L249.90,651.48 L250.40,650.94 L250.90,650.06 L251.15,649.31 L251.40,648.11 L252.12,641.45 L252.65,645.84 L252.90,647.24 L253.15,647.84 L253.40,647.96 L253.65,647.68 L253.90,646.87 L254.15,645.12 L254.62,639.55 L255.15,645.05 L255.40,646.21 L255.65,646.59 L255.90,646.58 L256.15,646.30 L256.40,645.78 L256.65,644.98 L257.15,641.99 L257.40,639.16 L257.65,634.58 L258.15,618.65 L258.36,614.86 L259.15,635.60 L259.40,639.38 L259.65,641.68 L260.15,644.03 L260.65,645.05 L261.15,645.50 L261.65,645.68 L262.90,645.62 L265.65,644.73 L270.90,642.49 L271.15,642.06 L271.40,641.23 L271.65,641.09 L271.90,641.69 L272.15,641.93 L274.15,640.95 L274.65,640.62 L275.15,640.07 L275.84,638.18 L276.15,638.57 L276.40,638.61 L276.90,639.37 L277.15,639.53 L278.90,638.87 L279.40,637.78 L279.65,637.78 L279.90,638.21 L280.15,638.32 L280.90,637.98 L281.40,636.46 L281.65,636.50 L281.90,637.19 L282.15,637.39 L283.90,636.48 L284.90,635.54 L285.15,635.06 L285.82,631.92 L286.40,633.94 L286.90,634.68 L287.15,634.49 L287.40,633.98 L287.65,633.99 L287.90,634.32 L288.15,634.35 L288.65,633.87 L288.90,633.41 L289.15,632.58 L289.57,630.65 L290.15,632.67 L290.40,633.00 L290.65,633.11 L291.15,633.07 L291.90,632.79 L293.15,631.99 L293.65,631.33 L293.90,630.74 L294.56,628.16 L294.65,628.23 L295.15,629.97 L295.40,630.40 L295.65,630.59 L295.90,630.64 L296.65,630.41 L297.15,630.02 L297.65,629.17 L298.30,626.27 L298.40,626.14 L298.90,628.30 L299.15,628.36 L299.40,627.63 L299.65,627.86 L299.90,628.74 L300.15,629.05 L301.65,628.52 L301.90,628.42 L302.40,627.05 L302.65,627.09 L302.90,627.70 L303.15,627.88 L307.90,625.76 L308.40,624.91 L308.65,624.87 L308.90,625.15 L309.15,624.76 L309.40,623.93 L309.65,623.96 L309.90,624.57 L310.15,624.74 L319.90,620.32 L320.40,618.49 L320.65,618.58 L320.90,619.46 L321.15,619.75 L327.90,616.68 L328.40,616.14 L328.65,616.06 L329.15,616.11 L331.40,615.01 L332.15,614.75 L336.90,612.57 L337.40,612.01 L337.65,611.93 L337.90,612.01 L338.40,611.85 L339.40,611.28 L339.90,610.84 L340.15,610.46 L340.74,608.78 L341.15,609.65 L341.40,609.99 L341.65,610.10 L341.90,610.10 L342.40,609.84 L343.15,609.69 L351.90,605.69 L352.40,604.56 L352.65,604.49 L352.90,604.80 L353.15,604.69 L353.74,603.28 L354.40,604.18 L354.90,604.23 L355.40,604.08 L358.90,602.57 L359.40,601.22 L359.65,601.25 L359.90,601.84 L360.15,602.00 L361.90,601.21 L362.40,599.40 L362.65,599.48 L362.90,600.35 L363.15,600.46 L363.40,600.07 L363.65,600.01 L363.90,600.17 L364.15,600.17 L366.15,599.22 L367.40,598.50 L367.90,598.02 L368.65,595.25 L368.72,595.27 L369.15,596.79 L369.40,597.16 L369.65,597.27 L369.90,597.28 L370.40,596.02 L370.65,596.07 L370.90,596.66 L371.15,596.72 L371.40,596.43 L372.15,596.24 L372.90,595.53 L373.40,594.52 L373.65,593.52 L374.21,589.93 L374.40,590.18 L374.90,593.28 L375.15,594.00 L375.40,594.26 L375.65,594.37 L376.15,594.39 L377.65,593.89 L378.90,593.16 L379.40,592.46 L379.96,590.77 L380.40,591.79 L380.65,592.12 L380.90,592.22 L381.40,592.18 L383.90,591.19 L384.40,589.84 L384.65,589.87 L384.90,590.46 L385.15,590.63 L386.90,589.85 L387.40,589.33 L388.15,589.28 L389.90,588.49" fill="none" stroke="#EDB120" stroke-width="2.45" stroke-linejoin="round" stroke-linecap="butt"/><path d="M97.80,754.31 L143.05,733.70 L146.80,731.88 L147.80,731.29 L148.55,730.69 L149.05,730.04 L149.30,729.51 L149.55,728.66 L149.80,727.05 L150.05,723.36 L150.52,702.49 L151.05,723.95 L151.30,726.78 L151.55,727.94 L151.80,728.48 L152.05,728.74 L152.30,728.86 L152.80,728.89 L154.05,728.56 L157.55,727.10 L166.80,722.93 L201.80,707.01 L208.55,703.83 L209.80,703.08 L210.55,702.29 L211.05,701.06 L211.68,697.97 L211.80,698.16 L212.30,700.42 L212.55,700.97 L212.80,701.22 L213.05,701.32 L213.80,701.23 L214.55,700.77 L215.18,699.83 L215.80,700.20 L216.05,700.17 L216.55,699.90 L217.05,699.30 L217.67,697.94 L217.80,698.00 L218.30,698.78 L218.80,698.96 L219.80,698.72 L221.55,698.00 L288.05,667.77 L296.55,663.81 L299.80,662.10 L300.55,661.54 L301.05,660.94 L301.55,659.68 L302.05,657.78 L302.80,659.54 L303.05,659.71 L303.55,659.64 L304.30,659.07 L304.80,658.44 L305.30,657.49 L305.80,655.93 L306.30,652.95 L306.55,650.36 L306.80,646.50 L307.30,634.89 L307.54,631.97 L307.80,635.15 L308.30,646.24 L308.55,649.74 L309.05,653.49 L309.55,655.11 L310.05,655.85 L310.55,656.19 L311.05,656.31 L312.30,656.21 L315.30,655.20 L320.80,652.84 L321.05,652.67 L321.55,651.66 L322.05,652.29 L325.80,650.61 L326.05,650.37 L326.55,649.17 L327.05,650.04 L329.80,648.80 L330.05,648.61 L330.55,647.80 L331.05,648.22 L331.55,647.87 L332.05,647.78 L332.80,647.44 L333.55,646.81 L334.05,646.86 L334.80,646.52 L335.05,646.33 L335.55,645.51 L336.05,645.94 L337.30,645.33 L337.80,645.05 L338.05,644.70 L338.55,642.80 L338.80,643.37 L339.05,643.51 L339.49,641.97 L340.05,643.33 L340.30,643.56 L340.55,643.62 L341.05,643.55 L342.30,643.08 L343.80,642.43 L344.05,642.21 L344.55,641.16 L345.05,641.86 L346.30,641.24 L346.98,640.72 L348.05,640.48 L350.80,639.27 L351.05,638.96 L351.55,637.18 L352.05,638.55 L352.55,637.10 L353.05,638.16 L353.55,637.23 L354.05,637.80 L356.80,636.55 L357.05,636.25 L357.55,634.55 L358.05,635.98 L359.80,635.18 L360.55,634.61 L360.80,634.62 L361.05,634.47 L361.55,633.11 L362.05,634.16 L365.80,632.46 L366.05,632.23 L366.55,631.12 L367.05,631.89 L368.80,631.09 L369.55,630.56 L370.05,630.52 L370.80,630.18 L371.05,629.91 L371.55,628.45 L372.05,629.53 L372.55,628.65 L373.05,629.09 L373.55,628.29 L374.05,628.70 L376.05,627.79 L377.80,626.98 L378.05,626.78 L378.55,625.90 L379.05,626.31 L379.55,625.83 L379.96,625.26 L380.55,625.51 L380.80,625.50 L381.05,625.37 L381.55,624.66 L382.05,625.04 L388.80,622.00 L389.55,621.45 L390.05,621.43 L391.80,620.63 L392.55,620.02 L393.05,620.05 L393.30,619.93 L394.30,619.37 L394.93,618.76 L395.55,618.80 L396.80,618.34 L397.05,618.05 L397.55,616.35 L398.05,617.76 L398.55,617.32 L399.05,617.33 L402.55,615.66 L403.05,615.30 L403.67,614.51 L404.30,614.73 L404.80,614.63 L405.05,614.34 L405.55,612.61 L406.05,614.09 L407.30,613.41 L407.80,612.97 L408.05,612.59 L408.66,610.78 L409.30,612.06 L409.55,612.20 L410.05,612.17 L412.05,611.40 L413.80,610.62 L414.55,610.15 L415.05,610.06 L419.80,607.91" fill="none" stroke="#D95319" stroke-width="2.45" stroke-linejoin="round" stroke-linecap="butt"/><path d="M127.70,773.72 L183.20,748.46 L187.70,746.32 L189.45,745.27 L189.95,744.81 L190.45,744.03 L190.70,743.33 L190.95,742.03 L191.20,739.18 L191.71,719.96 L192.20,738.28 L192.45,741.18 L192.70,742.33 L192.95,742.85 L193.20,743.10 L193.45,743.20 L193.95,743.22 L195.20,742.87 L198.20,741.62 L205.45,738.36 L246.95,719.42 L248.20,718.72 L248.70,718.30 L249.20,717.34 L249.63,715.91 L250.20,717.20 L250.45,717.40 L250.70,717.44 L251.95,717.06 L254.20,715.91 L254.95,715.39 L255.45,714.92 L255.95,714.15 L256.20,713.50 L256.45,712.45 L257.11,707.62 L257.20,707.75 L257.70,711.11 L257.95,711.92 L258.20,712.16 L258.45,712.01 L258.70,711.46 L258.95,710.32 L259.61,704.63 L260.20,709.46 L260.45,710.66 L260.70,711.21 L260.95,711.31 L261.20,710.97 L261.61,709.87 L262.20,711.45 L262.45,711.69 L262.70,711.78 L263.20,711.76 L264.20,711.46 L269.45,709.23 L287.95,700.85 L330.95,681.27 L342.45,675.90 L343.95,675.03 L344.70,674.25 L344.95,673.73 L345.20,672.82 L345.73,669.28 L346.20,672.03 L346.45,672.87 L346.70,673.21 L346.95,673.34 L347.45,673.33 L348.45,672.99 L351.70,671.36 L353.70,670.07 L355.20,668.73 L356.20,667.34 L356.95,665.66 L357.45,663.94 L357.95,661.36 L359.20,650.94 L359.49,649.97 L359.70,650.36 L359.95,651.83 L360.95,659.57 L361.45,661.85 L361.95,663.22 L362.70,664.29 L363.45,664.75 L364.45,664.90 L365.95,664.68 L369.45,663.50 L375.95,660.74 L376.45,659.63 L376.70,659.81 L376.95,660.19 L377.20,660.18 L377.95,659.85 L378.45,658.29 L378.70,658.63 L378.95,659.25 L379.20,659.29 L381.95,658.04 L382.45,657.08 L382.95,657.45 L383.20,657.35 L383.70,656.91 L384.20,656.90 L384.95,656.67 L391.95,653.52 L392.45,652.71 L392.95,652.97 L393.45,651.67 L393.70,651.88 L393.95,652.30 L394.20,652.17 L394.93,650.69 L395.45,651.40 L395.95,651.53 L397.20,651.12 L398.95,650.35 L399.45,648.60 L399.70,649.00 L399.95,649.73 L400.20,649.78 L402.95,648.50 L404.45,647.72 L405.20,647.12 L405.45,646.78 L406.17,645.19 L406.95,646.15 L407.45,646.20 L407.95,646.05 L408.95,645.42 L409.20,645.12 L409.91,643.69 L410.45,644.35 L410.95,644.59 L411.45,643.50 L411.95,644.25 L412.45,643.82 L412.95,643.93 L413.20,643.86 L416.95,642.19 L417.45,641.84 L418.20,641.62 L422.95,639.47 L423.45,638.13 L423.70,638.39 L423.95,638.89 L424.20,638.90 L449.70,627.32" fill="none" stroke="#0072BD" stroke-width="2.45" stroke-linejoin="round" stroke-linecap="butt"/><path d="M157.60,793.13 L225.35,762.31 L230.35,759.95 L232.35,758.80 L233.10,758.05 L233.60,756.99 L233.85,755.84 L234.10,753.40 L234.35,747.03 L234.65,734.19 L235.10,751.27 L235.35,754.50 L235.60,755.76 L235.85,756.32 L236.10,756.58 L236.35,756.70 L236.85,756.72 L238.10,756.38 L243.85,753.90 L269.35,742.32 L298.35,729.11 L304.60,726.14 L305.85,725.34 L306.35,724.81 L306.60,724.38 L306.85,723.69 L307.10,722.39 L307.54,719.01 L308.10,722.45 L308.35,723.07 L308.60,723.25 L308.85,723.19 L309.10,722.94 L309.35,722.47 L309.60,721.63 L310.28,717.33 L310.85,720.61 L311.10,721.54 L311.35,722.01 L311.60,722.24 L312.10,722.36 L313.10,722.11 L314.10,721.49 L314.35,721.19 L315.03,719.88 L315.60,720.54 L316.10,720.72 L316.85,720.57 L318.60,719.87 L381.85,691.14 L382.10,690.88 L382.35,690.38 L382.60,690.19 L382.85,690.46 L383.10,690.57 L386.85,688.82 L387.10,688.38 L387.35,687.47 L387.60,687.18 L387.85,687.85 L388.10,688.18 L388.60,687.87 L389.10,687.40 L389.35,686.98 L389.94,685.12 L390.60,686.52 L390.85,686.65 L391.35,686.62 L393.85,685.62 L394.60,684.93 L395.10,685.05 L397.85,683.74 L399.60,682.72 L400.10,682.23 L400.35,681.82 L400.60,681.13 L401.17,678.03 L401.60,680.06 L401.85,680.82 L402.10,681.13 L402.60,681.24 L403.10,681.13 L405.60,679.99 L406.85,679.28 L407.85,678.56 L408.35,678.04 L408.85,677.18 L409.10,676.31 L409.91,671.11 L410.60,674.97 L410.85,675.58 L411.10,675.83 L411.60,675.83 L412.10,675.51 L412.60,674.98 L413.10,674.25 L413.85,672.60 L414.35,670.94 L414.85,668.61 L415.60,664.21 L415.85,663.05 L416.15,662.41 L416.35,662.55 L416.60,663.29 L417.85,669.03 L418.10,669.34 L418.35,668.84 L418.60,669.09 L419.10,671.47 L420.10,672.05 L420.60,671.95 L421.10,672.21 L422.60,671.96 L422.85,671.89 L423.10,671.59 L423.35,670.95 L423.60,670.76 L423.85,671.25 L424.10,671.33 L424.35,670.83 L424.60,670.66 L424.85,670.98 L425.10,671.14 L426.85,670.44 L427.10,669.87 L427.35,668.59 L427.60,668.25 L427.85,669.32 L428.10,669.92 L430.85,668.69 L432.10,668.00 L432.60,667.57 L432.85,667.21 L433.10,666.60 L433.62,664.35 L434.10,666.00 L434.35,666.47 L434.60,666.64 L434.85,666.68 L435.85,666.44 L436.60,665.88 L437.10,665.94 L438.85,665.18 L439.10,664.63 L439.35,663.44 L439.60,663.11 L439.85,664.08 L440.10,664.54 L440.60,664.07 L441.10,664.17 L446.85,661.52 L448.10,660.49 L448.60,659.42 L449.10,660.03 L449.35,660.15 L449.85,660.10 L450.60,659.72 L451.10,659.62 L452.60,658.96 L456.10,657.28 L456.60,656.90 L456.85,656.59 L457.34,655.68 L457.85,656.16 L458.10,656.23 L458.85,656.06 L459.10,655.60 L459.35,654.58 L459.60,654.30 L459.85,655.10 L460.10,655.54 L462.85,654.26 L463.85,653.65 L464.35,653.02 L464.83,651.93 L465.35,652.62 L465.60,652.74 L466.35,652.61 L467.60,652.05 L468.35,651.63 L468.85,651.22 L469.10,650.91 L469.82,649.43 L470.60,650.28 L470.85,650.33 L471.35,650.25 L472.35,649.83 L473.10,649.31 L473.35,649.03 L474.06,647.69 L474.85,648.42 L475.35,648.44 L476.85,647.92 L477.10,647.43 L477.35,646.56 L477.60,646.48 L477.85,647.14 L478.10,647.38 L479.60,646.71" fill="none" stroke="#A2142F" stroke-width="2.45" stroke-linejoin="round" stroke-linecap="butt"/><path d="M187.50,812.54 L268.50,775.69 L274.25,772.98 L276.50,771.66 L277.00,771.21 L277.50,770.52 L278.00,769.13 L278.25,767.63 L278.50,764.50 L278.75,756.77 L279.08,739.19 L279.50,759.95 L279.75,765.28 L280.00,767.43 L280.25,768.41 L280.50,768.90 L280.75,769.15 L281.25,769.32 L282.50,769.11 L285.25,768.02 L291.25,765.35 L352.00,737.73 L354.00,736.71 L354.50,736.23 L354.99,735.44 L355.50,735.79 L356.00,735.80 L358.00,735.00 L421.00,706.36 L435.50,699.67 L437.75,698.41 L438.25,697.98 L438.75,697.28 L439.25,695.69 L439.87,691.86 L440.00,692.20 L440.50,695.21 L440.75,695.92 L441.00,696.28 L441.25,696.44 L442.00,696.47 L442.50,695.01 L443.00,696.17 L443.50,695.68 L444.00,695.77 L448.00,693.98 L449.75,693.05 L450.25,692.61 L450.50,692.24 L451.10,690.56 L451.75,691.74 L452.25,691.84 L452.75,691.72 L457.75,689.49 L461.75,687.48 L462.25,687.14 L462.75,686.63 L463.58,684.87 L463.75,684.98 L464.25,685.73 L464.75,685.85 L466.00,685.42 L466.50,684.64 L467.00,684.92 L467.50,683.10 L468.00,684.38 L469.75,683.23 L470.75,682.25 L471.00,681.87 L471.50,679.31 L471.75,678.94 L472.32,676.89 L472.50,677.16 L473.00,679.07 L473.25,679.54 L473.50,679.73 L473.75,679.74 L474.25,679.48 L475.25,678.29 L476.25,676.31 L477.25,673.16 L478.00,669.93 L478.50,666.31 L478.75,666.06 L479.00,666.06 L479.31,665.66 L479.50,665.68 L479.75,666.01 L480.00,666.63 L481.25,671.00 L482.00,672.95 L482.50,673.83 L483.00,674.46 L483.50,673.92 L484.00,675.16 L484.25,675.26 L485.00,675.42 L485.50,675.04 L486.00,675.43 L488.25,674.97 L490.00,674.40 L490.50,673.67 L491.00,674.04 L492.00,673.64 L492.50,672.17 L493.00,673.23 L495.75,671.97 L497.25,670.93 L497.75,670.22 L498.00,669.59 L498.50,664.19 L499.03,655.54 L499.50,665.15 L499.75,667.53 L500.00,668.56 L500.25,669.04 L500.50,669.27 L501.00,669.40 L502.25,669.13 L503.00,668.86 L503.50,667.97 L504.00,668.46 L507.00,667.16 L507.50,666.58 L508.00,666.72 L509.50,666.05" fill="none" stroke="#4DBEEE" stroke-width="2.45" stroke-linejoin="round" stroke-linecap="butt"/><path d="M217.40,831.96 L314.90,787.60 L321.15,784.65 L322.65,783.84 L323.65,783.15 L324.15,782.66 L324.65,781.91 L325.15,780.36 L325.40,778.70 L325.65,775.29 L325.90,766.97 L326.26,744.18 L326.65,768.03 L326.90,775.26 L327.15,778.15 L327.40,779.46 L327.65,780.12 L327.90,780.48 L328.15,780.66 L328.65,780.78 L329.65,780.62 L332.65,779.47 L340.15,776.13 L417.40,740.95 L419.15,739.98 L419.65,739.59 L420.15,738.97 L420.65,737.55 L421.14,735.41 L421.90,737.75 L422.15,738.03 L422.40,738.15 L422.90,738.12 L423.40,737.93 L423.90,737.56 L424.15,737.23 L424.40,736.67 L424.89,734.86 L425.40,736.31 L425.65,736.63 L426.15,736.74 L427.40,736.35 L428.90,735.66 L429.90,735.05 L430.40,734.50 L431.13,732.93 L431.65,733.65 L431.90,733.87 L432.15,733.95 L432.90,733.83 L434.65,733.13 L506.90,700.29 L507.40,698.93 L507.65,698.96 L507.90,699.54 L508.15,699.70 L509.15,699.22 L510.90,698.27 L511.40,697.77 L511.90,697.43 L512.40,696.69 L512.90,694.89 L513.50,690.07 L514.15,694.53 L514.40,695.33 L514.65,695.74 L514.90,695.93 L515.65,696.00 L516.65,695.73 L517.90,695.24 L518.40,694.03 L518.65,694.04 L518.90,694.56 L519.15,694.70 L523.90,692.54 L524.40,691.84 L524.65,691.77 L524.90,691.93 L525.15,691.91 L525.65,691.61 L526.15,691.21 L526.65,690.40 L527.23,688.14 L527.65,689.47 L527.90,689.98 L528.15,690.17 L528.40,690.22 L529.15,690.06 L530.15,689.66 L533.65,687.94 L534.40,687.38 L534.90,686.77 L535.65,684.21 L535.90,683.64 L536.15,683.86 L536.65,685.29 L536.90,685.67 L537.15,685.86 L537.90,685.93 L539.40,685.45" fill="none" stroke="#77AC30" stroke-width="2.45" stroke-linejoin="round" stroke-linecap="butt"/><path d="M247.30,851.37 L363.80,798.38 L371.30,794.87 L373.05,793.97 L374.30,793.19 L375.30,792.26 L375.80,791.43 L376.30,789.75 L376.55,788.01 L376.80,784.67 L377.05,777.35 L377.46,756.66 L377.80,773.82 L378.05,782.70 L378.30,786.56 L378.55,788.38 L378.80,789.31 L379.05,789.83 L379.30,790.11 L379.80,790.35 L380.30,790.37 L381.05,790.22 L384.05,789.09 L391.30,785.87 L471.55,749.36 L473.05,748.58 L473.80,747.98 L474.30,747.02 L474.81,744.93 L475.30,746.50 L475.55,746.91 L475.80,747.05 L476.55,746.98 L477.80,746.51 L494.30,738.98 L495.30,738.24 L496.03,736.69 L496.55,737.45 L496.80,737.59 L497.55,737.48 L498.80,736.98 L503.55,734.77 L504.05,734.42 L504.77,733.44 L505.30,733.75 L505.55,733.77 L507.55,733.02 L569.30,704.97" fill="none" stroke="#7E2F8E" stroke-width="2.45" stroke-linejoin="round" stroke-linecap="butt"/><path d="M277.20,870.78 L416.45,807.44 L426.95,802.58 L431.20,800.38 L432.45,799.51 L433.45,798.48 L434.20,797.07 L434.70,795.21 L435.20,791.15 L435.45,787.21 L435.95,774.43 L436.12,772.39 L436.95,789.16 L437.20,791.86 L437.45,793.49 L437.95,795.15 L438.45,795.84 L438.95,796.11 L439.45,796.19 L440.95,795.93 L444.95,794.39 L454.95,789.94 L578.20,733.91 L580.20,732.95 L581.20,732.31 L581.70,731.60 L582.15,730.45 L582.70,731.30 L582.95,731.43 L583.45,731.39 L583.95,731.23 L599.20,724.38" fill="none" stroke="#EDB120" stroke-width="2.45" stroke-linejoin="round" stroke-linecap="butt"/><path d="M307.10,890.19 L478.85,812.09 L501.85,801.48 L505.85,799.34 L507.10,798.45 L508.10,797.46 L508.85,796.35 L509.35,795.27 L510.60,791.11 L510.85,790.52 L511.01,790.36 L511.10,790.35 L511.35,790.61 L512.60,793.65 L513.10,794.33 L513.60,794.69 L514.35,794.90 L515.35,794.84 L516.60,794.52 L518.60,793.79 L523.85,791.56 L534.60,786.73 L629.10,743.79" fill="none" stroke="#D95319" stroke-width="2.45" stroke-linejoin="round" stroke-linecap="butt"/><path d="M337.00,909.60 L659.00,763.20" fill="none" stroke="#0072BD" stroke-width="2.45" stroke-linejoin="round" stroke-linecap="butt"/></g>
<text class="tk" transform="translate(54.1,733.0) scale(0.94,1)" text-anchor="end" fill="#4a4a4a" stroke="#4a4a4a">0</text>
<text class="tk" transform="translate(54.1,679.8) scale(0.94,1)" text-anchor="end" fill="#4a4a4a" stroke="#4a4a4a">2</text>
<text class="tk" transform="translate(54.1,626.5) scale(0.94,1)" text-anchor="end" fill="#4a4a4a" stroke="#4a4a4a">4</text>
<text class="tk" transform="translate(48.0,755.7) scale(0.94,1)" text-anchor="middle" fill="#4a4a4a" stroke="#4a4a4a">10</text>
<text class="tk" transform="translate(137.7,813.9) scale(0.94,1)" text-anchor="middle" fill="#4a4a4a" stroke="#4a4a4a">7</text>
<text class="tk" transform="translate(227.4,872.2) scale(0.94,1)" text-anchor="middle" fill="#4a4a4a" stroke="#4a4a4a">4</text>
<text class="tk" transform="translate(317.1,930.4) scale(0.94,1)" text-anchor="middle" fill="#4a4a4a" stroke="#4a4a4a">1</text>
<text class="tk" transform="translate(348.2,928.5) scale(0.93,1)" text-anchor="start" fill="#4a4a4a" stroke="#4a4a4a">6</text>
<text class="tk" transform="translate(455.5,879.7) scale(0.93,1)" text-anchor="start" fill="#4a4a4a" stroke="#4a4a4a">9</text>
<text class="tk" transform="translate(562.9,830.9) scale(0.93,1)" text-anchor="start" fill="#4a4a4a" stroke="#4a4a4a">12</text>
<text class="tk" transform="translate(670.2,782.1) scale(0.93,1)" text-anchor="start" fill="#4a4a4a" stroke="#4a4a4a">15</text>
<text class="tk" x="61.6" y="603.0" fill="#4a4a4a" stroke="#4a4a4a" style="font-size:22px;stroke-width:0.4px">×10</text>
<text class="tk" x="98.1" y="591.0" style="font-size:16px;stroke-width:0.3px" fill="#4a4a4a" stroke="#4a4a4a">-3</text>
<text class="lab" transform="translate(528.9,878.9) rotate(-24.5)" text-anchor="middle" style="font-size:30.3px"><tspan font-style="italic">f</tspan>, GHz</text>
<text class="lab" transform="translate(154.4,841.4) rotate(33)" style="font-size:29.5px" font-style="italic">μ</text>
<text class="lab" transform="translate(166.9,860.9) rotate(33)" style="font-size:21.5px" font-style="italic">d</text>
<text class="lab" transform="translate(32.4,719.2) rotate(-90)" style="font-size:31.5px"  stroke="#1f1f1f" stroke-width="0.85" textLength="37.5" lengthAdjust="spacingAndGlyphs">ED</text>
<text class="lab scr" transform="translate(19.6,677.8) rotate(-90)" style="font-size:18.5px"  stroke="#1f1f1f" stroke-width="0.85" textLength="22" lengthAdjust="spacingAndGlyphs">ℋ</text>
<text class="lab" transform="translate(32.4,670.6) rotate(-90)" style="font-size:31.5px"  stroke="#1f1f1f" stroke-width="0.85">,</text>
<text class="lab" transform="translate(32.4,654.7) rotate(-90)" style="font-size:31.5px"  stroke="#1f1f1f" stroke-width="0.85" textLength="22.5" lengthAdjust="spacingAndGlyphs">m</text>
<text class="lab" transform="translate(19.6,625.3) rotate(-90)" style="font-size:19px"  stroke="#1f1f1f" stroke-width="0.85">2</text>
<circle cx="108.8" cy="659.7" r="14.6" fill="#fff" stroke="#111" stroke-width="1.6"/>
<text class="circ" x="108.8" y="666.6">1</text>
<circle cx="190.7" cy="698.6" r="14.6" fill="#fff" stroke="#111" stroke-width="1.6"/>
<text class="circ" x="190.7" y="705.5">1</text>
<circle cx="278.6" cy="715.6" r="14.6" fill="#fff" stroke="#111" stroke-width="1.6"/>
<text class="circ" x="278.6" y="722.5">1</text>
<circle cx="376.9" cy="734.6" r="14.6" fill="#fff" stroke="#111" stroke-width="1.6"/>
<text class="circ" x="376.9" y="741.5">1</text>
<circle cx="510.7" cy="767.5" r="14.6" fill="#fff" stroke="#111" stroke-width="1.6"/>
<text class="circ" x="510.7" y="774.4">1</text>
</g>
<g id="panel-b2">
<g class="grid"><line x1="1041.50" y1="909.60" x2="772.40" y2="734.90" stroke="#e0e0e2" stroke-width="1.8" /><line x1="1148.83" y1="860.80" x2="879.73" y2="686.10" stroke="#e0e0e2" stroke-width="1.8" /><line x1="1256.17" y1="812.00" x2="987.07" y2="637.30" stroke="#e0e0e2" stroke-width="1.8" /><line x1="1363.50" y1="763.20" x2="1094.40" y2="588.50" stroke="#e0e0e2" stroke-width="1.8" /><line x1="1041.50" y1="909.60" x2="1363.50" y2="763.20" stroke="#e0e0e2" stroke-width="1.8" /><line x1="951.80" y1="851.37" x2="1273.80" y2="704.97" stroke="#e0e0e2" stroke-width="1.8" /><line x1="862.10" y1="793.13" x2="1184.10" y2="646.73" stroke="#e0e0e2" stroke-width="1.8" /><line x1="772.40" y1="734.90" x2="1094.40" y2="588.50" stroke="#e0e0e2" stroke-width="1.8" /><line x1="772.40" y1="734.90" x2="772.40" y2="628.40" stroke="#e0e0e2" stroke-width="1.8" /><line x1="879.73" y1="686.10" x2="879.73" y2="579.60" stroke="#e0e0e2" stroke-width="1.8" /><line x1="987.07" y1="637.30" x2="987.07" y2="530.80" stroke="#e0e0e2" stroke-width="1.8" /><line x1="1094.40" y1="588.50" x2="1094.40" y2="482.00" stroke="#e0e0e2" stroke-width="1.8" /><line x1="772.40" y1="734.90" x2="1094.40" y2="588.50" stroke="#e0e0e2" stroke-width="1.8" /><line x1="772.40" y1="681.65" x2="1094.40" y2="535.25" stroke="#e0e0e2" stroke-width="1.8" /><line x1="772.40" y1="628.40" x2="1094.40" y2="482.00" stroke="#e0e0e2" stroke-width="1.8" /><line x1="1363.50" y1="763.20" x2="1363.50" y2="656.70" stroke="#e0e0e2" stroke-width="1.8" /><line x1="1273.80" y1="704.97" x2="1273.80" y2="598.47" stroke="#e0e0e2" stroke-width="1.8" /><line x1="1184.10" y1="646.73" x2="1184.10" y2="540.23" stroke="#e0e0e2" stroke-width="1.8" /><line x1="1094.40" y1="588.50" x2="1094.40" y2="482.00" stroke="#e0e0e2" stroke-width="1.8" /><line x1="1094.40" y1="588.50" x2="1363.50" y2="763.20" stroke="#e0e0e2" stroke-width="1.8" /><line x1="1094.40" y1="535.25" x2="1363.50" y2="709.95" stroke="#e0e0e2" stroke-width="1.8" /><line x1="1094.40" y1="482.00" x2="1363.50" y2="656.70" stroke="#e0e0e2" stroke-width="1.8" /></g>
<g class="axes"><line x1="772.40" y1="734.90" x2="772.40" y2="628.40" stroke="#262626" stroke-width="1.9" /><line x1="772.40" y1="734.90" x2="1041.50" y2="909.60" stroke="#262626" stroke-width="1.9" stroke-linecap="square"/><line x1="1041.50" y1="909.60" x2="1363.50" y2="763.20" stroke="#262626" stroke-width="1.9" stroke-linecap="square"/><line x1="1041.50" y1="909.60" x2="1032.67" y2="913.61" stroke="#1c1c1c" stroke-width="1.7" /><line x1="951.80" y1="851.37" x2="942.97" y2="855.38" stroke="#1c1c1c" stroke-width="1.7" /><line x1="862.10" y1="793.13" x2="853.27" y2="797.15" stroke="#1c1c1c" stroke-width="1.7" /><line x1="772.40" y1="734.90" x2="763.57" y2="738.91" stroke="#1c1c1c" stroke-width="1.7" /><line x1="1041.50" y1="909.60" x2="1049.64" y2="914.88" stroke="#1c1c1c" stroke-width="1.7" /><line x1="1148.83" y1="860.80" x2="1156.97" y2="866.08" stroke="#1c1c1c" stroke-width="1.7" /><line x1="1256.17" y1="812.00" x2="1264.30" y2="817.28" stroke="#1c1c1c" stroke-width="1.7" /><line x1="1363.50" y1="763.20" x2="1371.64" y2="768.48" stroke="#1c1c1c" stroke-width="1.7" /><line x1="772.40" y1="734.90" x2="764.26" y2="729.62" stroke="#1c1c1c" stroke-width="1.7" /><line x1="772.40" y1="681.65" x2="764.26" y2="676.37" stroke="#1c1c1c" stroke-width="1.7" /><line x1="772.40" y1="628.40" x2="764.26" y2="623.12" stroke="#1c1c1c" stroke-width="1.7" /></g>
<g class="curves"><path d="M772.40,734.90 L804.15,720.44 L812.90,716.35 L814.90,715.30 L816.15,714.48 L817.15,713.43 L817.65,712.45 L818.15,710.37 L818.40,708.13 L818.65,703.47 L818.90,691.51 L819.32,628.25 L819.65,682.18 L819.90,699.89 L820.15,706.07 L820.40,708.72 L820.65,710.04 L820.90,710.76 L821.40,711.40 L821.90,711.59 L822.65,711.57 L824.90,710.85 L829.15,709.03 L858.65,695.59 L864.65,692.62 L866.15,691.65 L867.15,690.72 L867.90,689.49 L868.40,687.82 L868.65,686.28 L868.90,683.63 L869.15,678.60 L869.75,651.97 L870.40,678.75 L870.65,682.38 L870.90,683.85 L871.15,684.04 L871.40,683.06 L871.65,680.31 L872.24,664.15 L872.65,676.11 L872.90,681.11 L873.15,683.30 L873.40,684.06 L873.65,683.92 L873.90,682.85 L874.15,680.33 L874.74,668.60 L875.40,681.52 L875.65,683.75 L875.90,684.93 L876.15,685.58 L876.40,685.96 L876.90,686.30 L877.65,686.37 L878.65,686.17 L882.40,684.74 L890.90,680.98 L924.40,665.75 L928.65,663.77 L930.40,662.85 L931.40,662.02 L931.90,660.96 L932.15,659.57 L932.65,651.93 L933.15,659.10 L933.40,660.26 L933.65,660.71 L934.15,660.93 L935.15,660.71 L937.15,659.89 L947.90,654.89 L948.40,653.35 L948.65,653.39 L948.90,654.06 L949.15,654.26 L949.90,653.86 L950.40,652.02 L950.65,652.07 L950.90,652.89 L951.15,652.48 L951.40,651.24 L951.65,651.28 L951.90,652.15 L952.15,652.37 L952.65,651.84 L953.15,651.05 L953.65,649.52 L953.90,648.03 L954.62,639.82 L955.15,645.23 L955.40,646.88 L955.65,647.52 L955.90,647.50 L956.15,646.88 L956.40,645.47 L957.11,636.75 L957.65,643.09 L957.90,645.05 L958.15,645.75 L958.90,645.70 L959.15,645.19 L959.65,642.66 L959.90,640.48 L960.65,629.62 L960.86,628.16 L961.15,630.12 L961.65,636.64 L961.90,638.57 L962.15,639.37 L962.40,639.07 L962.65,637.48 L963.15,630.09 L963.35,628.45 L964.15,639.53 L964.40,641.32 L964.65,642.20 L964.90,642.38 L965.15,641.83 L965.85,636.71 L966.40,641.62 L966.65,643.13 L966.90,643.95 L967.15,644.38 L967.90,644.88 L968.65,644.90 L969.65,644.67 L972.15,643.66 L972.90,643.22 L973.40,642.78 L973.90,641.84 L974.59,637.99 L975.15,640.87 L975.40,641.41 L975.65,641.62 L975.90,641.68 L976.40,641.58 L977.15,641.17 L977.65,640.68 L978.15,639.67 L978.40,638.59 L979.08,631.10 L979.65,637.32 L979.90,638.54 L980.15,638.83 L980.40,638.64 L980.65,638.84 L980.90,639.30 L981.15,638.90 L981.40,637.93 L981.65,638.01 L981.90,638.78 L982.15,638.96 L982.65,638.27 L983.33,635.59 L983.90,637.55 L984.15,637.88 L984.65,638.02 L985.65,637.76 L993.90,634.15 L994.40,633.30 L994.65,633.27 L994.90,633.54 L995.15,633.59 L1001.90,630.53 L1002.40,629.13 L1002.65,629.16 L1002.90,629.78 L1003.15,629.96 L1009.90,626.90 L1010.40,626.58 L1011.15,626.33 L1018.90,622.79 L1019.40,620.79 L1019.65,620.90 L1019.90,621.88 L1020.15,622.20 L1020.90,621.83 L1021.90,621.25 L1022.40,620.77 L1022.65,620.35 L1022.90,619.59 L1023.27,618.09 L1023.40,618.20 L1023.90,619.75 L1024.15,619.99 L1024.65,620.00 L1025.15,619.86 L1031.90,616.90 L1032.40,615.39 L1032.65,615.44 L1032.90,616.12 L1033.15,616.30 L1039.40,613.46 L1042.65,611.88 L1043.90,611.08 L1044.65,610.12 L1044.90,609.56 L1045.15,608.62 L1045.73,605.28 L1045.90,605.75 L1046.40,608.40 L1046.65,608.98 L1046.90,609.26 L1047.15,609.39 L1047.90,609.36 L1048.40,608.33 L1048.65,608.35 L1048.90,608.82 L1049.15,608.40 L1049.40,607.39 L1049.65,607.47 L1049.90,608.28 L1050.15,608.54 L1051.90,607.78 L1052.40,607.25 L1052.65,607.18 L1052.90,607.26 L1053.15,606.64 L1053.40,605.55 L1053.65,605.63 L1053.90,606.49 L1054.15,606.77 L1055.90,605.97 L1056.40,604.72 L1056.65,604.73 L1056.90,605.25 L1057.15,605.38 L1058.40,604.73 L1058.90,604.38 L1059.40,603.73 L1059.99,602.03 L1060.65,603.28 L1061.15,603.39 L1062.15,603.08 L1072.90,598.26 L1073.40,597.92 L1073.90,597.78 L1074.40,596.77 L1074.65,596.76 L1074.90,597.15 L1075.15,597.24 L1078.15,595.82 L1079.15,595.18 L1079.40,594.88 L1079.96,593.80 L1080.40,593.67 L1080.90,594.29 L1081.15,594.39 L1081.65,594.23 L1094.40,588.50" fill="none" stroke="#EDB120" stroke-width="2.45" stroke-linejoin="round" stroke-linecap="butt"/><path d="M802.30,754.31 L841.30,736.56 L851.80,731.69 L854.30,730.42 L855.80,729.48 L856.80,728.55 L857.30,727.77 L857.80,726.36 L858.05,725.08 L858.30,722.86 L858.55,718.47 L858.80,708.02 L859.26,651.96 L859.55,691.25 L859.80,711.91 L860.05,719.50 L860.30,722.76 L860.55,724.38 L860.80,725.26 L861.05,725.76 L861.55,726.24 L862.05,726.38 L862.80,726.32 L865.05,725.60 L869.80,723.56 L903.05,708.42 L909.05,705.44 L910.55,704.47 L911.55,703.52 L912.30,702.24 L912.80,700.51 L913.05,698.94 L913.30,696.32 L913.55,691.57 L914.18,667.90 L914.80,690.61 L915.05,695.12 L915.30,697.43 L915.55,698.62 L915.80,699.18 L916.05,699.29 L916.30,698.94 L916.55,697.89 L917.17,690.72 L917.80,697.69 L918.05,698.71 L918.30,699.09 L918.55,699.12 L918.80,698.91 L919.05,698.43 L919.30,697.59 L919.55,696.13 L919.80,693.55 L920.30,683.81 L920.42,682.83 L920.55,683.90 L921.05,693.32 L921.30,695.71 L921.55,697.02 L921.80,697.75 L922.05,698.18 L922.55,698.56 L923.30,698.65 L924.30,698.45 L927.55,697.21 L935.30,693.79 L970.05,678.00 L980.55,673.12 L981.80,672.38 L982.30,671.89 L982.55,671.48 L982.80,670.77 L983.33,668.12 L983.80,670.13 L984.05,670.70 L984.30,670.93 L984.55,671.00 L985.30,670.87 L989.80,668.91 L990.05,668.66 L990.55,667.33 L991.05,668.33 L998.55,664.67 L1000.80,663.42 L1002.55,662.27 L1003.05,661.72 L1003.55,659.98 L1003.80,660.54 L1004.05,660.76 L1004.55,658.86 L1004.80,659.27 L1005.05,659.46 L1005.80,657.46 L1006.05,656.19 L1006.55,651.12 L1006.80,649.45 L1007.30,643.26 L1007.54,641.46 L1007.80,642.49 L1008.30,646.37 L1008.80,648.59 L1009.05,648.98 L1009.30,648.03 L1009.55,646.43 L1010.55,636.18 L1010.80,635.09 L1011.05,635.54 L1011.30,636.71 L1011.80,640.55 L1012.05,641.77 L1012.30,641.53 L1012.55,640.18 L1013.05,635.74 L1013.30,635.22 L1013.55,637.26 L1014.05,644.33 L1014.55,649.30 L1015.05,651.94 L1015.55,653.34 L1015.80,653.78 L1016.30,654.35 L1017.05,654.76 L1018.05,654.88 L1019.30,654.70 L1020.05,654.45 L1020.55,653.89 L1020.80,654.05 L1021.05,654.06 L1021.55,653.04 L1022.05,653.72 L1022.80,653.24 L1023.30,652.70 L1023.55,652.23 L1023.80,651.44 L1024.05,649.92 L1024.51,645.41 L1025.05,650.04 L1025.30,651.09 L1025.55,651.55 L1025.80,651.76 L1026.30,651.86 L1027.80,651.47 L1028.80,651.08 L1029.05,650.84 L1029.55,649.53 L1030.05,650.56 L1032.80,649.37 L1033.05,649.21 L1033.55,648.61 L1034.05,648.75 L1034.55,647.96 L1035.05,648.38 L1036.80,647.60 L1037.05,647.35 L1037.55,646.05 L1038.05,647.04 L1043.80,644.45 L1044.05,644.15 L1044.48,642.31 L1045.05,643.86 L1045.55,643.43 L1046.05,643.44 L1049.80,641.74 L1050.55,641.27 L1051.05,641.16 L1051.55,640.80 L1052.05,640.72 L1055.80,639.02 L1056.05,638.76 L1056.55,637.38 L1056.80,637.99 L1057.05,638.34 L1057.55,637.19 L1058.05,638.00 L1059.80,637.21 L1060.55,636.62 L1061.05,636.58 L1061.55,635.89 L1062.05,636.18 L1073.55,630.90 L1074.55,630.35 L1075.05,629.92 L1075.80,628.35 L1076.21,626.98 L1076.80,628.61 L1077.05,628.85 L1077.30,628.92 L1077.80,628.86 L1079.80,628.07 L1080.05,627.74 L1080.55,625.75 L1081.05,627.49 L1082.30,626.83 L1082.80,626.44 L1083.30,625.59 L1083.70,624.48 L1084.30,625.49 L1084.55,625.61 L1085.30,625.50 L1087.05,624.78 L1089.80,623.52 L1090.05,623.21 L1090.55,621.43 L1091.05,622.92 L1091.55,622.67 L1093.05,621.79 L1093.80,621.02 L1094.30,619.85 L1094.93,616.93 L1095.05,617.09 L1095.55,619.18 L1095.80,619.66 L1096.05,619.87 L1096.55,619.91 L1097.30,619.46 L1097.80,618.71 L1098.05,617.96 L1098.68,614.94 L1098.80,615.15 L1099.30,617.43 L1099.55,617.98 L1099.80,618.24 L1100.05,618.35 L1100.55,618.36 L1101.80,617.99 L1103.80,617.16 L1104.55,616.47 L1105.05,616.60 L1106.05,616.14 L1106.55,615.79 L1107.05,615.69 L1107.80,615.34 L1108.05,615.14 L1108.55,614.29 L1109.05,614.60 L1109.30,614.34 L1109.91,613.25 L1110.55,613.80 L1111.05,613.77 L1112.80,613.08 L1113.05,612.90 L1113.55,612.18 L1114.05,612.51 L1115.80,611.68 L1116.05,611.43 L1116.55,610.17 L1116.80,610.67 L1117.05,610.77 L1117.55,608.33 L1118.05,610.39 L1118.55,609.87 L1118.80,609.47 L1119.05,608.85 L1119.30,607.72 L1119.90,602.03 L1120.55,607.47 L1120.80,608.21 L1121.05,608.53 L1121.55,608.72 L1122.05,608.66 L1124.30,607.84" fill="none" stroke="#D95319" stroke-width="2.45" stroke-linejoin="round" stroke-linecap="butt"/><path d="M832.20,773.72 L892.20,746.37 L896.70,744.10 L897.95,743.25 L898.70,742.47 L899.20,741.59 L899.70,739.86 L899.95,738.11 L900.20,734.77 L900.45,727.26 L900.95,684.42 L901.45,726.93 L901.70,734.14 L901.95,737.22 L902.20,738.73 L902.45,739.55 L902.70,740.01 L903.20,740.42 L903.70,740.52 L904.45,740.44 L906.95,739.58 L912.70,737.08 L941.70,723.90 L951.45,719.37 L952.95,718.51 L953.70,717.78 L953.95,717.32 L954.62,715.34 L954.70,715.37 L955.20,716.54 L955.45,716.83 L955.95,716.95 L956.70,716.73 L957.45,716.38 L958.95,715.37 L959.70,714.48 L960.20,713.36 L960.45,712.39 L960.70,710.76 L960.95,707.77 L961.20,701.74 L961.61,687.91 L962.20,705.91 L962.45,709.20 L962.70,710.78 L962.95,711.56 L963.20,711.92 L963.45,712.03 L963.70,711.93 L963.95,711.63 L964.20,711.03 L964.45,709.94 L965.10,704.80 L965.20,705.04 L965.70,709.06 L965.95,710.08 L966.20,710.53 L966.45,710.64 L966.70,710.53 L966.95,710.19 L967.20,709.56 L967.45,708.47 L967.70,706.54 L968.20,698.86 L968.35,697.71 L968.45,698.23 L968.95,705.69 L969.20,707.69 L969.45,708.77 L969.70,709.37 L970.20,709.89 L970.95,710.02 L971.95,709.82 L974.45,708.89 L979.45,706.70 L1012.20,691.83 L1034.70,681.49 L1039.70,679.09 L1042.20,677.77 L1043.20,677.11 L1043.95,676.39 L1044.45,675.57 L1044.70,674.88 L1044.95,673.78 L1045.20,671.92 L1045.73,666.51 L1046.45,672.66 L1046.70,673.65 L1046.95,674.16 L1047.45,674.53 L1047.95,674.54 L1048.45,674.27 L1049.20,674.09 L1050.20,673.52 L1051.20,672.81 L1051.95,672.14 L1052.45,670.95 L1052.95,670.72 L1053.20,670.28 L1053.70,668.73 L1054.20,665.54 L1054.99,655.44 L1055.20,656.62 L1055.70,662.35 L1055.95,663.66 L1056.20,664.09 L1056.45,663.93 L1056.70,663.29 L1056.95,662.20 L1057.20,660.13 L1057.95,652.12 L1058.45,644.95 L1058.74,643.12 L1058.95,643.87 L1059.95,655.88 L1060.45,659.23 L1060.95,660.74 L1061.20,661.03 L1061.45,661.08 L1061.70,660.91 L1061.95,660.56 L1062.45,658.47 L1062.95,657.02 L1063.45,654.01 L1064.45,646.28 L1064.70,644.98 L1064.98,644.40 L1065.20,644.69 L1065.45,645.75 L1065.95,649.28 L1066.45,651.41 L1066.95,656.02 L1067.20,657.44 L1067.70,659.34 L1068.20,660.66 L1068.95,661.89 L1069.45,662.40 L1069.95,662.73 L1070.45,662.93 L1071.20,663.08 L1072.95,662.98 L1074.95,662.49 L1075.45,660.58 L1075.70,661.08 L1075.95,661.96 L1076.20,662.07 L1077.95,661.35 L1078.45,660.79 L1078.95,660.65 L1079.20,660.35 L1079.45,659.77 L1079.96,657.81 L1080.45,659.34 L1080.70,659.73 L1080.95,659.87 L1081.45,659.87 L1081.95,659.74 L1082.45,657.90 L1082.70,658.36 L1082.95,659.19 L1083.20,659.27 L1083.45,659.17 L1083.95,658.97 L1084.45,658.08 L1084.95,658.46 L1085.95,658.08 L1086.45,656.21 L1086.70,656.58 L1086.95,657.23 L1087.45,656.76 L1087.95,656.98 L1088.20,656.99 L1089.45,656.57 L1092.95,655.04 L1093.45,653.42 L1093.70,653.77 L1093.95,654.44 L1094.20,654.48 L1103.95,650.10 L1104.45,649.45 L1104.95,649.60 L1105.20,649.54 L1109.95,647.39 L1110.45,646.16 L1110.70,646.38 L1110.95,646.82 L1111.45,645.49 L1111.70,645.78 L1111.95,646.35 L1112.20,646.37 L1115.95,644.67 L1116.45,643.57 L1116.70,643.75 L1116.95,644.12 L1117.20,644.11 L1119.95,642.86 L1120.45,641.85 L1120.70,642.00 L1120.95,642.32 L1121.20,642.29 L1125.95,640.14 L1126.45,638.98 L1126.70,639.18 L1126.95,639.58 L1127.20,639.57 L1127.95,639.23 L1128.45,638.11 L1128.70,638.29 L1128.95,638.68 L1129.20,638.66 L1136.95,635.14 L1137.45,634.57 L1137.95,634.65 L1138.45,632.73 L1138.70,633.19 L1138.95,634.04 L1139.20,634.12 L1140.95,633.33 L1141.45,631.80 L1141.70,632.12 L1141.95,632.73 L1142.20,632.76 L1149.95,629.24 L1150.45,627.74 L1150.70,628.05 L1150.95,628.64 L1151.20,628.67 L1152.95,627.88 L1153.45,627.36 L1153.95,627.42 L1154.20,627.31" fill="none" stroke="#0072BD" stroke-width="2.45" stroke-linejoin="round" stroke-linecap="butt"/><path d="M862.10,793.13 L932.10,761.23 L938.35,758.19 L940.10,757.15 L941.10,756.37 L942.10,755.15 L942.60,754.09 L942.85,753.30 L943.35,750.56 L943.60,747.98 L943.85,743.61 L944.10,735.89 L944.63,712.97 L945.35,741.33 L945.60,746.17 L945.85,748.89 L946.35,751.49 L946.85,752.53 L947.35,752.97 L947.85,753.13 L948.60,753.13 L949.60,752.91 L952.60,751.81 L958.10,749.42 L994.85,732.72 L1004.10,728.34 L1006.10,727.25 L1007.60,726.23 L1008.35,725.53 L1009.10,724.50 L1009.60,723.37 L1010.10,721.39 L1010.60,717.36 L1011.35,703.93 L1011.53,702.40 L1011.85,706.11 L1012.35,715.10 L1012.85,719.47 L1013.35,721.29 L1013.85,722.07 L1014.10,722.27 L1014.60,722.46 L1015.35,722.44 L1016.60,721.99 L1017.60,721.27 L1018.35,720.29 L1018.85,719.06 L1019.35,716.59 L1020.10,708.63 L1020.27,707.83 L1020.60,710.10 L1021.10,715.21 L1021.60,717.62 L1022.10,718.59 L1022.60,718.96 L1023.35,719.08 L1024.35,718.90 L1027.35,717.81 L1034.10,714.86 L1080.85,693.58 L1081.10,693.30 L1081.35,692.65 L1081.60,692.29 L1082.10,693.00 L1085.85,691.27 L1086.60,690.52 L1087.10,690.68 L1090.85,688.88 L1092.60,687.91 L1093.10,687.54 L1094.10,686.43 L1094.35,685.84 L1094.60,684.85 L1094.85,682.93 L1095.43,671.19 L1095.85,680.17 L1096.10,683.12 L1096.35,684.37 L1096.60,684.95 L1096.85,685.21 L1097.35,685.36 L1097.85,685.28 L1098.10,684.87 L1098.35,683.95 L1098.60,683.68 L1098.85,684.40 L1099.10,684.77 L1099.85,684.26 L1100.10,683.72 L1100.35,682.61 L1100.60,681.84 L1100.85,681.40 L1101.17,680.19 L1101.60,681.98 L1101.85,682.64 L1102.10,682.90 L1102.35,682.97 L1102.85,682.90 L1103.85,682.48 L1104.10,682.00 L1104.35,680.99 L1104.60,680.68 L1104.85,681.41 L1105.10,681.43 L1105.35,680.35 L1105.60,680.01 L1105.85,680.77 L1106.10,681.16 L1107.10,680.34 L1107.60,679.73 L1108.10,678.60 L1108.66,676.51 L1108.85,676.69 L1109.10,677.32 L1109.35,677.67 L1109.60,677.73 L1109.85,677.60 L1110.60,676.60 L1111.35,674.69 L1111.85,672.52 L1112.35,668.93 L1112.85,662.90 L1113.35,655.13 L1113.65,652.79 L1113.85,653.41 L1114.85,664.90 L1115.10,666.50 L1115.35,667.52 L1115.60,668.09 L1115.85,668.30 L1116.10,668.22 L1116.35,667.89 L1116.85,666.54 L1117.10,665.52 L1117.85,661.02 L1118.85,653.20 L1119.10,651.89 L1119.40,651.26 L1119.60,651.49 L1119.85,652.46 L1121.10,661.54 L1121.60,664.46 L1122.10,666.59 L1122.60,668.10 L1123.35,669.56 L1123.85,670.17 L1124.35,670.58 L1124.85,670.85 L1125.60,671.08 L1127.10,671.12 L1128.35,670.91 L1130.10,670.43 L1132.10,669.72 L1133.35,669.15 L1134.10,668.54 L1134.35,668.09 L1134.87,666.51 L1135.10,666.70 L1135.35,666.72 L1135.60,666.88 L1135.85,667.59 L1136.10,667.96 L1137.85,667.37 L1139.85,666.39 L1140.10,665.79 L1140.35,664.51 L1140.60,664.05 L1140.85,664.80 L1141.10,664.92 L1141.35,663.96 L1141.86,660.49 L1142.35,663.41 L1142.60,664.21 L1142.85,664.55 L1143.10,664.69 L1143.60,664.70 L1144.35,664.50 L1144.85,664.32 L1145.10,664.04 L1145.35,663.49 L1145.60,663.29 L1145.85,663.64 L1146.10,663.81 L1146.85,663.49 L1147.10,662.86 L1147.35,661.45 L1147.60,661.08 L1147.85,662.27 L1148.10,662.94 L1151.85,661.17 L1152.60,660.34 L1152.85,660.20 L1153.10,659.78 L1153.59,658.11 L1154.10,659.31 L1154.35,659.49 L1154.85,659.66 L1155.10,659.42 L1155.35,658.72 L1155.60,658.51 L1155.85,659.04 L1156.10,659.32 L1158.85,658.13 L1159.60,657.69 L1160.10,657.57 L1161.85,656.78 L1162.10,656.19 L1162.35,654.87 L1162.60,654.51 L1162.85,655.61 L1163.10,656.22 L1163.85,655.88 L1164.35,655.23 L1164.60,655.05 L1165.10,655.31 L1171.10,652.59 L1172.32,651.93 L1173.85,651.35 L1174.10,650.89 L1174.35,649.92 L1174.60,649.63 L1174.85,650.38 L1175.10,650.79 L1178.85,649.09 L1179.60,648.57 L1180.10,648.52 L1181.85,647.73 L1182.35,647.24 L1182.60,647.14 L1183.10,647.16 L1184.10,646.71" fill="none" stroke="#A2142F" stroke-width="2.45" stroke-linejoin="round" stroke-linecap="butt"/><path d="M892.00,812.54 L974.25,775.09 L982.00,771.41 L984.00,770.33 L985.25,769.51 L986.50,768.36 L987.25,767.17 L987.75,765.80 L988.25,763.23 L988.75,757.58 L989.57,739.93 L989.75,741.95 L990.25,754.47 L990.50,758.54 L991.00,762.71 L991.50,764.43 L991.75,764.89 L992.25,765.39 L992.75,765.60 L993.50,765.64 L995.25,765.23 L999.50,763.54 L1009.00,759.31 L1045.25,742.82 L1056.75,737.45 L1058.25,736.61 L1059.00,735.95 L1059.50,734.85 L1059.99,732.68 L1060.50,734.42 L1060.75,734.81 L1061.00,734.93 L1061.75,734.77 L1063.00,734.04 L1063.75,733.40 L1064.50,732.46 L1065.00,731.46 L1065.50,729.75 L1066.00,726.30 L1066.75,714.32 L1066.97,712.30 L1067.25,714.92 L1067.75,723.22 L1068.00,725.79 L1068.50,728.49 L1069.00,729.61 L1069.25,729.89 L1069.75,730.16 L1070.25,730.21 L1070.75,730.12 L1072.00,729.51 L1072.75,728.85 L1073.50,727.75 L1074.00,726.43 L1074.50,723.94 L1075.00,718.61 L1075.50,709.40 L1075.71,707.51 L1076.00,710.37 L1076.50,718.67 L1076.75,721.11 L1077.00,722.56 L1077.25,723.32 L1077.50,723.52 L1077.75,723.16 L1078.00,722.02 L1078.71,714.30 L1079.25,720.95 L1079.50,723.06 L1079.75,724.22 L1080.00,724.86 L1080.50,725.45 L1081.00,725.63 L1082.00,725.57 L1083.25,725.21 L1085.00,724.55 L1091.50,721.75 L1136.00,701.52 L1136.50,699.57 L1137.00,701.06 L1141.00,699.12 L1142.00,698.54 L1142.50,697.23 L1143.00,697.63 L1143.25,697.22 L1143.75,695.61 L1144.36,691.81 L1144.50,692.18 L1145.00,695.18 L1145.25,695.49 L1145.50,695.45 L1146.00,696.45 L1146.50,696.41 L1148.00,695.91 L1151.00,694.56 L1151.50,693.70 L1152.00,694.06 L1153.00,693.47 L1153.50,693.06 L1154.00,692.33 L1154.50,688.90 L1154.75,687.61 L1154.84,687.56 L1155.25,690.03 L1155.75,691.40 L1156.00,691.77 L1157.00,691.65 L1157.50,689.95 L1158.00,691.25 L1159.00,690.80 L1159.50,688.57 L1160.00,690.32 L1162.25,689.13 L1163.25,688.50 L1164.00,687.88 L1164.50,687.26 L1165.00,686.16 L1166.08,677.15 L1166.25,677.19 L1166.50,678.75 L1167.00,684.56 L1167.25,685.12 L1167.50,685.38 L1167.75,685.48 L1168.25,685.41 L1168.75,685.07 L1169.00,684.75 L1169.25,684.20 L1169.82,681.81 L1170.25,683.16 L1170.50,683.61 L1170.75,683.72 L1171.00,683.67 L1171.50,683.35 L1172.25,682.57 L1172.75,681.84 L1173.25,680.88 L1174.00,678.61 L1174.50,676.02 L1174.75,674.13 L1175.25,668.56 L1175.75,661.33 L1176.06,659.02 L1176.25,659.48 L1177.25,669.41 L1177.50,670.69 L1177.75,671.42 L1178.00,671.70 L1178.25,671.61 L1178.75,670.55 L1179.50,667.09 L1180.50,660.89 L1180.75,659.86 L1181.05,659.36 L1181.25,659.53 L1181.50,660.28 L1183.00,669.04 L1183.50,671.23 L1184.00,672.83 L1184.50,673.97 L1185.25,675.07 L1185.75,675.53 L1186.25,675.84 L1187.25,676.14 L1188.00,676.20 L1189.00,676.12 L1189.50,675.20 L1190.00,675.93 L1191.75,675.44 L1196.00,673.83 L1196.50,672.58 L1197.00,673.37 L1198.25,672.60 L1198.75,672.00 L1199.00,671.45 L1199.50,667.11 L1199.75,665.94 L1200.25,669.75 L1200.50,670.67 L1200.75,671.07 L1201.00,671.23 L1201.50,670.90 L1202.00,671.15 L1203.00,670.77 L1204.25,670.14 L1205.00,669.47 L1205.25,669.03 L1205.50,668.26 L1206.02,665.46 L1207.00,668.53 L1207.50,668.39 L1208.00,668.44 L1208.75,667.98 L1209.25,667.20 L1209.76,665.52 L1210.25,666.74 L1210.50,667.04 L1210.75,667.14 L1211.00,667.14 L1211.50,666.33 L1212.00,666.85 L1212.50,664.97 L1213.00,666.44 L1214.00,666.01" fill="none" stroke="#4DBEEE" stroke-width="2.45" stroke-linejoin="round" stroke-linecap="butt"/><path d="M921.90,831.95 L1018.90,787.81 L1028.40,783.39 L1032.65,781.18 L1034.15,780.15 L1035.15,779.16 L1035.90,777.98 L1036.40,776.68 L1036.90,774.50 L1037.15,772.82 L1037.90,764.66 L1038.24,762.40 L1038.40,762.82 L1039.40,772.25 L1039.90,774.51 L1040.40,775.60 L1040.65,775.92 L1041.15,776.28 L1041.65,776.42 L1042.15,776.44 L1043.40,776.22 L1046.15,775.25 L1051.40,772.99 L1085.15,757.71 L1111.40,745.67 L1116.65,743.14 L1119.90,741.39 L1121.90,740.00 L1122.65,739.30 L1123.40,738.36 L1124.15,736.93 L1124.90,734.34 L1125.40,731.08 L1125.65,728.56 L1126.15,720.53 L1126.65,709.95 L1126.88,707.88 L1127.15,710.22 L1127.90,724.63 L1128.15,727.72 L1128.65,731.47 L1129.15,733.38 L1129.40,733.96 L1129.90,734.69 L1130.65,735.16 L1131.15,735.26 L1131.90,735.21 L1133.40,734.72 L1134.90,733.77 L1135.90,732.62 L1136.65,730.98 L1137.15,728.88 L1137.65,724.83 L1138.40,713.13 L1138.62,711.55 L1138.90,713.84 L1139.65,724.67 L1139.90,726.62 L1140.40,728.84 L1140.90,729.88 L1141.15,730.18 L1141.65,730.52 L1142.65,730.67 L1143.90,730.45 L1147.40,729.19 L1154.40,726.16 L1199.90,705.55 L1200.65,704.91 L1201.15,704.98 L1202.90,704.18 L1203.40,702.97 L1203.65,702.98 L1203.90,703.48 L1204.15,702.93 L1204.40,701.67 L1204.65,701.78 L1204.90,702.82 L1205.15,703.16 L1210.90,700.55 L1211.40,698.82 L1211.65,698.89 L1211.90,699.72 L1212.15,699.98 L1212.90,699.63 L1213.40,697.45 L1213.65,697.58 L1213.90,698.69 L1214.15,699.07 L1216.90,697.81 L1217.40,696.41 L1217.65,696.44 L1217.90,697.06 L1218.15,697.24 L1219.90,696.44 L1220.40,694.62 L1220.65,694.71 L1220.90,695.59 L1221.15,695.87 L1225.65,693.79 L1227.90,692.70 L1228.40,690.62 L1228.65,690.71 L1228.90,691.70 L1229.15,692.00 L1229.90,691.43 L1230.40,690.82 L1230.90,689.46 L1231.15,687.84 L1231.73,678.13 L1232.15,685.59 L1232.40,687.97 L1232.65,688.98 L1232.90,689.43 L1233.15,689.63 L1233.90,689.67 L1234.40,688.20 L1234.65,688.27 L1234.90,688.99 L1235.15,689.20 L1235.40,689.07 L1235.90,688.74 L1236.40,688.18 L1236.65,687.65 L1237.22,685.38 L1237.65,686.69 L1237.90,687.12 L1238.15,687.21 L1238.40,687.13 L1238.90,686.59 L1239.15,685.37 L1239.65,681.62 L1239.90,678.62 L1240.21,672.40 L1240.65,680.91 L1240.90,683.37 L1241.15,683.82 L1241.65,682.77 L1241.90,682.01 L1242.21,679.27 L1242.40,679.64 L1242.90,684.04 L1243.15,684.80 L1243.40,685.01 L1243.90,685.10" fill="none" stroke="#77AC30" stroke-width="2.45" stroke-linejoin="round" stroke-linecap="butt"/><path d="M951.80,851.36 L1065.05,799.84 L1077.30,794.20 L1083.05,791.40 L1085.05,790.28 L1086.55,789.25 L1087.80,788.05 L1088.55,786.97 L1089.05,785.93 L1089.55,784.46 L1090.80,778.77 L1091.05,778.04 L1091.19,777.88 L1091.30,777.89 L1091.55,778.34 L1092.80,782.91 L1093.30,783.94 L1093.80,784.54 L1094.55,784.96 L1095.55,785.06 L1096.80,784.84 L1098.55,784.29 L1104.55,781.80 L1118.55,775.52 L1163.30,755.15 L1176.55,748.96 L1178.05,748.06 L1178.80,747.25 L1179.05,746.69 L1179.30,745.69 L1179.81,742.21 L1180.30,745.15 L1180.55,745.93 L1180.80,746.25 L1181.05,746.36 L1181.55,746.33 L1182.55,745.92 L1183.30,745.42 L1183.80,744.86 L1184.05,744.36 L1184.30,743.47 L1184.80,740.48 L1185.30,742.97 L1185.55,743.59 L1185.80,743.82 L1186.05,743.88 L1186.55,743.79 L1187.80,743.15 L1188.80,742.45 L1189.80,741.56 L1190.55,740.67 L1191.05,739.89 L1191.80,738.21 L1192.55,735.29 L1193.05,731.82 L1193.55,725.83 L1194.55,703.77 L1194.78,701.65 L1195.05,704.14 L1196.05,725.19 L1196.55,730.48 L1197.05,733.36 L1197.30,734.29 L1197.80,735.51 L1198.30,736.22 L1198.80,736.62 L1199.30,736.84 L1200.05,736.94 L1201.30,736.77 L1202.55,736.37 L1203.80,735.81 L1205.05,735.06 L1205.80,734.46 L1206.55,733.63 L1207.05,732.83 L1207.55,731.67 L1208.05,729.79 L1208.55,726.47 L1209.55,712.80 L1209.76,711.55 L1210.05,713.52 L1210.80,723.88 L1211.30,727.54 L1211.80,729.37 L1212.30,730.30 L1213.05,730.91 L1213.55,731.05 L1214.30,731.07 L1215.55,730.83 L1217.55,730.17 L1224.05,727.45 L1273.80,704.96" fill="none" stroke="#7E2F8E" stroke-width="2.45" stroke-linejoin="round" stroke-linecap="butt"/><path d="M981.70,870.78 L1119.70,808.01 L1134.95,801.02 L1142.20,797.57 L1144.70,796.28 L1146.45,795.24 L1147.95,794.13 L1148.95,793.12 L1149.70,792.07 L1150.20,791.14 L1150.70,789.94 L1151.70,786.99 L1151.95,786.38 L1152.35,785.86 L1152.70,785.97 L1152.95,786.33 L1153.95,788.37 L1154.45,789.13 L1154.95,789.63 L1155.70,790.02 L1156.70,790.13 L1157.70,790.00 L1159.20,789.59 L1161.20,788.87 L1166.20,786.76 L1175.70,782.52 L1231.20,757.28 L1252.45,747.48 L1262.70,742.47 L1266.45,740.36 L1269.20,738.46 L1270.20,737.59 L1271.20,736.55 L1271.95,735.59 L1272.70,734.41 L1273.70,732.28 L1274.70,729.10 L1275.45,725.68 L1276.95,716.96 L1277.20,715.89 L1277.45,715.18 L1277.66,714.93 L1277.95,715.10 L1278.20,715.71 L1279.95,724.01 L1280.45,725.86 L1280.95,727.28 L1281.45,728.35 L1282.20,729.44 L1282.95,730.11 L1283.70,730.49 L1284.45,730.67 L1285.45,730.72 L1286.70,730.57 L1287.95,730.26 L1289.45,729.76 L1291.20,729.03 L1292.70,728.24 L1293.70,727.56 L1294.95,726.33 L1295.70,725.17 L1296.45,723.40 L1297.45,720.32 L1297.70,719.83 L1297.88,719.67 L1298.20,719.81 L1298.45,720.23 L1299.20,721.97 L1299.70,722.87 L1300.45,723.65 L1300.95,723.90 L1301.70,724.02 L1302.70,723.94 L1303.70,723.70" fill="none" stroke="#EDB120" stroke-width="2.45" stroke-linejoin="round" stroke-linecap="butt"/><path d="M1011.60,890.19 L1192.85,807.77 L1219.10,795.71 L1224.10,793.14 L1225.60,792.18 L1226.60,791.37 L1227.35,790.57 L1228.10,789.50 L1229.60,786.25 L1229.85,785.77 L1230.23,785.37 L1230.60,785.42 L1230.85,785.66 L1231.85,787.06 L1232.35,787.55 L1232.85,787.86 L1233.35,788.02 L1234.35,788.05 L1235.35,787.86 L1236.85,787.40 L1238.85,786.64 L1244.10,784.39 L1254.60,779.68 L1333.60,743.79" fill="none" stroke="#D95319" stroke-width="2.45" stroke-linejoin="round" stroke-linecap="butt"/><path d="M1041.50,909.60 L1363.50,763.20" fill="none" stroke="#0072BD" stroke-width="2.45" stroke-linejoin="round" stroke-linecap="butt"/></g>
<text class="tk" transform="translate(758.6,733.0) scale(0.94,1)" text-anchor="end" fill="#4a4a4a" stroke="#4a4a4a">0</text>
<text class="tk" transform="translate(758.6,679.8) scale(0.94,1)" text-anchor="end" fill="#4a4a4a" stroke="#4a4a4a">2</text>
<text class="tk" transform="translate(758.6,626.5) scale(0.94,1)" text-anchor="end" fill="#4a4a4a" stroke="#4a4a4a">4</text>
<text class="tk" transform="translate(752.5,755.7) scale(0.94,1)" text-anchor="middle" fill="#4a4a4a" stroke="#4a4a4a">10</text>
<text class="tk" transform="translate(842.2,813.9) scale(0.94,1)" text-anchor="middle" fill="#4a4a4a" stroke="#4a4a4a">7</text>
<text class="tk" transform="translate(931.9,872.2) scale(0.94,1)" text-anchor="middle" fill="#4a4a4a" stroke="#4a4a4a">4</text>
<text class="tk" transform="translate(1021.6,930.4) scale(0.94,1)" text-anchor="middle" fill="#4a4a4a" stroke="#4a4a4a">1</text>
<text class="tk" transform="translate(1052.7,928.5) scale(0.93,1)" text-anchor="start" fill="#4a4a4a" stroke="#4a4a4a">6</text>
<text class="tk" transform="translate(1160.0,879.7) scale(0.93,1)" text-anchor="start" fill="#4a4a4a" stroke="#4a4a4a">9</text>
<text class="tk" transform="translate(1267.4,830.9) scale(0.93,1)" text-anchor="start" fill="#4a4a4a" stroke="#4a4a4a">12</text>
<text class="tk" transform="translate(1374.7,782.1) scale(0.93,1)" text-anchor="start" fill="#4a4a4a" stroke="#4a4a4a">15</text>
<text class="tk" x="767.6" y="603.0" fill="#4a4a4a" stroke="#4a4a4a" style="font-size:22px;stroke-width:0.4px">×10</text>
<text class="tk" x="804.1" y="591.0" style="font-size:16px;stroke-width:0.3px" fill="#4a4a4a" stroke="#4a4a4a">-3</text>
<text class="lab" transform="translate(1236.4,878.9) rotate(-24.5)" text-anchor="middle" style="font-size:30.3px"><tspan font-style="italic">f</tspan>, GHz</text>
<text class="lab" transform="translate(855.9,841.9) rotate(33)" style="font-size:29.5px" font-style="italic">μ</text>
<text class="lab" transform="translate(868.4,861.4) rotate(33)" style="font-size:21.5px" font-style="italic">d</text>
<text class="lab" transform="translate(735.9,725.8) rotate(-90)" style="font-size:31.5px"  stroke="#1f1f1f" stroke-width="0.85" textLength="47.5" lengthAdjust="spacingAndGlyphs">MD</text>
<text class="lab scr" transform="translate(722.3,678.4) rotate(-90)" style="font-size:18.5px"  stroke="#1f1f1f" stroke-width="0.85" textLength="22" lengthAdjust="spacingAndGlyphs">ℋ</text>
<text class="lab" transform="translate(735.9,670.6) rotate(-90)" style="font-size:31.5px"  stroke="#1f1f1f" stroke-width="0.85">,</text>
<text class="lab" transform="translate(735.9,651.1) rotate(-90)" style="font-size:31.5px"  stroke="#1f1f1f" stroke-width="0.85" textLength="23" lengthAdjust="spacingAndGlyphs">m</text>
<text class="lab" transform="translate(722.3,627.1) rotate(-90)" style="font-size:19px"  stroke="#1f1f1f" stroke-width="0.85">2</text>
<circle cx="820.3" cy="608.5" r="14.6" fill="#fff" stroke="#111" stroke-width="1.6"/>
<text class="circ" x="820.3" y="615.4">2</text>
<circle cx="899.2" cy="664.2" r="14.6" fill="#fff" stroke="#111" stroke-width="1.6"/>
<text class="circ" x="899.2" y="671.1">2</text>
<circle cx="986.6" cy="718.2" r="14.6" fill="#fff" stroke="#111" stroke-width="1.6"/>
<text class="circ" x="986.6" y="725.1">2</text>
<circle cx="1089.4" cy="756.9" r="14.6" fill="#fff" stroke="#111" stroke-width="1.6"/>
<text class="circ" x="1089.4" y="763.8">2</text>
<circle cx="1227.2" cy="763.9" r="14.6" fill="#fff" stroke="#111" stroke-width="1.6"/>
<text class="circ" x="1227.2" y="770.8">2</text>
</g>
<g id="panel-c2">
<g class="grid"><line x1="1742.80" y1="908.60" x2="1470.20" y2="733.00" stroke="#e0e0e2" stroke-width="1.8" /><line x1="1851.23" y1="859.50" x2="1578.63" y2="683.90" stroke="#e0e0e2" stroke-width="1.8" /><line x1="1959.67" y1="810.40" x2="1687.07" y2="634.80" stroke="#e0e0e2" stroke-width="1.8" /><line x1="2068.10" y1="761.30" x2="1795.50" y2="585.70" stroke="#e0e0e2" stroke-width="1.8" /><line x1="1742.80" y1="908.60" x2="2068.10" y2="761.30" stroke="#e0e0e2" stroke-width="1.8" /><line x1="1651.93" y1="850.07" x2="1977.23" y2="702.77" stroke="#e0e0e2" stroke-width="1.8" /><line x1="1561.07" y1="791.53" x2="1886.37" y2="644.23" stroke="#e0e0e2" stroke-width="1.8" /><line x1="1470.20" y1="733.00" x2="1795.50" y2="585.70" stroke="#e0e0e2" stroke-width="1.8" /><line x1="1470.20" y1="733.00" x2="1470.20" y2="626.10" stroke="#e0e0e2" stroke-width="1.8" /><line x1="1578.63" y1="683.90" x2="1578.63" y2="577.00" stroke="#e0e0e2" stroke-width="1.8" /><line x1="1687.07" y1="634.80" x2="1687.07" y2="527.90" stroke="#e0e0e2" stroke-width="1.8" /><line x1="1795.50" y1="585.70" x2="1795.50" y2="478.80" stroke="#e0e0e2" stroke-width="1.8" /><line x1="1470.20" y1="733.00" x2="1795.50" y2="585.70" stroke="#e0e0e2" stroke-width="1.8" /><line x1="1470.20" y1="679.55" x2="1795.50" y2="532.25" stroke="#e0e0e2" stroke-width="1.8" /><line x1="1470.20" y1="626.10" x2="1795.50" y2="478.80" stroke="#e0e0e2" stroke-width="1.8" /><line x1="2068.10" y1="761.30" x2="2068.10" y2="654.40" stroke="#e0e0e2" stroke-width="1.8" /><line x1="1977.23" y1="702.77" x2="1977.23" y2="595.87" stroke="#e0e0e2" stroke-width="1.8" /><line x1="1886.37" y1="644.23" x2="1886.37" y2="537.33" stroke="#e0e0e2" stroke-width="1.8" /><line x1="1795.50" y1="585.70" x2="1795.50" y2="478.80" stroke="#e0e0e2" stroke-width="1.8" /><line x1="1795.50" y1="585.70" x2="2068.10" y2="761.30" stroke="#e0e0e2" stroke-width="1.8" /><line x1="1795.50" y1="532.25" x2="2068.10" y2="707.85" stroke="#e0e0e2" stroke-width="1.8" /><line x1="1795.50" y1="478.80" x2="2068.10" y2="654.40" stroke="#e0e0e2" stroke-width="1.8" /></g>
<g class="axes"><line x1="1470.20" y1="733.00" x2="1470.20" y2="626.10" stroke="#262626" stroke-width="1.9" /><line x1="1470.20" y1="733.00" x2="1742.80" y2="908.60" stroke="#262626" stroke-width="1.9" stroke-linecap="square"/><line x1="1742.80" y1="908.60" x2="2068.10" y2="761.30" stroke="#262626" stroke-width="1.9" stroke-linecap="square"/><line x1="1742.80" y1="908.60" x2="1733.96" y2="912.60" stroke="#1c1c1c" stroke-width="1.7" /><line x1="1651.93" y1="850.07" x2="1643.10" y2="854.07" stroke="#1c1c1c" stroke-width="1.7" /><line x1="1561.07" y1="791.53" x2="1552.23" y2="795.53" stroke="#1c1c1c" stroke-width="1.7" /><line x1="1470.20" y1="733.00" x2="1461.36" y2="737.00" stroke="#1c1c1c" stroke-width="1.7" /><line x1="1742.80" y1="908.60" x2="1750.95" y2="913.85" stroke="#1c1c1c" stroke-width="1.7" /><line x1="1851.23" y1="859.50" x2="1859.39" y2="864.75" stroke="#1c1c1c" stroke-width="1.7" /><line x1="1959.67" y1="810.40" x2="1967.82" y2="815.65" stroke="#1c1c1c" stroke-width="1.7" /><line x1="2068.10" y1="761.30" x2="2076.25" y2="766.55" stroke="#1c1c1c" stroke-width="1.7" /><line x1="1470.20" y1="733.00" x2="1462.05" y2="727.75" stroke="#1c1c1c" stroke-width="1.7" /><line x1="1470.20" y1="679.55" x2="1462.05" y2="674.30" stroke="#1c1c1c" stroke-width="1.7" /><line x1="1470.20" y1="626.10" x2="1462.05" y2="620.85" stroke="#1c1c1c" stroke-width="1.7" /></g>
<g class="curves"><path d="M1470.20,733.00 L1683.98,636.20 L1684.48,635.63 L1684.98,635.73 L1685.23,635.63 L1686.98,634.84 L1687.48,634.33 L1687.98,634.38 L1690.98,633.03 L1691.48,632.68 L1691.98,632.57 L1693.98,631.67 L1694.48,630.94 L1694.98,631.20 L1695.23,631.10 L1701.99,628.04 L1702.49,627.42 L1702.99,627.58 L1703.24,627.48 L1729.99,615.36 L1730.49,614.62 L1730.99,614.90 L1731.24,614.80 L1738.99,611.29 L1739.49,610.68 L1739.99,610.83 L1742.49,609.62 L1742.99,609.48 L1745.99,608.12 L1746.49,607.52 L1746.99,607.66 L1748.99,606.76 L1749.49,606.15 L1749.99,606.30 L1750.49,605.95 L1750.99,605.85 L1755.99,603.59 L1756.49,602.72 L1756.99,603.13 L1764.00,599.97 L1764.50,599.33 L1765.00,599.51 L1768.00,598.15 L1768.50,597.39 L1769.00,597.70 L1774.00,595.44 L1774.50,594.97 L1775.00,594.98 L1775.50,594.11 L1776.00,594.53 L1783.00,591.36 L1783.50,590.94 L1784.00,590.91 L1792.00,587.29 L1792.50,586.41 L1793.00,586.83 L1795.50,585.70" fill="none" stroke="#EDB120" stroke-width="2.45" stroke-linejoin="round" stroke-linecap="butt"/><path d="M1500.49,752.51 L1643.76,687.64 L1644.01,687.52 L1644.51,687.01 L1645.01,687.07 L1646.01,686.61 L1646.51,686.25 L1647.01,686.16 L1648.76,685.37 L1649.01,685.24 L1649.51,684.40 L1650.01,684.81 L1657.76,681.30 L1658.01,681.16 L1658.51,680.23 L1659.01,680.73 L1670.77,675.41 L1671.02,675.27 L1671.52,674.21 L1672.02,674.84 L1678.77,671.78 L1679.02,671.64 L1679.52,670.49 L1680.02,671.22 L1685.77,668.61 L1686.02,668.47 L1686.52,667.28 L1687.02,668.02 L1687.52,667.11 L1688.02,667.60 L1694.77,664.54 L1695.52,664.06 L1696.02,663.97 L1701.77,661.37 L1702.02,661.24 L1702.52,660.61 L1703.02,660.80 L1716.77,654.58 L1717.52,653.97 L1718.02,654.01 L1718.77,653.67 L1719.02,653.53 L1719.52,652.71 L1720.02,653.10 L1720.77,652.76 L1721.02,652.62 L1721.52,651.72 L1722.02,652.20 L1726.77,650.05 L1727.02,649.89 L1727.52,648.76 L1728.02,649.48 L1732.02,647.63 L1732.52,646.70 L1733.02,647.22 L1737.78,645.06 L1738.53,644.62 L1739.03,644.50 L1747.78,640.54 L1748.03,640.38 L1748.53,639.39 L1749.03,639.97 L1752.03,638.59 L1752.53,637.95 L1753.03,638.16 L1755.78,636.91 L1756.03,636.76 L1756.53,635.96 L1757.03,636.35 L1760.78,634.65 L1761.53,634.23 L1762.03,634.08 L1768.78,631.03 L1769.03,630.85 L1769.53,629.74 L1770.03,630.46 L1777.78,626.95 L1778.03,626.77 L1778.53,625.70 L1779.03,626.38 L1782.03,625.00 L1782.53,624.45 L1783.03,624.57 L1795.78,618.80 L1796.03,618.64 L1796.53,617.84 L1797.03,618.23 L1802.79,615.63 L1803.04,615.45 L1803.54,614.49 L1804.04,615.06 L1806.04,614.11 L1806.54,613.37 L1807.04,613.70 L1825.79,605.21" fill="none" stroke="#D95319" stroke-width="2.45" stroke-linejoin="round" stroke-linecap="butt"/><path d="M1530.78,772.02 L1856.08,624.72" fill="none" stroke="#0072BD" stroke-width="2.45" stroke-linejoin="round" stroke-linecap="butt"/><path d="M1561.07,791.53 L1771.85,696.09 L1772.10,695.79 L1772.35,695.20 L1772.60,694.99 L1772.85,695.35 L1773.10,695.52 L1775.85,694.28 L1776.60,693.84 L1777.10,693.71 L1778.85,692.92 L1779.10,692.64 L1779.35,692.10 L1779.60,691.91 L1779.85,692.21 L1780.10,692.35 L1782.85,691.11 L1783.35,690.51 L1783.60,690.34 L1784.10,690.54 L1784.85,690.20 L1785.10,689.91 L1785.35,689.36 L1785.60,689.16 L1785.85,689.49 L1786.10,689.54 L1786.35,689.18 L1786.60,689.03 L1786.85,689.15 L1787.10,689.02 L1787.35,688.52 L1787.60,688.34 L1787.85,688.61 L1788.10,688.73 L1793.85,686.12 L1794.10,685.81 L1794.35,685.20 L1794.60,685.00 L1794.85,685.38 L1795.10,685.51 L1795.60,685.14 L1796.10,685.11 L1803.85,681.60 L1804.10,681.31 L1804.35,680.76 L1804.60,680.58 L1804.85,680.89 L1805.10,681.03 L1810.86,678.43 L1811.61,677.89 L1812.11,677.86 L1822.86,672.99 L1823.61,672.47 L1824.11,672.43 L1825.86,671.63 L1826.36,671.00 L1826.61,670.85 L1827.11,671.07 L1827.86,670.73 L1828.61,670.09 L1829.11,670.16 L1830.86,669.37 L1831.36,668.59 L1831.61,668.43 L1831.86,668.70 L1832.11,668.80 L1846.86,662.12 L1847.61,661.67 L1848.11,661.56 L1850.86,660.31 L1851.11,659.98 L1851.36,659.39 L1851.61,659.22 L1851.86,659.59 L1852.11,659.74 L1862.86,654.88 L1863.11,654.54 L1863.36,653.95 L1863.61,653.79 L1863.86,654.16 L1864.11,654.31 L1873.86,649.89 L1874.61,649.37 L1875.11,649.33 L1881.87,646.27 L1882.62,645.71 L1883.12,645.71 L1883.87,645.37 L1884.37,644.89 L1885.12,644.80 L1886.37,644.23" fill="none" stroke="#A2142F" stroke-width="2.45" stroke-linejoin="round" stroke-linecap="butt"/><path d="M1591.36,811.04 L1802.89,715.26 L1803.39,714.84 L1804.14,714.69 L1816.89,708.92 L1817.39,708.05 L1817.64,707.99 L1817.89,708.29 L1818.14,708.35 L1824.89,705.30 L1825.39,704.50 L1825.64,704.44 L1825.89,704.69 L1826.14,704.73 L1830.89,702.58 L1831.39,701.68 L1831.64,701.63 L1831.89,701.94 L1832.14,702.01 L1837.89,699.41 L1838.39,698.50 L1838.64,698.45 L1838.89,698.77 L1839.14,698.84 L1840.89,698.05 L1841.39,697.21 L1841.64,697.16 L1841.89,697.43 L1842.14,697.48 L1843.89,696.69 L1844.39,695.93 L1844.64,695.87 L1844.89,696.10 L1845.14,696.13 L1852.90,692.62 L1853.40,692.32 L1859.90,689.45 L1860.40,688.62 L1860.65,688.57 L1860.90,688.84 L1861.15,688.88 L1867.90,685.82 L1868.40,685.31 L1868.65,685.23 L1869.15,685.26 L1871.90,684.01 L1872.40,683.59 L1873.15,683.44 L1873.90,683.11 L1874.40,682.62 L1875.15,682.54 L1878.90,680.84 L1879.40,680.10 L1879.65,680.05 L1879.90,680.26 L1880.15,680.27 L1883.90,678.58 L1884.40,678.05 L1884.65,677.97 L1885.15,678.01 L1885.90,677.67 L1886.40,677.07 L1886.65,677.00 L1886.90,677.12 L1887.15,677.10 L1888.90,676.31 L1889.40,675.40 L1889.65,675.38 L1889.90,675.69 L1890.15,675.66 L1890.40,675.41 L1890.65,675.33 L1891.15,675.29 L1900.90,670.88 L1901.40,670.23 L1901.65,670.17 L1901.90,670.32 L1902.15,670.31 L1913.91,664.99 L1914.41,664.67 L1916.66,663.74" fill="none" stroke="#4DBEEE" stroke-width="2.45" stroke-linejoin="round" stroke-linecap="butt"/><path d="M1621.64,830.56 L1833.93,734.43 L1834.43,733.49 L1834.68,733.55 L1834.93,733.86 L1835.18,733.87 L1835.93,733.53 L1836.43,733.15 L1837.18,732.96 L1838.93,732.17 L1839.43,731.27 L1839.68,731.32 L1839.93,731.60 L1840.18,731.60 L1841.93,730.81 L1842.43,729.85 L1842.68,729.92 L1842.93,730.23 L1843.18,730.21 L1843.93,729.89 L1844.43,729.32 L1845.18,729.34 L1851.93,726.28 L1852.43,725.94 L1853.18,725.71 L1854.93,724.92 L1855.43,724.44 L1856.18,724.35 L1863.93,720.84 L1864.43,720.40 L1865.18,720.28 L1868.93,718.58 L1869.43,717.92 L1869.68,717.92 L1869.93,718.06 L1871.18,717.56 L1875.93,715.41 L1876.43,715.10 L1877.18,714.84 L1882.93,712.24 L1883.43,711.85 L1884.18,711.67 L1890.94,708.62 L1891.44,708.26 L1892.19,708.05 L1895.94,706.35 L1896.44,705.90 L1897.19,705.79 L1905.94,701.82 L1906.44,701.01 L1906.69,701.07 L1906.94,701.29 L1907.44,700.69 L1907.69,700.71 L1907.94,700.85 L1908.19,700.80 L1913.94,698.20 L1914.44,697.45 L1914.69,697.49 L1914.94,697.68 L1915.19,697.63 L1916.94,696.84 L1917.44,695.99 L1917.69,696.06 L1917.94,696.30 L1918.19,696.28 L1918.94,695.94 L1919.44,695.58 L1920.19,695.37 L1924.94,693.22 L1925.44,692.85 L1926.19,692.65 L1930.94,690.50 L1931.44,689.99 L1931.94,690.01 L1932.94,689.60 L1933.44,688.66 L1933.69,688.76 L1933.94,689.05 L1934.19,689.03 L1934.94,688.69 L1935.44,687.98 L1935.94,688.17 L1936.44,687.84 L1936.94,687.76 L1937.94,687.33 L1938.44,686.43 L1938.69,686.53 L1938.94,686.79 L1939.19,686.77 L1943.94,684.61 L1944.44,684.08 L1944.94,684.13 L1946.94,683.26" fill="none" stroke="#77AC30" stroke-width="2.45" stroke-linejoin="round" stroke-linecap="butt"/><path d="M1651.93,850.07 L1906.97,734.58 L1907.47,734.11 L1907.97,734.11 L1908.22,734.02 L1912.97,731.86 L1913.47,730.91 L1913.97,731.37 L1914.22,731.30 L1916.97,730.05 L1917.47,729.52 L1917.97,729.58 L1918.22,729.49 L1918.97,729.15 L1919.47,728.65 L1919.97,728.68 L1920.22,728.58 L1936.98,721.00 L1937.48,720.26 L1937.98,720.52 L1938.23,720.43 L1942.98,718.28 L1943.48,717.27 L1943.98,717.79 L1944.48,716.83 L1944.98,717.34 L1945.23,717.26 L1960.98,710.13 L1961.48,709.68 L1961.98,709.66 L1962.23,709.56 L1973.98,704.24 L1974.48,703.68 L1974.98,703.78 L1977.23,702.77" fill="none" stroke="#7E2F8E" stroke-width="2.45" stroke-linejoin="round" stroke-linecap="butt"/><path d="M1682.22,869.58 L2007.52,722.28" fill="none" stroke="#EDB120" stroke-width="2.45" stroke-linejoin="round" stroke-linecap="butt"/><path d="M1712.51,889.09 L2037.81,741.79" fill="none" stroke="#D95319" stroke-width="2.45" stroke-linejoin="round" stroke-linecap="butt"/><path d="M1742.80,908.60 L2068.10,761.30" fill="none" stroke="#0072BD" stroke-width="2.45" stroke-linejoin="round" stroke-linecap="butt"/></g>
<text class="tk" transform="translate(1456.4,731.1) scale(0.94,1)" text-anchor="end" fill="#262626" stroke="#262626">0</text>
<text class="tk" transform="translate(1456.4,677.6) scale(0.94,1)" text-anchor="end" fill="#262626" stroke="#262626">2</text>
<text class="tk" transform="translate(1456.4,624.2) scale(0.94,1)" text-anchor="end" fill="#262626" stroke="#262626">4</text>
<text class="tk" transform="translate(1450.3,753.8) scale(0.94,1)" text-anchor="middle" fill="#262626" stroke="#262626">10</text>
<text class="tk" transform="translate(1541.2,812.3) scale(0.94,1)" text-anchor="middle" fill="#262626" stroke="#262626">7</text>
<text class="tk" transform="translate(1632.0,870.9) scale(0.94,1)" text-anchor="middle" fill="#262626" stroke="#262626">4</text>
<text class="tk" transform="translate(1722.9,929.4) scale(0.94,1)" text-anchor="middle" fill="#262626" stroke="#262626">1</text>
<text class="tk" transform="translate(1754.0,927.5) scale(0.93,1)" text-anchor="start" fill="#262626" stroke="#262626">6</text>
<text class="tk" transform="translate(1862.4,878.4) scale(0.93,1)" text-anchor="start" fill="#262626" stroke="#262626">9</text>
<text class="tk" transform="translate(1970.9,829.3) scale(0.93,1)" text-anchor="start" fill="#262626" stroke="#262626">12</text>
<text class="tk" transform="translate(2079.3,780.2) scale(0.93,1)" text-anchor="start" fill="#262626" stroke="#262626">15</text>
<text class="tk" x="1466.9" y="603.6" fill="#262626" stroke="#262626" style="font-size:22px;stroke-width:0.4px">×10</text>
<text class="tk" x="1503.4" y="591.6" style="font-size:16px;stroke-width:0.3px" fill="#262626" stroke="#262626">-3</text>
<text class="lab" transform="translate(1941.7,879.0) rotate(-24.5)" text-anchor="middle" style="font-size:30.3px"><tspan font-style="italic">f</tspan>, GHz</text>
<text class="lab" transform="translate(1566.7,842.5) rotate(33)" style="font-size:29.5px" font-style="italic">μ</text>
<text class="lab" transform="translate(1579.2,862.0) rotate(33)" style="font-size:21.5px" font-style="italic">d</text>
<text class="lab" transform="translate(1434.7,718.7) rotate(-90)" style="font-size:31.5px"  stroke="#1f1f1f" stroke-width="0.85" textLength="39.8" lengthAdjust="spacingAndGlyphs">TD</text>
<text class="lab scr" transform="translate(1420.2,679.0) rotate(-90)" style="font-size:18.5px"  stroke="#1f1f1f" stroke-width="0.85" textLength="22" lengthAdjust="spacingAndGlyphs">ℋ</text>
<text class="lab" transform="translate(1434.7,671.2) rotate(-90)" style="font-size:31.5px"  stroke="#1f1f1f" stroke-width="0.85">,</text>
<text class="lab" transform="translate(1434.7,651.7) rotate(-90)" style="font-size:31.5px"  stroke="#1f1f1f" stroke-width="0.85" textLength="23.5" lengthAdjust="spacingAndGlyphs">m</text>
<text class="lab" transform="translate(1421.1,627.1) rotate(-90)" style="font-size:19px"  stroke="#1f1f1f" stroke-width="0.85">2</text>
</g>

<text class="sans" x="4.0" y="54.0" style="font-size:31.8px" textLength="38.6" lengthAdjust="spacing">(a)</text>
<text class="sans" x="703.0" y="54.0" style="font-size:31.8px" textLength="38.6" lengthAdjust="spacing">(b)</text>
<text class="sans" x="1403.0" y="54.0" style="font-size:31.8px" textLength="37.0" lengthAdjust="spacing">(c)</text>

</svg>
</body></html>
